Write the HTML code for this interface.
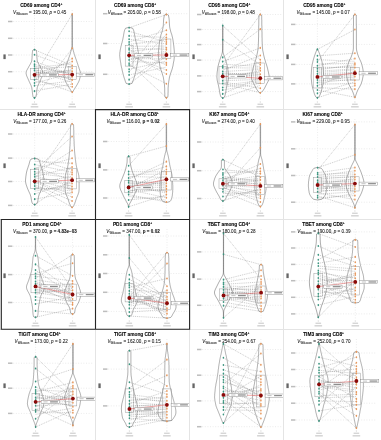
<!DOCTYPE html><html><head><meta charset="utf-8"><style>
body{margin:0;background:#fff;overflow:hidden;}
svg{display:block;will-change:transform;font-family:"Liberation Sans",sans-serif;}
.grid{stroke:#d2d2d2;stroke-width:0.45;stroke-dasharray:1 1.6;}
.vgrid{stroke:#cfcfcf;stroke-width:0.4;stroke-dasharray:1 1.6;}
.tickl{fill:#bdbdbd;}
.title{font-size:4.8px;font-weight:bold;fill:#000;stroke:#000;stroke-width:0.07;text-anchor:middle;}
.sup{font-size:3.2px;}
.sub{font-size:4.6px;fill:#111;stroke:#111;stroke-width:0.05;text-anchor:start;}
.subsc{font-size:2.85px;}
.ylab{fill:#666;}
.pair{stroke:#7e7e7e;stroke-width:0.4;stroke-dasharray:1 0.9;}
.vio{fill:#fff;stroke:#5a5a5a;stroke-width:0.5;}
.box{fill:none;stroke:#929292;stroke-width:0.45;}
.mline{stroke:#e45050;stroke-width:0.5;}
.lbox{fill:#fff;stroke:#808080;stroke-width:0.42;}
.lt1{fill:#c4c4c4;}
.lt2{fill:#8e8e8e;}
.xt{stroke:#aaa;stroke-width:0.4;}
.xl{fill:#d2d2d2;}
.sep{stroke:#e4e4e4;stroke-width:1;}
.frame{stroke:#262626;stroke-width:1.12;fill:none;}
</style></head><body>
<svg width="381" height="440" viewBox="0 0 381 440">
<rect width="381" height="440" fill="#fff"/>
<g transform="translate(0,0)">
<line x1="13.2" y1="21.50" x2="93.5" y2="21.50" class="grid"/>
<rect x="8" y="20.75" width="4.4" height="1.5" class="tickl"/>
<line x1="13.2" y1="38.30" x2="93.5" y2="38.30" class="grid"/>
<rect x="8" y="37.55" width="4.4" height="1.5" class="tickl"/>
<line x1="13.2" y1="55.00" x2="93.5" y2="55.00" class="grid"/>
<rect x="8" y="54.25" width="4.4" height="1.5" class="tickl"/>
<line x1="13.2" y1="71.70" x2="93.5" y2="71.70" class="grid"/>
<rect x="8" y="70.95" width="4.4" height="1.5" class="tickl"/>
<line x1="13.2" y1="88.30" x2="93.5" y2="88.30" class="grid"/>
<rect x="8" y="87.55" width="4.4" height="1.5" class="tickl"/>
<line x1="34.50" y1="10" x2="34.50" y2="102.5" class="vgrid"/>
<line x1="72.20" y1="10" x2="72.20" y2="102.5" class="vgrid"/>
<text x="41.20" y="7.3" class="title">CD69 among CD4<tspan class="sup" dy="-1.9">+</tspan></text>
<text x="13.10" y="14.3" class="sub"><tspan font-style="italic">V</tspan><tspan class="subsc" dy="0.9">Wilcoxon</tspan><tspan dy="-0.9"> = 195.00, </tspan><tspan font-style="italic">p</tspan> = 0.45</text>
<rect x="3.4" y="54.4" width="2.3" height="4.7" class="ylab"/>
<path d="M34.4,49.3 L32.7,50.3 L32.5,51.3 L32.4,52.3 L32.3,53.3 L32.2,54.3 L32.2,55.3 L32.1,56.3 L32.1,57.3 L32.0,58.3 L31.9,59.3 L31.8,60.3 L31.6,61.3 L31.2,62.3 L30.7,63.3 L30.2,64.3 L29.6,65.3 L29.0,66.3 L28.5,67.3 L27.9,68.3 L27.4,69.3 L26.8,70.3 L26.4,71.3 L26.2,72.3 L26.1,73.3 L26.3,74.3 L26.5,75.3 L26.9,76.3 L27.3,77.3 L27.8,78.3 L28.2,79.3 L28.7,80.3 L29.1,81.3 L29.6,82.3 L30.0,83.3 L30.5,84.3 L31.0,85.3 L31.3,86.3 L31.7,87.3 L31.9,88.3 L32.0,89.3 L32.2,90.3 L32.3,91.3 L32.4,92.3 L32.5,93.3 L32.6,94.3 L32.8,95.3 L32.9,96.3 L33.4,97.3 L34.4,98.3 L34.4,98.4 L34.6,98.4 L34.6,98.3 L35.6,97.3 L36.1,96.3 L36.2,95.3 L36.4,94.3 L36.5,93.3 L36.6,92.3 L36.7,91.3 L36.8,90.3 L37.0,89.3 L37.1,88.3 L37.3,87.3 L37.7,86.3 L38.0,85.3 L38.5,84.3 L39.0,83.3 L39.4,82.3 L39.9,81.3 L40.3,80.3 L40.8,79.3 L41.2,78.3 L41.7,77.3 L42.1,76.3 L42.5,75.3 L42.7,74.3 L42.9,73.3 L42.8,72.3 L42.6,71.3 L42.2,70.3 L41.6,69.3 L41.1,68.3 L40.5,67.3 L40.0,66.3 L39.4,65.3 L38.8,64.3 L38.3,63.3 L37.8,62.3 L37.4,61.3 L37.2,60.3 L37.1,59.3 L37.0,58.3 L36.9,57.3 L36.9,56.3 L36.8,55.3 L36.8,54.3 L36.7,53.3 L36.6,52.3 L36.5,51.3 L36.3,50.3 L34.6,49.3Z" class="vio"/>
<path d="M72.0,13.7 L72.0,14.7 L72.0,15.7 L72.0,16.7 L72.0,17.7 L72.0,18.7 L72.0,19.7 L72.0,20.7 L72.0,21.7 L72.0,22.7 L72.0,23.7 L72.0,24.7 L72.0,25.7 L72.0,26.7 L72.0,27.7 L72.0,28.7 L72.0,29.7 L72.0,30.7 L72.0,31.7 L72.0,32.7 L72.0,33.7 L72.0,34.7 L72.0,35.7 L72.0,36.7 L72.0,37.7 L72.0,38.7 L72.0,39.7 L72.0,40.7 L72.0,41.7 L72.0,42.7 L72.0,43.7 L72.0,44.7 L72.0,45.7 L71.9,46.7 L71.7,47.7 L71.5,48.7 L71.3,49.7 L71.1,50.7 L70.8,51.7 L70.5,52.7 L70.3,53.7 L70.0,54.7 L69.6,55.7 L69.3,56.7 L68.9,57.7 L68.6,58.7 L68.2,59.7 L67.9,60.7 L67.5,61.7 L67.2,62.7 L66.8,63.7 L66.5,64.7 L66.2,65.7 L65.8,66.7 L65.5,67.7 L65.2,68.7 L64.8,69.7 L64.5,70.7 L64.2,71.7 L64.0,72.7 L64.0,73.7 L64.0,74.7 L64.1,75.7 L64.2,76.7 L64.4,77.7 L64.7,78.7 L64.9,79.7 L65.3,80.7 L65.7,81.7 L66.2,82.7 L66.8,83.7 L67.3,84.7 L67.9,85.7 L68.5,86.7 L69.2,87.7 L69.8,88.7 L70.4,89.7 L71.0,90.7 L71.5,91.7 L72.0,92.5 L72.4,92.5 L72.9,91.7 L73.4,90.7 L74.0,89.7 L74.6,88.7 L75.2,87.7 L75.9,86.7 L76.5,85.7 L77.1,84.7 L77.6,83.7 L78.2,82.7 L78.7,81.7 L79.1,80.7 L79.5,79.7 L79.7,78.7 L80.0,77.7 L80.2,76.7 L80.3,75.7 L80.4,74.7 L80.4,73.7 L80.4,72.7 L80.2,71.7 L79.9,70.7 L79.6,69.7 L79.2,68.7 L78.9,67.7 L78.6,66.7 L78.2,65.7 L77.9,64.7 L77.6,63.7 L77.2,62.7 L76.9,61.7 L76.5,60.7 L76.2,59.7 L75.8,58.7 L75.5,57.7 L75.1,56.7 L74.8,55.7 L74.4,54.7 L74.1,53.7 L73.9,52.7 L73.6,51.7 L73.3,50.7 L73.1,49.7 L72.9,48.7 L72.7,47.7 L72.5,46.7 L72.4,45.7 L72.4,44.7 L72.4,43.7 L72.4,42.7 L72.4,41.7 L72.4,40.7 L72.4,39.7 L72.4,38.7 L72.4,37.7 L72.4,36.7 L72.4,35.7 L72.4,34.7 L72.4,33.7 L72.4,32.7 L72.4,31.7 L72.4,30.7 L72.4,29.7 L72.4,28.7 L72.4,27.7 L72.4,26.7 L72.4,25.7 L72.4,24.7 L72.4,23.7 L72.4,22.7 L72.4,21.7 L72.4,20.7 L72.4,19.7 L72.4,18.7 L72.4,17.7 L72.4,16.7 L72.4,15.7 L72.4,14.7 L72.4,13.7Z" class="vio"/>
<line x1="34.50" y1="49.80" x2="72.20" y2="65.51" class="pair"/>
<line x1="34.50" y1="54.82" x2="72.20" y2="68.27" class="pair"/>
<line x1="34.50" y1="61.33" x2="72.20" y2="74.97" class="pair"/>
<line x1="34.50" y1="64.28" x2="72.20" y2="75.95" class="pair"/>
<line x1="34.50" y1="66.12" x2="72.20" y2="74.18" class="pair"/>
<line x1="34.50" y1="67.47" x2="72.20" y2="63.74" class="pair"/>
<line x1="34.50" y1="68.57" x2="72.20" y2="66.89" class="pair"/>
<line x1="34.50" y1="69.55" x2="72.20" y2="79.89" class="pair"/>
<line x1="34.50" y1="70.54" x2="72.20" y2="71.42" class="pair"/>
<line x1="34.50" y1="71.27" x2="72.20" y2="82.26" class="pair"/>
<line x1="34.50" y1="72.01" x2="72.20" y2="78.71" class="pair"/>
<line x1="34.50" y1="72.75" x2="72.20" y2="72.41" class="pair"/>
<line x1="34.50" y1="73.36" x2="72.20" y2="70.44" class="pair"/>
<line x1="34.50" y1="74.10" x2="72.20" y2="61.57" class="pair"/>
<line x1="34.50" y1="74.83" x2="72.20" y2="77.73" class="pair"/>
<line x1="34.50" y1="75.69" x2="72.20" y2="14.20" class="pair"/>
<line x1="34.50" y1="76.55" x2="72.20" y2="76.74" class="pair"/>
<line x1="34.50" y1="77.53" x2="72.20" y2="69.45" class="pair"/>
<line x1="34.50" y1="78.64" x2="72.20" y2="92.00" class="pair"/>
<line x1="34.50" y1="79.86" x2="72.20" y2="58.62" class="pair"/>
<line x1="34.50" y1="81.22" x2="72.20" y2="86.79" class="pair"/>
<line x1="34.50" y1="83.06" x2="72.20" y2="73.19" class="pair"/>
<line x1="34.50" y1="85.63" x2="72.20" y2="80.88" class="pair"/>
<line x1="34.50" y1="91.16" x2="72.20" y2="84.03" class="pair"/>
<line x1="34.50" y1="97.90" x2="72.20" y2="48.37" class="pair"/>
<rect x="30.70" y="68.40" width="7.60" height="11.20" class="box"/>
<ellipse cx="34.50" cy="49.80" rx="0.8" ry="1.05" fill="#3a957f"/>
<ellipse cx="34.50" cy="54.82" rx="0.8" ry="1.05" fill="#3a957f"/>
<ellipse cx="34.50" cy="61.33" rx="0.8" ry="1.05" fill="#3a957f"/>
<ellipse cx="34.50" cy="64.28" rx="0.8" ry="1.05" fill="#3a957f"/>
<ellipse cx="34.50" cy="66.12" rx="0.8" ry="1.05" fill="#3a957f"/>
<ellipse cx="34.50" cy="68.57" rx="0.8" ry="1.05" fill="#3a957f"/>
<ellipse cx="34.50" cy="70.54" rx="0.8" ry="1.05" fill="#3a957f"/>
<ellipse cx="34.50" cy="74.10" rx="0.8" ry="1.05" fill="#3a957f"/>
<ellipse cx="34.50" cy="76.55" rx="0.8" ry="1.05" fill="#3a957f"/>
<ellipse cx="34.50" cy="79.86" rx="0.8" ry="1.05" fill="#3a957f"/>
<ellipse cx="34.50" cy="83.06" rx="0.8" ry="1.05" fill="#3a957f"/>
<ellipse cx="34.50" cy="85.63" rx="0.8" ry="1.05" fill="#3a957f"/>
<ellipse cx="34.50" cy="91.16" rx="0.8" ry="1.05" fill="#3a957f"/>
<ellipse cx="34.50" cy="97.90" rx="0.8" ry="1.05" fill="#3a957f"/>
<rect x="68.20" y="66.30" width="8.00" height="13.10" class="box"/>
<ellipse cx="72.20" cy="14.20" rx="0.8" ry="1.05" fill="#e8975a"/>
<ellipse cx="72.20" cy="48.37" rx="0.8" ry="1.05" fill="#e8975a"/>
<ellipse cx="72.20" cy="58.62" rx="0.8" ry="1.05" fill="#e8975a"/>
<ellipse cx="72.20" cy="61.57" rx="0.8" ry="1.05" fill="#e8975a"/>
<ellipse cx="72.20" cy="65.51" rx="0.8" ry="1.05" fill="#e8975a"/>
<ellipse cx="72.20" cy="68.27" rx="0.8" ry="1.05" fill="#e8975a"/>
<ellipse cx="72.20" cy="71.42" rx="0.8" ry="1.05" fill="#e8975a"/>
<ellipse cx="72.20" cy="74.18" rx="0.8" ry="1.05" fill="#e8975a"/>
<ellipse cx="72.20" cy="76.74" rx="0.8" ry="1.05" fill="#e8975a"/>
<ellipse cx="72.20" cy="79.89" rx="0.8" ry="1.05" fill="#e8975a"/>
<ellipse cx="72.20" cy="84.03" rx="0.8" ry="1.05" fill="#e8975a"/>
<ellipse cx="72.20" cy="86.79" rx="0.8" ry="1.05" fill="#e8975a"/>
<ellipse cx="72.20" cy="92.00" rx="0.8" ry="1.05" fill="#e8975a"/>
<line x1="34.50" y1="74.80" x2="72.20" y2="74.60" class="mline"/>
<circle cx="34.50" cy="74.80" r="1.9" fill="#8a0a0a"/>
<circle cx="72.20" cy="74.60" r="1.9" fill="#8a0a0a"/>
<rect x="40.00" y="73.30" width="18.2" height="3.2" class="lbox"/>
<rect x="42.30" y="74.40" width="4.2" height="1.0" class="lt1"/>
<rect x="49.00" y="74.25" width="7.8" height="1.25" class="lt2"/>
<rect x="76.40" y="73.10" width="18.2" height="3.2" class="lbox"/>
<rect x="78.70" y="74.20" width="4.2" height="1.0" class="lt1"/>
<rect x="85.40" y="74.05" width="7.8" height="1.25" class="lt2"/>
<line x1="34.50" y1="101.8" x2="34.50" y2="102.8" class="xt"/>
<rect x="31.70" y="103.6" width="5.6" height="1.3" class="xl"/>
<rect x="30.70" y="106.1" width="7.6" height="1.4" class="xl"/>
<line x1="72.20" y1="101.8" x2="72.20" y2="102.8" class="xt"/>
<rect x="69.40" y="103.6" width="5.6" height="1.3" class="xl"/>
<rect x="68.40" y="106.1" width="7.6" height="1.4" class="xl"/>
</g>
<g transform="translate(95,0)">
<line x1="13.2" y1="13.70" x2="93.5" y2="13.70" class="grid"/>
<rect x="8" y="12.95" width="4.4" height="1.5" class="tickl"/>
<line x1="13.2" y1="43.50" x2="93.5" y2="43.50" class="grid"/>
<rect x="8" y="42.75" width="4.4" height="1.5" class="tickl"/>
<line x1="13.2" y1="74.30" x2="93.5" y2="74.30" class="grid"/>
<rect x="8" y="73.55" width="4.4" height="1.5" class="tickl"/>
<line x1="34.10" y1="10" x2="34.10" y2="102.5" class="vgrid"/>
<line x1="71.40" y1="10" x2="71.40" y2="102.5" class="vgrid"/>
<text x="40.00" y="7.3" class="title">CD69 among CD8<tspan class="sup" dy="-1.9">+</tspan></text>
<text x="12.70" y="14.3" class="sub"><tspan font-style="italic">V</tspan><tspan class="subsc" dy="0.9">Wilcoxon</tspan><tspan dy="-0.9"> = 205.00, </tspan><tspan font-style="italic">p</tspan> = 0.58</text>
<rect x="3.4" y="54.4" width="2.3" height="4.7" class="ylab"/>
<path d="M34.0,27.3 L30.5,28.3 L30.0,29.3 L29.6,30.3 L29.3,31.3 L29.1,32.3 L28.9,33.3 L28.7,34.3 L28.6,35.3 L28.4,36.3 L28.2,37.3 L28.0,38.3 L27.8,39.3 L27.6,40.3 L27.3,41.3 L27.1,42.3 L26.8,43.3 L26.5,44.3 L26.3,45.3 L26.0,46.3 L25.8,47.3 L25.6,48.3 L25.4,49.3 L25.2,50.3 L25.1,51.3 L24.9,52.3 L24.8,53.3 L24.8,54.3 L24.7,55.3 L24.8,56.3 L24.9,57.3 L25.0,58.3 L25.1,59.3 L25.3,60.3 L25.4,61.3 L25.6,62.3 L25.8,63.3 L25.9,64.3 L26.1,65.3 L26.3,66.3 L26.5,67.3 L26.8,68.3 L27.0,69.3 L27.2,70.3 L27.4,71.3 L27.7,72.3 L27.9,73.3 L28.2,74.3 L28.4,75.3 L28.7,76.3 L29.0,77.3 L29.3,78.3 L29.7,79.3 L30.0,80.3 L30.3,81.3 L30.7,82.3 L31.1,83.3 L34.0,84.3 L34.0,84.5 L34.2,84.5 L34.2,84.3 L37.1,83.3 L37.5,82.3 L37.9,81.3 L38.2,80.3 L38.5,79.3 L38.9,78.3 L39.2,77.3 L39.5,76.3 L39.8,75.3 L40.0,74.3 L40.3,73.3 L40.5,72.3 L40.8,71.3 L41.0,70.3 L41.2,69.3 L41.4,68.3 L41.7,67.3 L41.9,66.3 L42.1,65.3 L42.3,64.3 L42.4,63.3 L42.6,62.3 L42.8,61.3 L42.9,60.3 L43.1,59.3 L43.2,58.3 L43.3,57.3 L43.4,56.3 L43.5,55.3 L43.4,54.3 L43.4,53.3 L43.3,52.3 L43.1,51.3 L43.0,50.3 L42.8,49.3 L42.6,48.3 L42.4,47.3 L42.2,46.3 L41.9,45.3 L41.7,44.3 L41.4,43.3 L41.1,42.3 L40.9,41.3 L40.6,40.3 L40.4,39.3 L40.2,38.3 L40.0,37.3 L39.8,36.3 L39.6,35.3 L39.5,34.3 L39.3,33.3 L39.1,32.3 L38.9,31.3 L38.6,30.3 L38.2,29.3 L37.7,28.3 L34.2,27.3Z" class="vio"/>
<path d="M71.2,14.1 L69.4,15.1 L69.2,16.1 L69.0,17.1 L68.8,18.1 L68.7,19.1 L68.6,20.1 L68.5,21.1 L68.5,22.1 L68.4,23.1 L68.4,24.1 L68.3,25.1 L68.2,26.1 L68.1,27.1 L67.9,28.1 L67.7,29.1 L67.4,30.1 L67.2,31.1 L66.9,32.1 L66.6,33.1 L66.2,34.1 L65.9,35.1 L65.7,36.1 L65.4,37.1 L65.2,38.1 L65.0,39.1 L64.8,40.1 L64.7,41.1 L64.5,42.1 L64.4,43.1 L64.3,44.1 L64.1,45.1 L64.0,46.1 L63.9,47.1 L63.8,48.1 L63.7,49.1 L63.6,50.1 L63.5,51.1 L63.5,52.1 L63.4,53.1 L63.4,54.1 L63.4,55.1 L63.4,56.1 L63.5,57.1 L63.6,58.1 L63.7,59.1 L63.8,60.1 L64.0,61.1 L64.2,62.1 L64.4,63.1 L64.6,64.1 L64.7,65.1 L64.9,66.1 L65.2,67.1 L65.4,68.1 L65.7,69.1 L66.0,70.1 L66.4,71.1 L66.7,72.1 L67.1,73.1 L67.4,74.1 L67.7,75.1 L68.0,76.1 L68.3,77.1 L68.5,78.1 L68.6,79.1 L68.8,80.1 L69.0,81.1 L69.1,82.1 L69.2,83.1 L69.4,84.1 L69.5,85.1 L69.5,86.1 L69.6,87.1 L69.7,88.1 L69.7,89.1 L69.7,90.1 L69.7,91.1 L69.7,92.1 L69.8,93.1 L69.8,94.1 L69.8,95.1 L69.9,96.1 L70.0,97.1 L71.2,98.1 L71.2,98.2 L71.6,98.2 L71.6,98.1 L72.8,97.1 L72.9,96.1 L73.0,95.1 L73.0,94.1 L73.0,93.1 L73.1,92.1 L73.1,91.1 L73.1,90.1 L73.1,89.1 L73.1,88.1 L73.2,87.1 L73.3,86.1 L73.3,85.1 L73.4,84.1 L73.6,83.1 L73.7,82.1 L73.8,81.1 L74.0,80.1 L74.2,79.1 L74.3,78.1 L74.5,77.1 L74.8,76.1 L75.1,75.1 L75.4,74.1 L75.7,73.1 L76.1,72.1 L76.4,71.1 L76.8,70.1 L77.1,69.1 L77.4,68.1 L77.6,67.1 L77.9,66.1 L78.1,65.1 L78.2,64.1 L78.4,63.1 L78.6,62.1 L78.8,61.1 L79.0,60.1 L79.1,59.1 L79.2,58.1 L79.3,57.1 L79.4,56.1 L79.4,55.1 L79.4,54.1 L79.4,53.1 L79.3,52.1 L79.3,51.1 L79.2,50.1 L79.1,49.1 L79.0,48.1 L78.9,47.1 L78.8,46.1 L78.7,45.1 L78.5,44.1 L78.4,43.1 L78.3,42.1 L78.1,41.1 L78.0,40.1 L77.8,39.1 L77.6,38.1 L77.4,37.1 L77.1,36.1 L76.9,35.1 L76.6,34.1 L76.2,33.1 L75.9,32.1 L75.6,31.1 L75.4,30.1 L75.1,29.1 L74.9,28.1 L74.7,27.1 L74.6,26.1 L74.5,25.1 L74.4,24.1 L74.4,23.1 L74.3,22.1 L74.3,21.1 L74.2,20.1 L74.1,19.1 L74.0,18.1 L73.8,17.1 L73.6,16.1 L73.4,15.1 L71.6,14.1Z" class="vio"/>
<line x1="34.10" y1="27.80" x2="71.40" y2="14.60" class="pair"/>
<line x1="34.10" y1="31.30" x2="71.40" y2="42.06" class="pair"/>
<line x1="34.10" y1="35.88" x2="71.40" y2="37.44" class="pair"/>
<line x1="34.10" y1="39.31" x2="71.40" y2="43.96" class="pair"/>
<line x1="34.10" y1="42.03" x2="71.40" y2="30.29" class="pair"/>
<line x1="34.10" y1="44.32" x2="71.40" y2="39.75" class="pair"/>
<line x1="34.10" y1="46.32" x2="71.40" y2="46.06" class="pair"/>
<line x1="34.10" y1="48.18" x2="71.40" y2="49.63" class="pair"/>
<line x1="34.10" y1="49.75" x2="71.40" y2="64.98" class="pair"/>
<line x1="34.10" y1="51.32" x2="71.40" y2="47.74" class="pair"/>
<line x1="34.10" y1="52.75" x2="71.40" y2="57.41" class="pair"/>
<line x1="34.10" y1="54.18" x2="71.40" y2="74.02" class="pair"/>
<line x1="34.10" y1="55.47" x2="71.40" y2="70.03" class="pair"/>
<line x1="34.10" y1="56.90" x2="71.40" y2="51.31" class="pair"/>
<line x1="34.10" y1="58.33" x2="71.40" y2="59.09" class="pair"/>
<line x1="34.10" y1="59.90" x2="71.40" y2="52.79" class="pair"/>
<line x1="34.10" y1="61.48" x2="71.40" y2="62.88" class="pair"/>
<line x1="34.10" y1="63.19" x2="71.40" y2="97.70" class="pair"/>
<line x1="34.10" y1="65.05" x2="71.40" y2="83.69" class="pair"/>
<line x1="34.10" y1="67.05" x2="71.40" y2="22.51" class="pair"/>
<line x1="34.10" y1="69.34" x2="71.40" y2="60.99" class="pair"/>
<line x1="34.10" y1="71.77" x2="71.40" y2="34.49" class="pair"/>
<line x1="34.10" y1="74.92" x2="71.40" y2="67.08" class="pair"/>
<line x1="34.10" y1="79.64" x2="71.40" y2="54.47" class="pair"/>
<line x1="34.10" y1="84.00" x2="71.40" y2="55.94" class="pair"/>
<rect x="30.20" y="45.70" width="7.80" height="20.40" class="box"/>
<ellipse cx="34.10" cy="27.80" rx="0.8" ry="1.05" fill="#3a957f"/>
<ellipse cx="34.10" cy="31.30" rx="0.8" ry="1.05" fill="#3a957f"/>
<ellipse cx="34.10" cy="35.88" rx="0.8" ry="1.05" fill="#3a957f"/>
<ellipse cx="34.10" cy="39.31" rx="0.8" ry="1.05" fill="#3a957f"/>
<ellipse cx="34.10" cy="42.03" rx="0.8" ry="1.05" fill="#3a957f"/>
<ellipse cx="34.10" cy="44.32" rx="0.8" ry="1.05" fill="#3a957f"/>
<ellipse cx="34.10" cy="48.18" rx="0.8" ry="1.05" fill="#3a957f"/>
<ellipse cx="34.10" cy="49.75" rx="0.8" ry="1.05" fill="#3a957f"/>
<ellipse cx="34.10" cy="52.75" rx="0.8" ry="1.05" fill="#3a957f"/>
<ellipse cx="34.10" cy="56.90" rx="0.8" ry="1.05" fill="#3a957f"/>
<ellipse cx="34.10" cy="59.90" rx="0.8" ry="1.05" fill="#3a957f"/>
<ellipse cx="34.10" cy="63.19" rx="0.8" ry="1.05" fill="#3a957f"/>
<ellipse cx="34.10" cy="65.05" rx="0.8" ry="1.05" fill="#3a957f"/>
<ellipse cx="34.10" cy="69.34" rx="0.8" ry="1.05" fill="#3a957f"/>
<ellipse cx="34.10" cy="71.77" rx="0.8" ry="1.05" fill="#3a957f"/>
<ellipse cx="34.10" cy="74.92" rx="0.8" ry="1.05" fill="#3a957f"/>
<ellipse cx="34.10" cy="79.64" rx="0.8" ry="1.05" fill="#3a957f"/>
<ellipse cx="34.10" cy="84.00" rx="0.8" ry="1.05" fill="#3a957f"/>
<rect x="66.90" y="39.00" width="9.00" height="19.40" class="box"/>
<ellipse cx="71.40" cy="14.60" rx="0.8" ry="1.05" fill="#e8975a"/>
<ellipse cx="71.40" cy="22.51" rx="0.8" ry="1.05" fill="#e8975a"/>
<ellipse cx="71.40" cy="30.29" rx="0.8" ry="1.05" fill="#e8975a"/>
<ellipse cx="71.40" cy="34.49" rx="0.8" ry="1.05" fill="#e8975a"/>
<ellipse cx="71.40" cy="37.44" rx="0.8" ry="1.05" fill="#e8975a"/>
<ellipse cx="71.40" cy="39.75" rx="0.8" ry="1.05" fill="#e8975a"/>
<ellipse cx="71.40" cy="42.06" rx="0.8" ry="1.05" fill="#e8975a"/>
<ellipse cx="71.40" cy="43.96" rx="0.8" ry="1.05" fill="#e8975a"/>
<ellipse cx="71.40" cy="47.74" rx="0.8" ry="1.05" fill="#e8975a"/>
<ellipse cx="71.40" cy="49.63" rx="0.8" ry="1.05" fill="#e8975a"/>
<ellipse cx="71.40" cy="52.79" rx="0.8" ry="1.05" fill="#e8975a"/>
<ellipse cx="71.40" cy="55.94" rx="0.8" ry="1.05" fill="#e8975a"/>
<ellipse cx="71.40" cy="59.09" rx="0.8" ry="1.05" fill="#e8975a"/>
<ellipse cx="71.40" cy="62.88" rx="0.8" ry="1.05" fill="#e8975a"/>
<ellipse cx="71.40" cy="64.98" rx="0.8" ry="1.05" fill="#e8975a"/>
<ellipse cx="71.40" cy="70.03" rx="0.8" ry="1.05" fill="#e8975a"/>
<ellipse cx="71.40" cy="74.02" rx="0.8" ry="1.05" fill="#e8975a"/>
<ellipse cx="71.40" cy="83.69" rx="0.8" ry="1.05" fill="#e8975a"/>
<ellipse cx="71.40" cy="97.70" rx="0.8" ry="1.05" fill="#e8975a"/>
<line x1="34.10" y1="55.30" x2="71.40" y2="55.00" class="mline"/>
<circle cx="34.10" cy="55.30" r="1.9" fill="#8a0a0a"/>
<circle cx="71.40" cy="55.00" r="1.9" fill="#8a0a0a"/>
<rect x="39.60" y="53.80" width="18.2" height="3.2" class="lbox"/>
<rect x="41.90" y="54.90" width="4.2" height="1.0" class="lt1"/>
<rect x="48.60" y="54.75" width="7.8" height="1.25" class="lt2"/>
<rect x="75.60" y="53.50" width="18.2" height="3.2" class="lbox"/>
<rect x="77.90" y="54.60" width="4.2" height="1.0" class="lt1"/>
<rect x="84.60" y="54.45" width="7.8" height="1.25" class="lt2"/>
<line x1="34.10" y1="101.8" x2="34.10" y2="102.8" class="xt"/>
<rect x="31.30" y="103.6" width="5.6" height="1.3" class="xl"/>
<rect x="30.30" y="106.1" width="7.6" height="1.4" class="xl"/>
<line x1="71.40" y1="101.8" x2="71.40" y2="102.8" class="xt"/>
<rect x="68.60" y="103.6" width="5.6" height="1.3" class="xl"/>
<rect x="67.60" y="106.1" width="7.6" height="1.4" class="xl"/>
</g>
<g transform="translate(189,0)">
<line x1="13.2" y1="14.50" x2="93.5" y2="14.50" class="grid"/>
<rect x="8" y="13.75" width="4.4" height="1.5" class="tickl"/>
<line x1="13.2" y1="29.50" x2="93.5" y2="29.50" class="grid"/>
<rect x="8" y="28.75" width="4.4" height="1.5" class="tickl"/>
<line x1="13.2" y1="44.60" x2="93.5" y2="44.60" class="grid"/>
<rect x="8" y="43.85" width="4.4" height="1.5" class="tickl"/>
<line x1="13.2" y1="60.10" x2="93.5" y2="60.10" class="grid"/>
<rect x="8" y="59.35" width="4.4" height="1.5" class="tickl"/>
<line x1="13.2" y1="75.90" x2="93.5" y2="75.90" class="grid"/>
<rect x="8" y="75.15" width="4.4" height="1.5" class="tickl"/>
<line x1="13.2" y1="91.60" x2="93.5" y2="91.60" class="grid"/>
<rect x="8" y="90.85" width="4.4" height="1.5" class="tickl"/>
<line x1="33.70" y1="10" x2="33.70" y2="102.5" class="vgrid"/>
<line x1="71.30" y1="10" x2="71.30" y2="102.5" class="vgrid"/>
<text x="40.20" y="7.3" class="title">CD95 among CD4<tspan class="sup" dy="-1.9">+</tspan></text>
<text x="12.70" y="14.3" class="sub"><tspan font-style="italic">V</tspan><tspan class="subsc" dy="0.9">Wilcoxon</tspan><tspan dy="-0.9"> = 198.00, </tspan><tspan font-style="italic">p</tspan> = 0.48</text>
<rect x="3.4" y="54.4" width="2.3" height="4.7" class="ylab"/>
<path d="M33.6,25.1 L33.6,26.1 L33.6,27.1 L33.6,28.1 L33.6,29.1 L33.6,30.1 L33.6,31.1 L33.6,32.1 L33.6,33.1 L33.6,34.1 L33.6,35.1 L33.6,36.1 L33.6,37.1 L33.6,38.1 L33.6,39.1 L33.6,40.1 L33.6,41.1 L33.6,42.1 L33.6,43.1 L33.6,44.1 L33.6,45.1 L33.6,46.1 L33.6,47.1 L33.6,48.1 L33.6,49.1 L33.5,50.1 L33.5,51.1 L33.4,52.1 L33.2,53.1 L32.9,54.1 L32.6,55.1 L32.2,56.1 L31.8,57.1 L31.5,58.1 L31.1,59.1 L30.8,60.1 L30.5,61.1 L30.2,62.1 L29.9,63.1 L29.6,64.1 L29.4,65.1 L29.1,66.1 L28.9,67.1 L28.7,68.1 L28.6,69.1 L28.5,70.1 L28.3,71.1 L28.2,72.1 L28.1,73.1 L28.0,74.1 L28.0,75.1 L27.9,76.1 L27.9,77.1 L28.0,78.1 L28.1,79.1 L28.2,80.1 L28.4,81.1 L28.6,82.1 L28.9,83.1 L29.1,84.1 L29.4,85.1 L29.6,86.1 L29.8,87.1 L30.0,88.1 L30.2,89.1 L30.4,90.1 L30.5,91.1 L30.7,92.1 L30.8,93.1 L31.1,94.1 L31.3,95.1 L31.6,96.1 L32.1,97.1 L33.6,98.1 L33.6,98.5 L33.9,98.5 L33.9,98.1 L35.3,97.1 L35.8,96.1 L36.1,95.1 L36.3,94.1 L36.6,93.1 L36.7,92.1 L36.9,91.1 L37.0,90.1 L37.2,89.1 L37.4,88.1 L37.6,87.1 L37.8,86.1 L38.0,85.1 L38.3,84.1 L38.5,83.1 L38.8,82.1 L39.0,81.1 L39.2,80.1 L39.3,79.1 L39.4,78.1 L39.5,77.1 L39.5,76.1 L39.4,75.1 L39.4,74.1 L39.3,73.1 L39.2,72.1 L39.1,71.1 L38.9,70.1 L38.8,69.1 L38.7,68.1 L38.5,67.1 L38.3,66.1 L38.0,65.1 L37.8,64.1 L37.5,63.1 L37.2,62.1 L36.9,61.1 L36.6,60.1 L36.3,59.1 L35.9,58.1 L35.6,57.1 L35.2,56.1 L34.8,55.1 L34.5,54.1 L34.2,53.1 L34.0,52.1 L33.9,51.1 L33.9,50.1 L33.9,49.1 L33.9,48.1 L33.9,47.1 L33.9,46.1 L33.9,45.1 L33.9,44.1 L33.9,43.1 L33.9,42.1 L33.9,41.1 L33.9,40.1 L33.9,39.1 L33.9,38.1 L33.9,37.1 L33.9,36.1 L33.9,35.1 L33.9,34.1 L33.9,33.1 L33.9,32.1 L33.9,31.1 L33.9,30.1 L33.9,29.1 L33.9,28.1 L33.9,27.1 L33.9,26.1 L33.9,25.1Z" class="vio"/>
<path d="M71.1,14.1 L70.0,15.1 L69.9,16.1 L69.9,17.1 L69.9,18.1 L69.9,19.1 L69.8,20.1 L69.8,21.1 L69.8,22.1 L69.8,23.1 L69.8,24.1 L69.8,25.1 L69.7,26.1 L69.7,27.1 L69.7,28.1 L69.7,29.1 L69.7,30.1 L69.7,31.1 L69.6,32.1 L69.6,33.1 L69.6,34.1 L69.6,35.1 L69.6,36.1 L69.6,37.1 L69.5,38.1 L69.5,39.1 L69.5,40.1 L69.5,41.1 L69.4,42.1 L69.4,43.1 L69.4,44.1 L69.3,45.1 L69.3,46.1 L69.2,47.1 L69.1,48.1 L69.0,49.1 L68.9,50.1 L68.7,51.1 L68.5,52.1 L68.3,53.1 L68.1,54.1 L67.9,55.1 L67.7,56.1 L67.4,57.1 L67.2,58.1 L66.9,59.1 L66.6,60.1 L66.3,61.1 L66.0,62.1 L65.7,63.1 L65.3,64.1 L65.0,65.1 L64.7,66.1 L64.4,67.1 L64.1,68.1 L63.9,69.1 L63.7,70.1 L63.4,71.1 L63.2,72.1 L63.0,73.1 L62.8,74.1 L62.6,75.1 L62.5,76.1 L62.5,77.1 L62.5,78.1 L62.7,79.1 L63.0,80.1 L63.4,81.1 L63.9,82.1 L64.5,83.1 L65.0,84.1 L65.5,85.1 L66.0,86.1 L66.5,87.1 L67.0,88.1 L67.6,89.1 L68.3,90.1 L69.0,91.1 L70.0,92.1 L71.1,93.1 L71.1,93.2 L71.5,93.2 L71.5,93.1 L72.6,92.1 L73.6,91.1 L74.3,90.1 L75.0,89.1 L75.6,88.1 L76.1,87.1 L76.6,86.1 L77.1,85.1 L77.6,84.1 L78.1,83.1 L78.7,82.1 L79.2,81.1 L79.6,80.1 L79.9,79.1 L80.1,78.1 L80.1,77.1 L80.1,76.1 L80.0,75.1 L79.8,74.1 L79.6,73.1 L79.4,72.1 L79.2,71.1 L78.9,70.1 L78.7,69.1 L78.5,68.1 L78.2,67.1 L77.9,66.1 L77.6,65.1 L77.3,64.1 L76.9,63.1 L76.6,62.1 L76.3,61.1 L76.0,60.1 L75.7,59.1 L75.4,58.1 L75.2,57.1 L74.9,56.1 L74.7,55.1 L74.5,54.1 L74.3,53.1 L74.1,52.1 L73.9,51.1 L73.7,50.1 L73.6,49.1 L73.5,48.1 L73.4,47.1 L73.3,46.1 L73.3,45.1 L73.2,44.1 L73.2,43.1 L73.2,42.1 L73.1,41.1 L73.1,40.1 L73.1,39.1 L73.1,38.1 L73.0,37.1 L73.0,36.1 L73.0,35.1 L73.0,34.1 L73.0,33.1 L73.0,32.1 L72.9,31.1 L72.9,30.1 L72.9,29.1 L72.9,28.1 L72.9,27.1 L72.9,26.1 L72.8,25.1 L72.8,24.1 L72.8,23.1 L72.8,22.1 L72.8,21.1 L72.8,20.1 L72.7,19.1 L72.7,18.1 L72.7,17.1 L72.7,16.1 L72.6,15.1 L71.5,14.1Z" class="vio"/>
<line x1="33.70" y1="25.60" x2="71.30" y2="59.78" class="pair"/>
<line x1="33.70" y1="39.78" x2="71.30" y2="64.72" class="pair"/>
<line x1="33.70" y1="57.40" x2="71.30" y2="29.13" class="pair"/>
<line x1="33.70" y1="61.62" x2="71.30" y2="47.92" class="pair"/>
<line x1="33.70" y1="64.19" x2="71.30" y2="66.50" class="pair"/>
<line x1="33.70" y1="66.02" x2="71.30" y2="14.60" class="pair"/>
<line x1="33.70" y1="67.67" x2="71.30" y2="68.09" class="pair"/>
<line x1="33.70" y1="68.96" x2="71.30" y2="62.55" class="pair"/>
<line x1="33.70" y1="70.24" x2="71.30" y2="55.43" class="pair"/>
<line x1="33.70" y1="71.53" x2="71.30" y2="69.47" class="pair"/>
<line x1="33.70" y1="72.81" x2="71.30" y2="75.20" class="pair"/>
<line x1="33.70" y1="73.91" x2="71.30" y2="73.03" class="pair"/>
<line x1="33.70" y1="75.01" x2="71.30" y2="76.39" class="pair"/>
<line x1="33.70" y1="76.11" x2="71.30" y2="78.37" class="pair"/>
<line x1="33.70" y1="77.21" x2="71.30" y2="72.04" class="pair"/>
<line x1="33.70" y1="78.13" x2="71.30" y2="70.66" class="pair"/>
<line x1="33.70" y1="79.42" x2="71.30" y2="74.22" class="pair"/>
<line x1="33.70" y1="80.70" x2="71.30" y2="79.36" class="pair"/>
<line x1="33.70" y1="81.98" x2="71.30" y2="88.26" class="pair"/>
<line x1="33.70" y1="83.45" x2="71.30" y2="92.70" class="pair"/>
<line x1="33.70" y1="85.29" x2="71.30" y2="80.54" class="pair"/>
<line x1="33.70" y1="87.49" x2="71.30" y2="81.93" class="pair"/>
<line x1="33.70" y1="90.06" x2="71.30" y2="83.31" class="pair"/>
<line x1="33.70" y1="93.91" x2="71.30" y2="77.38" class="pair"/>
<line x1="33.70" y1="98.00" x2="71.30" y2="85.29" class="pair"/>
<rect x="30.00" y="66.60" width="7.40" height="17.30" class="box"/>
<ellipse cx="33.70" cy="25.60" rx="0.8" ry="1.05" fill="#3a957f"/>
<ellipse cx="33.70" cy="39.78" rx="0.8" ry="1.05" fill="#3a957f"/>
<ellipse cx="33.70" cy="57.40" rx="0.8" ry="1.05" fill="#3a957f"/>
<ellipse cx="33.70" cy="61.62" rx="0.8" ry="1.05" fill="#3a957f"/>
<ellipse cx="33.70" cy="66.02" rx="0.8" ry="1.05" fill="#3a957f"/>
<ellipse cx="33.70" cy="67.67" rx="0.8" ry="1.05" fill="#3a957f"/>
<ellipse cx="33.70" cy="71.53" rx="0.8" ry="1.05" fill="#3a957f"/>
<ellipse cx="33.70" cy="73.91" rx="0.8" ry="1.05" fill="#3a957f"/>
<ellipse cx="33.70" cy="77.21" rx="0.8" ry="1.05" fill="#3a957f"/>
<ellipse cx="33.70" cy="80.70" rx="0.8" ry="1.05" fill="#3a957f"/>
<ellipse cx="33.70" cy="83.45" rx="0.8" ry="1.05" fill="#3a957f"/>
<ellipse cx="33.70" cy="87.49" rx="0.8" ry="1.05" fill="#3a957f"/>
<ellipse cx="33.70" cy="90.06" rx="0.8" ry="1.05" fill="#3a957f"/>
<ellipse cx="33.70" cy="93.91" rx="0.8" ry="1.05" fill="#3a957f"/>
<ellipse cx="33.70" cy="98.00" rx="0.8" ry="1.05" fill="#3a957f"/>
<rect x="66.90" y="63.00" width="8.80" height="20.40" class="box"/>
<ellipse cx="71.30" cy="14.60" rx="0.8" ry="1.05" fill="#e8975a"/>
<ellipse cx="71.30" cy="29.13" rx="0.8" ry="1.05" fill="#e8975a"/>
<ellipse cx="71.30" cy="47.92" rx="0.8" ry="1.05" fill="#e8975a"/>
<ellipse cx="71.30" cy="55.43" rx="0.8" ry="1.05" fill="#e8975a"/>
<ellipse cx="71.30" cy="59.78" rx="0.8" ry="1.05" fill="#e8975a"/>
<ellipse cx="71.30" cy="62.55" rx="0.8" ry="1.05" fill="#e8975a"/>
<ellipse cx="71.30" cy="64.72" rx="0.8" ry="1.05" fill="#e8975a"/>
<ellipse cx="71.30" cy="68.09" rx="0.8" ry="1.05" fill="#e8975a"/>
<ellipse cx="71.30" cy="70.66" rx="0.8" ry="1.05" fill="#e8975a"/>
<ellipse cx="71.30" cy="74.22" rx="0.8" ry="1.05" fill="#e8975a"/>
<ellipse cx="71.30" cy="77.38" rx="0.8" ry="1.05" fill="#e8975a"/>
<ellipse cx="71.30" cy="80.54" rx="0.8" ry="1.05" fill="#e8975a"/>
<ellipse cx="71.30" cy="83.31" rx="0.8" ry="1.05" fill="#e8975a"/>
<ellipse cx="71.30" cy="88.26" rx="0.8" ry="1.05" fill="#e8975a"/>
<ellipse cx="71.30" cy="92.70" rx="0.8" ry="1.05" fill="#e8975a"/>
<line x1="33.70" y1="76.30" x2="71.30" y2="78.20" class="mline"/>
<circle cx="33.70" cy="76.30" r="1.9" fill="#8a0a0a"/>
<circle cx="71.30" cy="78.20" r="1.9" fill="#8a0a0a"/>
<rect x="39.20" y="74.80" width="18.2" height="3.2" class="lbox"/>
<rect x="41.50" y="75.90" width="4.2" height="1.0" class="lt1"/>
<rect x="48.20" y="75.75" width="7.8" height="1.25" class="lt2"/>
<rect x="75.50" y="76.70" width="18.2" height="3.2" class="lbox"/>
<rect x="77.80" y="77.80" width="4.2" height="1.0" class="lt1"/>
<rect x="84.50" y="77.65" width="7.8" height="1.25" class="lt2"/>
<line x1="33.70" y1="101.8" x2="33.70" y2="102.8" class="xt"/>
<rect x="30.90" y="103.6" width="5.6" height="1.3" class="xl"/>
<rect x="29.90" y="106.1" width="7.6" height="1.4" class="xl"/>
<line x1="71.30" y1="101.8" x2="71.30" y2="102.8" class="xt"/>
<rect x="68.50" y="103.6" width="5.6" height="1.3" class="xl"/>
<rect x="67.50" y="106.1" width="7.6" height="1.4" class="xl"/>
</g>
<g transform="translate(283,0)">
<line x1="13.2" y1="24.40" x2="93.5" y2="24.40" class="grid"/>
<rect x="8" y="23.65" width="4.4" height="1.5" class="tickl"/>
<line x1="13.2" y1="44.40" x2="93.5" y2="44.40" class="grid"/>
<rect x="8" y="43.65" width="4.4" height="1.5" class="tickl"/>
<line x1="13.2" y1="64.40" x2="93.5" y2="64.40" class="grid"/>
<rect x="8" y="63.65" width="4.4" height="1.5" class="tickl"/>
<line x1="13.2" y1="83.90" x2="93.5" y2="83.90" class="grid"/>
<rect x="8" y="83.15" width="4.4" height="1.5" class="tickl"/>
<line x1="34.40" y1="10" x2="34.40" y2="102.5" class="vgrid"/>
<line x1="71.90" y1="10" x2="71.90" y2="102.5" class="vgrid"/>
<text x="41.20" y="7.3" class="title">CD95 among CD8<tspan class="sup" dy="-1.9">+</tspan></text>
<text x="13.50" y="14.3" class="sub"><tspan font-style="italic">V</tspan><tspan class="subsc" dy="0.9">Wilcoxon</tspan><tspan dy="-0.9"> = 145.00, </tspan><tspan font-style="italic">p</tspan> = 0.07</text>
<rect x="3.4" y="54.4" width="2.3" height="4.7" class="ylab"/>
<path d="M34.2,48.9 L33.8,49.9 L33.4,50.9 L33.0,51.9 L32.6,52.9 L32.2,53.9 L31.9,54.9 L31.5,55.9 L31.2,56.9 L30.9,57.9 L30.6,58.9 L30.3,59.9 L30.0,60.9 L29.8,61.9 L29.6,62.9 L29.3,63.9 L29.1,64.9 L29.0,65.9 L28.8,66.9 L28.7,67.9 L28.6,68.9 L28.5,69.9 L28.4,70.9 L28.4,71.9 L28.3,72.9 L28.3,73.9 L28.2,74.9 L28.2,75.9 L28.2,76.9 L28.2,77.9 L28.3,78.9 L28.4,79.9 L28.5,80.9 L28.6,81.9 L28.7,82.9 L28.8,83.9 L29.0,84.9 L29.2,85.9 L29.4,86.9 L29.6,87.9 L29.9,88.9 L30.2,89.9 L30.5,90.9 L30.8,91.9 L31.1,92.9 L31.4,93.9 L31.8,94.9 L32.3,95.9 L32.8,96.9 L34.2,97.9 L34.2,98.3 L34.5,98.3 L34.5,97.9 L36.0,96.9 L36.5,95.9 L37.0,94.9 L37.4,93.9 L37.7,92.9 L38.0,91.9 L38.3,90.9 L38.6,89.9 L38.9,88.9 L39.2,87.9 L39.4,86.9 L39.6,85.9 L39.8,84.9 L40.0,83.9 L40.1,82.9 L40.2,81.9 L40.3,80.9 L40.4,79.9 L40.5,78.9 L40.6,77.9 L40.6,76.9 L40.6,75.9 L40.6,74.9 L40.5,73.9 L40.5,72.9 L40.4,71.9 L40.4,70.9 L40.3,69.9 L40.2,68.9 L40.1,67.9 L40.0,66.9 L39.8,65.9 L39.7,64.9 L39.5,63.9 L39.2,62.9 L39.0,61.9 L38.8,60.9 L38.5,59.9 L38.2,58.9 L37.9,57.9 L37.6,56.9 L37.3,55.9 L36.9,54.9 L36.6,53.9 L36.2,52.9 L35.8,51.9 L35.4,50.9 L35.0,49.9 L34.5,48.9Z" class="vio"/>
<path d="M71.8,14.1 L70.5,15.1 L70.5,16.1 L70.5,17.1 L70.5,18.1 L70.5,19.1 L70.5,20.1 L70.5,21.1 L70.5,22.1 L70.5,23.1 L70.5,24.1 L70.5,25.1 L70.4,26.1 L70.4,27.1 L70.4,28.1 L70.4,29.1 L70.4,30.1 L70.4,31.1 L70.4,32.1 L70.4,33.1 L70.4,34.1 L70.4,35.1 L70.4,36.1 L70.4,37.1 L70.4,38.1 L70.4,39.1 L70.4,40.1 L70.4,41.1 L70.4,42.1 L70.4,43.1 L70.4,44.1 L70.4,45.1 L70.4,46.1 L70.4,47.1 L70.4,48.1 L70.3,49.1 L70.2,50.1 L70.0,51.1 L69.7,52.1 L69.5,53.1 L69.2,54.1 L68.8,55.1 L68.5,56.1 L68.1,57.1 L67.6,58.1 L67.2,59.1 L66.7,60.1 L66.2,61.1 L65.8,62.1 L65.4,63.1 L65.1,64.1 L64.8,65.1 L64.6,66.1 L64.3,67.1 L64.1,68.1 L63.9,69.1 L63.8,70.1 L63.6,71.1 L63.6,72.1 L63.5,73.1 L63.5,74.1 L63.6,75.1 L63.7,76.1 L63.9,77.1 L64.1,78.1 L64.3,79.1 L64.5,80.1 L64.8,81.1 L65.1,82.1 L65.4,83.1 L65.8,84.1 L66.3,85.1 L66.8,86.1 L67.3,87.1 L67.9,88.1 L68.5,89.1 L69.0,90.1 L69.4,91.1 L69.9,92.1 L70.2,93.1 L70.6,94.1 L70.9,95.1 L71.3,96.1 L71.5,97.1 L71.8,97.7 L72.1,97.7 L72.3,97.1 L72.5,96.1 L72.9,95.1 L73.2,94.1 L73.6,93.1 L73.9,92.1 L74.4,91.1 L74.8,90.1 L75.3,89.1 L75.9,88.1 L76.5,87.1 L77.0,86.1 L77.5,85.1 L78.0,84.1 L78.4,83.1 L78.7,82.1 L79.0,81.1 L79.3,80.1 L79.5,79.1 L79.7,78.1 L79.9,77.1 L80.1,76.1 L80.2,75.1 L80.3,74.1 L80.3,73.1 L80.2,72.1 L80.2,71.1 L80.0,70.1 L79.9,69.1 L79.7,68.1 L79.5,67.1 L79.2,66.1 L79.0,65.1 L78.7,64.1 L78.4,63.1 L78.0,62.1 L77.6,61.1 L77.1,60.1 L76.6,59.1 L76.2,58.1 L75.7,57.1 L75.3,56.1 L75.0,55.1 L74.6,54.1 L74.3,53.1 L74.1,52.1 L73.8,51.1 L73.6,50.1 L73.5,49.1 L73.4,48.1 L73.4,47.1 L73.4,46.1 L73.4,45.1 L73.4,44.1 L73.4,43.1 L73.4,42.1 L73.4,41.1 L73.4,40.1 L73.4,39.1 L73.4,38.1 L73.4,37.1 L73.4,36.1 L73.4,35.1 L73.4,34.1 L73.4,33.1 L73.4,32.1 L73.4,31.1 L73.4,30.1 L73.4,29.1 L73.4,28.1 L73.4,27.1 L73.4,26.1 L73.3,25.1 L73.3,24.1 L73.3,23.1 L73.3,22.1 L73.3,21.1 L73.3,20.1 L73.3,19.1 L73.3,18.1 L73.3,17.1 L73.3,16.1 L73.3,15.1 L72.1,14.1Z" class="vio"/>
<line x1="34.40" y1="49.40" x2="71.90" y2="29.57" class="pair"/>
<line x1="34.40" y1="55.82" x2="71.90" y2="53.18" class="pair"/>
<line x1="34.40" y1="59.64" x2="71.90" y2="61.33" class="pair"/>
<line x1="34.40" y1="61.99" x2="71.90" y2="14.60" class="pair"/>
<line x1="34.40" y1="63.97" x2="71.90" y2="63.22" class="pair"/>
<line x1="34.40" y1="65.70" x2="71.90" y2="58.62" class="pair"/>
<line x1="34.40" y1="67.18" x2="71.90" y2="67.60" class="pair"/>
<line x1="34.40" y1="68.66" x2="71.90" y2="66.14" class="pair"/>
<line x1="34.40" y1="70.02" x2="71.90" y2="64.68" class="pair"/>
<line x1="34.40" y1="71.25" x2="71.90" y2="68.86" class="pair"/>
<line x1="34.40" y1="72.61" x2="71.90" y2="69.90" class="pair"/>
<line x1="34.40" y1="73.85" x2="71.90" y2="72.20" class="pair"/>
<line x1="34.40" y1="75.08" x2="71.90" y2="73.25" class="pair"/>
<line x1="34.40" y1="76.32" x2="71.90" y2="74.29" class="pair"/>
<line x1="34.40" y1="77.55" x2="71.90" y2="77.85" class="pair"/>
<line x1="34.40" y1="78.79" x2="71.90" y2="75.34" class="pair"/>
<line x1="34.40" y1="80.02" x2="71.90" y2="80.35" class="pair"/>
<line x1="34.40" y1="81.38" x2="71.90" y2="76.59" class="pair"/>
<line x1="34.40" y1="82.74" x2="71.90" y2="79.10" class="pair"/>
<line x1="34.40" y1="84.22" x2="71.90" y2="83.49" class="pair"/>
<line x1="34.40" y1="85.83" x2="71.90" y2="71.16" class="pair"/>
<line x1="34.40" y1="87.68" x2="71.90" y2="89.13" class="pair"/>
<line x1="34.40" y1="90.03" x2="71.90" y2="97.20" class="pair"/>
<line x1="34.40" y1="93.36" x2="71.90" y2="81.82" class="pair"/>
<line x1="34.40" y1="97.80" x2="71.90" y2="85.58" class="pair"/>
<rect x="30.20" y="67.30" width="8.40" height="20.70" class="box"/>
<ellipse cx="34.40" cy="49.40" rx="0.8" ry="1.05" fill="#3a957f"/>
<ellipse cx="34.40" cy="55.82" rx="0.8" ry="1.05" fill="#3a957f"/>
<ellipse cx="34.40" cy="59.64" rx="0.8" ry="1.05" fill="#3a957f"/>
<ellipse cx="34.40" cy="61.99" rx="0.8" ry="1.05" fill="#3a957f"/>
<ellipse cx="34.40" cy="65.70" rx="0.8" ry="1.05" fill="#3a957f"/>
<ellipse cx="34.40" cy="68.66" rx="0.8" ry="1.05" fill="#3a957f"/>
<ellipse cx="34.40" cy="71.25" rx="0.8" ry="1.05" fill="#3a957f"/>
<ellipse cx="34.40" cy="73.85" rx="0.8" ry="1.05" fill="#3a957f"/>
<ellipse cx="34.40" cy="77.55" rx="0.8" ry="1.05" fill="#3a957f"/>
<ellipse cx="34.40" cy="80.02" rx="0.8" ry="1.05" fill="#3a957f"/>
<ellipse cx="34.40" cy="82.74" rx="0.8" ry="1.05" fill="#3a957f"/>
<ellipse cx="34.40" cy="85.83" rx="0.8" ry="1.05" fill="#3a957f"/>
<ellipse cx="34.40" cy="90.03" rx="0.8" ry="1.05" fill="#3a957f"/>
<ellipse cx="34.40" cy="93.36" rx="0.8" ry="1.05" fill="#3a957f"/>
<ellipse cx="34.40" cy="97.80" rx="0.8" ry="1.05" fill="#3a957f"/>
<rect x="67.60" y="67.50" width="8.60" height="12.50" class="box"/>
<ellipse cx="71.90" cy="14.60" rx="0.8" ry="1.05" fill="#e8975a"/>
<ellipse cx="71.90" cy="29.57" rx="0.8" ry="1.05" fill="#e8975a"/>
<ellipse cx="71.90" cy="53.18" rx="0.8" ry="1.05" fill="#e8975a"/>
<ellipse cx="71.90" cy="58.62" rx="0.8" ry="1.05" fill="#e8975a"/>
<ellipse cx="71.90" cy="63.22" rx="0.8" ry="1.05" fill="#e8975a"/>
<ellipse cx="71.90" cy="64.68" rx="0.8" ry="1.05" fill="#e8975a"/>
<ellipse cx="71.90" cy="67.60" rx="0.8" ry="1.05" fill="#e8975a"/>
<ellipse cx="71.90" cy="71.16" rx="0.8" ry="1.05" fill="#e8975a"/>
<ellipse cx="71.90" cy="74.29" rx="0.8" ry="1.05" fill="#e8975a"/>
<ellipse cx="71.90" cy="76.59" rx="0.8" ry="1.05" fill="#e8975a"/>
<ellipse cx="71.90" cy="80.35" rx="0.8" ry="1.05" fill="#e8975a"/>
<ellipse cx="71.90" cy="83.49" rx="0.8" ry="1.05" fill="#e8975a"/>
<ellipse cx="71.90" cy="85.58" rx="0.8" ry="1.05" fill="#e8975a"/>
<ellipse cx="71.90" cy="89.13" rx="0.8" ry="1.05" fill="#e8975a"/>
<ellipse cx="71.90" cy="97.20" rx="0.8" ry="1.05" fill="#e8975a"/>
<line x1="34.40" y1="76.90" x2="71.90" y2="73.20" class="mline"/>
<circle cx="34.40" cy="76.90" r="1.9" fill="#8a0a0a"/>
<circle cx="71.90" cy="73.20" r="1.9" fill="#8a0a0a"/>
<rect x="39.90" y="75.40" width="18.2" height="3.2" class="lbox"/>
<rect x="42.20" y="76.50" width="4.2" height="1.0" class="lt1"/>
<rect x="48.90" y="76.35" width="7.8" height="1.25" class="lt2"/>
<rect x="76.10" y="71.70" width="18.2" height="3.2" class="lbox"/>
<rect x="78.40" y="72.80" width="4.2" height="1.0" class="lt1"/>
<rect x="85.10" y="72.65" width="7.8" height="1.25" class="lt2"/>
<line x1="34.40" y1="101.8" x2="34.40" y2="102.8" class="xt"/>
<rect x="31.60" y="103.6" width="5.6" height="1.3" class="xl"/>
<rect x="30.60" y="106.1" width="7.6" height="1.4" class="xl"/>
<line x1="71.90" y1="101.8" x2="71.90" y2="102.8" class="xt"/>
<rect x="69.10" y="103.6" width="5.6" height="1.3" class="xl"/>
<rect x="68.10" y="106.1" width="7.6" height="1.4" class="xl"/>
</g>
<g transform="translate(0,109)">
<line x1="13.2" y1="25.00" x2="93.5" y2="25.00" class="grid"/>
<rect x="8" y="24.25" width="4.4" height="1.5" class="tickl"/>
<line x1="13.2" y1="49.10" x2="93.5" y2="49.10" class="grid"/>
<rect x="8" y="48.35" width="4.4" height="1.5" class="tickl"/>
<line x1="13.2" y1="72.50" x2="93.5" y2="72.50" class="grid"/>
<rect x="8" y="71.75" width="4.4" height="1.5" class="tickl"/>
<line x1="13.2" y1="96.40" x2="93.5" y2="96.40" class="grid"/>
<rect x="8" y="95.65" width="4.4" height="1.5" class="tickl"/>
<line x1="34.70" y1="10" x2="34.70" y2="102.5" class="vgrid"/>
<line x1="72.10" y1="10" x2="72.10" y2="102.5" class="vgrid"/>
<text x="41.50" y="7.3" class="title">HLA-DR among CD4<tspan class="sup" dy="-1.9">+</tspan></text>
<text x="13.20" y="14.3" class="sub"><tspan font-style="italic">V</tspan><tspan class="subsc" dy="0.9">Wilcoxon</tspan><tspan dy="-0.9"> = 177.00, </tspan><tspan font-style="italic">p</tspan> = 0.26</text>
<rect x="3.4" y="54.4" width="2.3" height="4.7" class="ylab"/>
<path d="M34.6,49.1 L31.0,50.1 L30.3,51.1 L29.9,52.1 L29.6,53.1 L29.3,54.1 L29.1,55.1 L28.8,56.1 L28.4,57.1 L28.1,58.1 L27.8,59.1 L27.4,60.1 L27.1,61.1 L26.8,62.1 L26.6,63.1 L26.4,64.1 L26.2,65.1 L26.1,66.1 L25.9,67.1 L25.8,68.1 L25.7,69.1 L25.6,70.1 L25.5,71.1 L25.5,72.1 L25.6,73.1 L25.8,74.1 L26.0,75.1 L26.3,76.1 L26.7,77.1 L27.0,78.1 L27.4,79.1 L27.8,80.1 L28.2,81.1 L28.7,82.1 L29.1,83.1 L29.6,84.1 L30.1,85.1 L30.4,86.1 L30.7,87.1 L31.0,88.1 L31.1,89.1 L31.3,90.1 L31.4,91.1 L31.6,92.1 L31.9,93.1 L32.2,94.1 L33.1,95.1 L34.6,96.0 L34.9,96.0 L36.3,95.1 L37.2,94.1 L37.5,93.1 L37.8,92.1 L38.0,91.1 L38.1,90.1 L38.3,89.1 L38.4,88.1 L38.7,87.1 L39.0,86.1 L39.3,85.1 L39.8,84.1 L40.3,83.1 L40.7,82.1 L41.2,81.1 L41.6,80.1 L42.0,79.1 L42.4,78.1 L42.7,77.1 L43.1,76.1 L43.4,75.1 L43.6,74.1 L43.8,73.1 L43.9,72.1 L43.9,71.1 L43.8,70.1 L43.7,69.1 L43.6,68.1 L43.5,67.1 L43.3,66.1 L43.2,65.1 L43.0,64.1 L42.8,63.1 L42.6,62.1 L42.3,61.1 L42.0,60.1 L41.6,59.1 L41.3,58.1 L41.0,57.1 L40.6,56.1 L40.3,55.1 L40.1,54.1 L39.8,53.1 L39.5,52.1 L39.1,51.1 L38.4,50.1 L34.9,49.1Z" class="vio"/>
<path d="M71.9,14.6 L70.7,15.6 L70.6,16.6 L70.6,17.6 L70.5,18.6 L70.5,19.6 L70.5,20.6 L70.4,21.6 L70.4,22.6 L70.4,23.6 L70.4,24.6 L70.4,25.6 L70.4,26.6 L70.3,27.6 L70.3,28.6 L70.3,29.6 L70.2,30.6 L70.2,31.6 L70.1,32.6 L70.1,33.6 L70.1,34.6 L70.0,35.6 L70.0,36.6 L69.9,37.6 L69.8,38.6 L69.8,39.6 L69.7,40.6 L69.7,41.6 L69.6,42.6 L69.5,43.6 L69.4,44.6 L69.3,45.6 L69.2,46.6 L69.1,47.6 L69.0,48.6 L68.9,49.6 L68.8,50.6 L68.6,51.6 L68.5,52.6 L68.4,53.6 L68.2,54.6 L68.1,55.6 L67.9,56.6 L67.7,57.6 L67.5,58.6 L67.2,59.6 L66.9,60.6 L66.6,61.6 L66.4,62.6 L66.1,63.6 L65.8,64.6 L65.6,65.6 L65.4,66.6 L65.3,67.6 L65.2,68.6 L65.1,69.6 L65.1,70.6 L65.1,71.6 L65.1,72.6 L65.1,73.6 L65.1,74.6 L65.1,75.6 L65.1,76.6 L65.1,77.6 L65.1,78.6 L65.1,79.6 L65.1,80.6 L65.2,81.6 L65.3,82.6 L65.5,83.6 L65.9,84.6 L66.2,85.6 L66.6,86.6 L67.0,87.6 L67.5,88.6 L67.8,89.6 L68.2,90.6 L68.5,91.6 L68.8,92.6 L69.2,93.6 L69.5,94.6 L70.0,95.6 L70.4,96.6 L71.0,97.6 L71.9,98.6 L71.9,98.7 L72.2,98.7 L72.2,98.6 L73.2,97.6 L73.8,96.6 L74.2,95.6 L74.7,94.6 L75.0,93.6 L75.4,92.6 L75.7,91.6 L76.0,90.6 L76.4,89.6 L76.7,88.6 L77.2,87.6 L77.6,86.6 L78.0,85.6 L78.3,84.6 L78.7,83.6 L78.9,82.6 L79.0,81.6 L79.1,80.6 L79.1,79.6 L79.1,78.6 L79.1,77.6 L79.1,76.6 L79.1,75.6 L79.1,74.6 L79.1,73.6 L79.1,72.6 L79.1,71.6 L79.1,70.6 L79.1,69.6 L79.0,68.6 L78.9,67.6 L78.8,66.6 L78.6,65.6 L78.4,64.6 L78.1,63.6 L77.8,62.6 L77.6,61.6 L77.3,60.6 L77.0,59.6 L76.7,58.6 L76.5,57.6 L76.3,56.6 L76.1,55.6 L76.0,54.6 L75.8,53.6 L75.7,52.6 L75.6,51.6 L75.4,50.6 L75.3,49.6 L75.2,48.6 L75.1,47.6 L75.0,46.6 L74.9,45.6 L74.8,44.6 L74.7,43.6 L74.6,42.6 L74.5,41.6 L74.5,40.6 L74.4,39.6 L74.4,38.6 L74.3,37.6 L74.2,36.6 L74.2,35.6 L74.1,34.6 L74.1,33.6 L74.1,32.6 L74.0,31.6 L74.0,30.6 L73.9,29.6 L73.9,28.6 L73.9,27.6 L73.8,26.6 L73.8,25.6 L73.8,24.6 L73.8,23.6 L73.8,22.6 L73.8,21.6 L73.7,20.6 L73.7,19.6 L73.7,18.6 L73.6,17.6 L73.6,16.6 L73.5,15.6 L72.2,14.6Z" class="vio"/>
<line x1="34.70" y1="49.60" x2="72.10" y2="61.07" class="pair"/>
<line x1="34.70" y1="52.27" x2="72.10" y2="54.34" class="pair"/>
<line x1="34.70" y1="55.55" x2="72.10" y2="63.38" class="pair"/>
<line x1="34.70" y1="57.89" x2="72.10" y2="71.58" class="pair"/>
<line x1="34.70" y1="59.77" x2="72.10" y2="49.29" class="pair"/>
<line x1="34.70" y1="61.41" x2="72.10" y2="27.43" class="pair"/>
<line x1="34.70" y1="62.82" x2="72.10" y2="65.48" class="pair"/>
<line x1="34.70" y1="64.23" x2="72.10" y2="68.84" class="pair"/>
<line x1="34.70" y1="65.40" x2="72.10" y2="41.51" class="pair"/>
<line x1="34.70" y1="66.69" x2="72.10" y2="77.46" class="pair"/>
<line x1="34.70" y1="67.74" x2="72.10" y2="58.12" class="pair"/>
<line x1="34.70" y1="68.92" x2="72.10" y2="74.52" class="pair"/>
<line x1="34.70" y1="69.97" x2="72.10" y2="15.10" class="pair"/>
<line x1="34.70" y1="71.14" x2="72.10" y2="80.41" class="pair"/>
<line x1="34.70" y1="72.20" x2="72.10" y2="85.45" class="pair"/>
<line x1="34.70" y1="73.25" x2="72.10" y2="87.98" class="pair"/>
<line x1="34.70" y1="74.43" x2="72.10" y2="67.16" class="pair"/>
<line x1="34.70" y1="75.60" x2="72.10" y2="91.97" class="pair"/>
<line x1="34.70" y1="77.01" x2="72.10" y2="98.20" class="pair"/>
<line x1="34.70" y1="78.41" x2="72.10" y2="81.88" class="pair"/>
<line x1="34.70" y1="80.05" x2="72.10" y2="78.94" class="pair"/>
<line x1="34.70" y1="82.16" x2="72.10" y2="75.99" class="pair"/>
<line x1="34.70" y1="84.98" x2="72.10" y2="73.05" class="pair"/>
<line x1="34.70" y1="90.14" x2="72.10" y2="83.35" class="pair"/>
<line x1="34.70" y1="95.50" x2="72.10" y2="70.32" class="pair"/>
<rect x="30.60" y="60.20" width="8.20" height="19.20" class="box"/>
<ellipse cx="34.70" cy="49.60" rx="0.8" ry="1.05" fill="#3a957f"/>
<ellipse cx="34.70" cy="55.55" rx="0.8" ry="1.05" fill="#3a957f"/>
<ellipse cx="34.70" cy="59.77" rx="0.8" ry="1.05" fill="#3a957f"/>
<ellipse cx="34.70" cy="62.82" rx="0.8" ry="1.05" fill="#3a957f"/>
<ellipse cx="34.70" cy="65.40" rx="0.8" ry="1.05" fill="#3a957f"/>
<ellipse cx="34.70" cy="67.74" rx="0.8" ry="1.05" fill="#3a957f"/>
<ellipse cx="34.70" cy="71.14" rx="0.8" ry="1.05" fill="#3a957f"/>
<ellipse cx="34.70" cy="74.43" rx="0.8" ry="1.05" fill="#3a957f"/>
<ellipse cx="34.70" cy="77.01" rx="0.8" ry="1.05" fill="#3a957f"/>
<ellipse cx="34.70" cy="80.05" rx="0.8" ry="1.05" fill="#3a957f"/>
<ellipse cx="34.70" cy="84.98" rx="0.8" ry="1.05" fill="#3a957f"/>
<ellipse cx="34.70" cy="90.14" rx="0.8" ry="1.05" fill="#3a957f"/>
<ellipse cx="34.70" cy="95.50" rx="0.8" ry="1.05" fill="#3a957f"/>
<rect x="67.90" y="59.40" width="8.40" height="20.50" class="box"/>
<ellipse cx="72.10" cy="15.10" rx="0.8" ry="1.05" fill="#e8975a"/>
<ellipse cx="72.10" cy="27.43" rx="0.8" ry="1.05" fill="#e8975a"/>
<ellipse cx="72.10" cy="41.51" rx="0.8" ry="1.05" fill="#e8975a"/>
<ellipse cx="72.10" cy="49.29" rx="0.8" ry="1.05" fill="#e8975a"/>
<ellipse cx="72.10" cy="54.34" rx="0.8" ry="1.05" fill="#e8975a"/>
<ellipse cx="72.10" cy="58.12" rx="0.8" ry="1.05" fill="#e8975a"/>
<ellipse cx="72.10" cy="61.07" rx="0.8" ry="1.05" fill="#e8975a"/>
<ellipse cx="72.10" cy="63.38" rx="0.8" ry="1.05" fill="#e8975a"/>
<ellipse cx="72.10" cy="65.48" rx="0.8" ry="1.05" fill="#e8975a"/>
<ellipse cx="72.10" cy="68.84" rx="0.8" ry="1.05" fill="#e8975a"/>
<ellipse cx="72.10" cy="71.58" rx="0.8" ry="1.05" fill="#e8975a"/>
<ellipse cx="72.10" cy="74.52" rx="0.8" ry="1.05" fill="#e8975a"/>
<ellipse cx="72.10" cy="77.46" rx="0.8" ry="1.05" fill="#e8975a"/>
<ellipse cx="72.10" cy="80.41" rx="0.8" ry="1.05" fill="#e8975a"/>
<ellipse cx="72.10" cy="83.35" rx="0.8" ry="1.05" fill="#e8975a"/>
<ellipse cx="72.10" cy="87.98" rx="0.8" ry="1.05" fill="#e8975a"/>
<ellipse cx="72.10" cy="91.97" rx="0.8" ry="1.05" fill="#e8975a"/>
<ellipse cx="72.10" cy="98.20" rx="0.8" ry="1.05" fill="#e8975a"/>
<line x1="34.70" y1="72.30" x2="72.10" y2="71.20" class="mline"/>
<circle cx="34.70" cy="72.30" r="1.9" fill="#8a0a0a"/>
<circle cx="72.10" cy="71.20" r="1.9" fill="#8a0a0a"/>
<rect x="40.20" y="70.80" width="18.2" height="3.2" class="lbox"/>
<rect x="42.50" y="71.90" width="4.2" height="1.0" class="lt1"/>
<rect x="49.20" y="71.75" width="7.8" height="1.25" class="lt2"/>
<rect x="76.30" y="69.70" width="18.2" height="3.2" class="lbox"/>
<rect x="78.60" y="70.80" width="4.2" height="1.0" class="lt1"/>
<rect x="85.30" y="70.65" width="7.8" height="1.25" class="lt2"/>
<line x1="34.70" y1="101.8" x2="34.70" y2="102.8" class="xt"/>
<rect x="31.90" y="103.6" width="5.6" height="1.3" class="xl"/>
<rect x="30.90" y="106.1" width="7.6" height="1.4" class="xl"/>
<line x1="72.10" y1="101.8" x2="72.10" y2="102.8" class="xt"/>
<rect x="69.30" y="103.6" width="5.6" height="1.3" class="xl"/>
<rect x="68.30" y="106.1" width="7.6" height="1.4" class="xl"/>
</g>
<g transform="translate(95,109)">
<line x1="13.2" y1="32.50" x2="93.5" y2="32.50" class="grid"/>
<rect x="8" y="31.75" width="4.4" height="1.5" class="tickl"/>
<line x1="13.2" y1="60.90" x2="93.5" y2="60.90" class="grid"/>
<rect x="8" y="60.15" width="4.4" height="1.5" class="tickl"/>
<line x1="13.2" y1="89.00" x2="93.5" y2="89.00" class="grid"/>
<rect x="8" y="88.25" width="4.4" height="1.5" class="tickl"/>
<line x1="33.60" y1="10" x2="33.60" y2="102.5" class="vgrid"/>
<line x1="71.40" y1="10" x2="71.40" y2="102.5" class="vgrid"/>
<text x="39.60" y="7.3" class="title">HLA-DR among CD8<tspan class="sup" dy="-1.9">+</tspan></text>
<text x="11.40" y="14.3" class="sub"><tspan font-style="italic">V</tspan><tspan class="subsc" dy="0.9">Wilcoxon</tspan><tspan dy="-0.9"> = 116.00, </tspan><tspan font-weight="bold">p = 0.02</tspan></text>
<rect x="3.4" y="54.4" width="2.3" height="4.7" class="ylab"/>
<path d="M33.5,46.9 L32.3,47.9 L32.2,48.9 L32.2,49.9 L32.2,50.9 L32.1,51.9 L32.1,52.9 L32.0,53.9 L31.8,54.9 L31.6,55.9 L31.4,56.9 L31.2,57.9 L30.9,58.9 L30.7,59.9 L30.4,60.9 L30.1,61.9 L29.7,62.9 L29.4,63.9 L29.0,64.9 L28.6,65.9 L28.2,66.9 L27.8,67.9 L27.4,68.9 L27.0,69.9 L26.6,70.9 L26.2,71.9 L25.8,72.9 L25.4,73.9 L25.1,74.9 L24.9,75.9 L24.8,76.9 L24.8,77.9 L25.0,78.9 L25.3,79.9 L25.6,80.9 L26.1,81.9 L26.6,82.9 L27.0,83.9 L27.5,84.9 L28.0,85.9 L28.4,86.9 L28.9,87.9 L29.4,88.9 L30.0,89.9 L30.5,90.9 L31.0,91.9 L31.5,92.9 L32.1,93.9 L32.7,94.9 L33.1,95.9 L33.3,96.9 L33.5,97.9 L33.5,98.3 L33.8,98.3 L33.8,97.9 L33.9,96.9 L34.1,95.9 L34.5,94.9 L35.1,93.9 L35.7,92.9 L36.2,91.9 L36.7,90.9 L37.2,89.9 L37.8,88.9 L38.3,87.9 L38.8,86.9 L39.2,85.9 L39.7,84.9 L40.2,83.9 L40.6,82.9 L41.1,81.9 L41.6,80.9 L41.9,79.9 L42.2,78.9 L42.4,77.9 L42.4,76.9 L42.3,75.9 L42.1,74.9 L41.8,73.9 L41.4,72.9 L41.0,71.9 L40.6,70.9 L40.2,69.9 L39.8,68.9 L39.4,67.9 L39.0,66.9 L38.6,65.9 L38.2,64.9 L37.8,63.9 L37.5,62.9 L37.1,61.9 L36.8,60.9 L36.5,59.9 L36.3,58.9 L36.0,57.9 L35.8,56.9 L35.6,55.9 L35.4,54.9 L35.2,53.9 L35.1,52.9 L35.1,51.9 L35.0,50.9 L35.0,49.9 L35.0,48.9 L34.9,47.9 L33.8,46.9Z" class="vio"/>
<path d="M71.2,14.6 L71.2,15.6 L71.2,16.6 L71.2,17.6 L71.2,18.6 L71.2,19.6 L71.2,20.6 L71.2,21.6 L71.2,22.6 L71.2,23.6 L71.2,24.6 L71.2,25.6 L71.2,26.6 L71.2,27.6 L71.2,28.6 L71.2,29.6 L71.2,30.6 L71.2,31.6 L71.2,32.6 L71.2,33.6 L71.2,34.6 L71.2,35.6 L71.2,36.6 L71.2,37.6 L71.2,38.6 L71.2,39.6 L71.2,40.6 L71.0,41.6 L70.8,42.6 L70.5,43.6 L70.2,44.6 L70.0,45.6 L69.7,46.6 L69.5,47.6 L69.3,48.6 L69.1,49.6 L68.9,50.6 L68.8,51.6 L68.6,52.6 L68.4,53.6 L68.2,54.6 L68.1,55.6 L67.9,56.6 L67.7,57.6 L67.4,58.6 L67.2,59.6 L67.0,60.6 L66.7,61.6 L66.5,62.6 L66.3,63.6 L66.1,64.6 L65.9,65.6 L65.8,66.6 L65.7,67.6 L65.6,68.6 L65.5,69.6 L65.4,70.6 L65.3,71.6 L65.3,72.6 L65.2,73.6 L65.1,74.6 L65.1,75.6 L65.0,76.6 L65.0,77.6 L65.0,78.6 L65.0,79.6 L65.0,80.6 L65.1,81.6 L65.1,82.6 L65.2,83.6 L65.3,84.6 L65.4,85.6 L65.5,86.6 L65.7,87.6 L65.9,88.6 L66.2,89.6 L66.6,90.6 L67.1,91.6 L68.0,92.6 L71.2,93.5 L71.6,93.5 L74.8,92.6 L75.7,91.6 L76.2,90.6 L76.6,89.6 L76.9,88.6 L77.1,87.6 L77.3,86.6 L77.4,85.6 L77.5,84.6 L77.6,83.6 L77.7,82.6 L77.7,81.6 L77.8,80.6 L77.8,79.6 L77.8,78.6 L77.8,77.6 L77.8,76.6 L77.7,75.6 L77.7,74.6 L77.6,73.6 L77.5,72.6 L77.5,71.6 L77.4,70.6 L77.3,69.6 L77.2,68.6 L77.1,67.6 L77.0,66.6 L76.9,65.6 L76.7,64.6 L76.5,63.6 L76.3,62.6 L76.1,61.6 L75.8,60.6 L75.6,59.6 L75.4,58.6 L75.1,57.6 L74.9,56.6 L74.7,55.6 L74.6,54.6 L74.4,53.6 L74.2,52.6 L74.0,51.6 L73.9,50.6 L73.7,49.6 L73.5,48.6 L73.3,47.6 L73.1,46.6 L72.8,45.6 L72.6,44.6 L72.3,43.6 L72.0,42.6 L71.8,41.6 L71.6,40.6 L71.6,39.6 L71.6,38.6 L71.6,37.6 L71.6,36.6 L71.6,35.6 L71.6,34.6 L71.6,33.6 L71.6,32.6 L71.6,31.6 L71.6,30.6 L71.6,29.6 L71.6,28.6 L71.6,27.6 L71.6,26.6 L71.6,25.6 L71.6,24.6 L71.6,23.6 L71.6,22.6 L71.6,21.6 L71.6,20.6 L71.6,19.6 L71.6,18.6 L71.6,17.6 L71.6,16.6 L71.6,15.6 L71.6,14.6Z" class="vio"/>
<line x1="33.60" y1="47.40" x2="71.40" y2="37.09" class="pair"/>
<line x1="33.60" y1="56.79" x2="71.40" y2="15.10" class="pair"/>
<line x1="33.60" y1="62.58" x2="71.40" y2="62.93" class="pair"/>
<line x1="33.60" y1="65.40" x2="71.40" y2="65.10" class="pair"/>
<line x1="33.60" y1="67.46" x2="71.40" y2="68.45" class="pair"/>
<line x1="33.60" y1="69.00" x2="71.40" y2="57.40" class="pair"/>
<line x1="33.60" y1="70.42" x2="71.40" y2="52.67" class="pair"/>
<line x1="33.60" y1="71.70" x2="71.40" y2="75.75" class="pair"/>
<line x1="33.60" y1="72.73" x2="71.40" y2="74.37" class="pair"/>
<line x1="33.60" y1="73.76" x2="71.40" y2="77.13" class="pair"/>
<line x1="33.60" y1="74.66" x2="71.40" y2="71.61" class="pair"/>
<line x1="33.60" y1="75.56" x2="71.40" y2="82.65" class="pair"/>
<line x1="33.60" y1="76.33" x2="71.40" y2="84.03" class="pair"/>
<line x1="33.60" y1="77.10" x2="71.40" y2="66.87" class="pair"/>
<line x1="33.60" y1="77.87" x2="71.40" y2="78.51" class="pair"/>
<line x1="33.60" y1="78.64" x2="71.40" y2="72.99" class="pair"/>
<line x1="33.60" y1="79.54" x2="71.40" y2="60.56" class="pair"/>
<line x1="33.60" y1="80.57" x2="71.40" y2="88.77" class="pair"/>
<line x1="33.60" y1="81.59" x2="71.40" y2="81.27" class="pair"/>
<line x1="33.60" y1="82.75" x2="71.40" y2="70.03" class="pair"/>
<line x1="33.60" y1="84.04" x2="71.40" y2="79.89" class="pair"/>
<line x1="33.60" y1="85.58" x2="71.40" y2="93.00" class="pair"/>
<line x1="33.60" y1="87.51" x2="71.40" y2="91.13" class="pair"/>
<line x1="33.60" y1="90.98" x2="71.40" y2="87.19" class="pair"/>
<line x1="33.60" y1="97.80" x2="71.40" y2="85.61" class="pair"/>
<rect x="29.80" y="71.30" width="7.60" height="12.50" class="box"/>
<ellipse cx="33.60" cy="47.40" rx="0.8" ry="1.05" fill="#3a957f"/>
<ellipse cx="33.60" cy="56.79" rx="0.8" ry="1.05" fill="#3a957f"/>
<ellipse cx="33.60" cy="62.58" rx="0.8" ry="1.05" fill="#3a957f"/>
<ellipse cx="33.60" cy="65.40" rx="0.8" ry="1.05" fill="#3a957f"/>
<ellipse cx="33.60" cy="69.00" rx="0.8" ry="1.05" fill="#3a957f"/>
<ellipse cx="33.60" cy="71.70" rx="0.8" ry="1.05" fill="#3a957f"/>
<ellipse cx="33.60" cy="73.76" rx="0.8" ry="1.05" fill="#3a957f"/>
<ellipse cx="33.60" cy="77.10" rx="0.8" ry="1.05" fill="#3a957f"/>
<ellipse cx="33.60" cy="79.54" rx="0.8" ry="1.05" fill="#3a957f"/>
<ellipse cx="33.60" cy="82.75" rx="0.8" ry="1.05" fill="#3a957f"/>
<ellipse cx="33.60" cy="85.58" rx="0.8" ry="1.05" fill="#3a957f"/>
<ellipse cx="33.60" cy="90.98" rx="0.8" ry="1.05" fill="#3a957f"/>
<ellipse cx="33.60" cy="97.80" rx="0.8" ry="1.05" fill="#3a957f"/>
<rect x="66.60" y="62.80" width="9.60" height="18.20" class="box"/>
<ellipse cx="71.40" cy="15.10" rx="0.8" ry="1.05" fill="#e8975a"/>
<ellipse cx="71.40" cy="37.09" rx="0.8" ry="1.05" fill="#e8975a"/>
<ellipse cx="71.40" cy="52.67" rx="0.8" ry="1.05" fill="#e8975a"/>
<ellipse cx="71.40" cy="57.40" rx="0.8" ry="1.05" fill="#e8975a"/>
<ellipse cx="71.40" cy="60.56" rx="0.8" ry="1.05" fill="#e8975a"/>
<ellipse cx="71.40" cy="62.93" rx="0.8" ry="1.05" fill="#e8975a"/>
<ellipse cx="71.40" cy="65.10" rx="0.8" ry="1.05" fill="#e8975a"/>
<ellipse cx="71.40" cy="68.45" rx="0.8" ry="1.05" fill="#e8975a"/>
<ellipse cx="71.40" cy="71.61" rx="0.8" ry="1.05" fill="#e8975a"/>
<ellipse cx="71.40" cy="74.37" rx="0.8" ry="1.05" fill="#e8975a"/>
<ellipse cx="71.40" cy="77.13" rx="0.8" ry="1.05" fill="#e8975a"/>
<ellipse cx="71.40" cy="79.89" rx="0.8" ry="1.05" fill="#e8975a"/>
<ellipse cx="71.40" cy="82.65" rx="0.8" ry="1.05" fill="#e8975a"/>
<ellipse cx="71.40" cy="85.61" rx="0.8" ry="1.05" fill="#e8975a"/>
<ellipse cx="71.40" cy="88.77" rx="0.8" ry="1.05" fill="#e8975a"/>
<ellipse cx="71.40" cy="93.00" rx="0.8" ry="1.05" fill="#e8975a"/>
<line x1="33.60" y1="78.40" x2="71.40" y2="70.30" class="mline"/>
<circle cx="33.60" cy="78.40" r="1.9" fill="#8a0a0a"/>
<circle cx="71.40" cy="70.30" r="1.9" fill="#8a0a0a"/>
<rect x="39.10" y="76.90" width="18.2" height="3.2" class="lbox"/>
<rect x="41.40" y="78.00" width="4.2" height="1.0" class="lt1"/>
<rect x="48.10" y="77.85" width="7.8" height="1.25" class="lt2"/>
<rect x="75.60" y="68.80" width="18.2" height="3.2" class="lbox"/>
<rect x="77.90" y="69.90" width="4.2" height="1.0" class="lt1"/>
<rect x="84.60" y="69.75" width="7.8" height="1.25" class="lt2"/>
<line x1="33.60" y1="101.8" x2="33.60" y2="102.8" class="xt"/>
<rect x="30.80" y="103.6" width="5.6" height="1.3" class="xl"/>
<rect x="29.80" y="106.1" width="7.6" height="1.4" class="xl"/>
<line x1="71.40" y1="101.8" x2="71.40" y2="102.8" class="xt"/>
<rect x="68.60" y="103.6" width="5.6" height="1.3" class="xl"/>
<rect x="67.60" y="106.1" width="7.6" height="1.4" class="xl"/>
</g>
<g transform="translate(189,109)">
<line x1="13.2" y1="33.00" x2="93.5" y2="33.00" class="grid"/>
<rect x="8" y="32.25" width="4.4" height="1.5" class="tickl"/>
<line x1="13.2" y1="61.70" x2="93.5" y2="61.70" class="grid"/>
<rect x="8" y="60.95" width="4.4" height="1.5" class="tickl"/>
<line x1="13.2" y1="89.50" x2="93.5" y2="89.50" class="grid"/>
<rect x="8" y="88.75" width="4.4" height="1.5" class="tickl"/>
<line x1="33.90" y1="10" x2="33.90" y2="102.5" class="vgrid"/>
<line x1="71.40" y1="10" x2="71.40" y2="102.5" class="vgrid"/>
<text x="40.25" y="7.3" class="title">KI67 among CD4<tspan class="sup" dy="-1.9">+</tspan></text>
<text x="12.70" y="14.3" class="sub"><tspan font-style="italic">V</tspan><tspan class="subsc" dy="0.9">Wilcoxon</tspan><tspan dy="-0.9"> = 274.00, </tspan><tspan font-style="italic">p</tspan> = 0.40</text>
<rect x="3.4" y="54.4" width="2.3" height="4.7" class="ylab"/>
<path d="M33.8,50.2 L32.4,51.2 L32.4,52.2 L32.4,53.2 L32.4,54.2 L32.4,55.2 L32.4,56.2 L32.4,57.2 L32.3,58.2 L32.1,59.2 L31.6,60.2 L30.9,61.2 L30.1,62.2 L29.3,63.2 L28.6,64.2 L27.9,65.2 L27.3,66.2 L26.7,67.2 L26.3,68.2 L25.8,69.2 L25.5,70.2 L25.2,71.2 L24.9,72.2 L24.6,73.2 L24.5,74.2 L24.5,75.2 L24.6,76.2 L24.9,77.2 L25.3,78.2 L25.7,79.2 L26.2,80.2 L26.7,81.2 L27.2,82.2 L27.7,83.2 L28.3,84.2 L28.9,85.2 L29.5,86.2 L30.1,87.2 L30.5,88.2 L31.0,89.2 L31.5,90.2 L32.1,91.2 L33.8,92.2 L33.8,92.4 L34.0,92.4 L34.0,92.2 L35.7,91.2 L36.3,90.2 L36.8,89.2 L37.3,88.2 L37.7,87.2 L38.3,86.2 L38.9,85.2 L39.5,84.2 L40.1,83.2 L40.6,82.2 L41.1,81.2 L41.6,80.2 L42.1,79.2 L42.5,78.2 L42.9,77.2 L43.2,76.2 L43.3,75.2 L43.3,74.2 L43.2,73.2 L42.9,72.2 L42.6,71.2 L42.3,70.2 L42.0,69.2 L41.5,68.2 L41.1,67.2 L40.5,66.2 L39.9,65.2 L39.2,64.2 L38.5,63.2 L37.7,62.2 L36.9,61.2 L36.2,60.2 L35.7,59.2 L35.5,58.2 L35.4,57.2 L35.4,56.2 L35.4,55.2 L35.4,54.2 L35.4,53.2 L35.4,52.2 L35.4,51.2 L34.0,50.2Z" class="vio"/>
<path d="M71.2,14.6 L71.2,15.6 L71.2,16.6 L71.2,17.6 L71.2,18.6 L71.2,19.6 L71.2,20.6 L71.2,21.6 L71.2,22.6 L71.2,23.6 L71.2,24.6 L71.2,25.6 L71.2,26.6 L71.2,27.6 L71.2,28.6 L71.2,29.6 L71.2,30.6 L71.2,31.6 L71.2,32.6 L71.2,33.6 L71.2,34.6 L71.2,35.6 L71.2,36.6 L71.2,37.6 L71.2,38.6 L71.2,39.6 L71.2,40.6 L71.2,41.6 L71.2,42.6 L71.2,43.6 L71.2,44.6 L71.1,45.6 L71.0,46.6 L70.7,47.6 L70.4,48.6 L70.1,49.6 L69.8,50.6 L69.6,51.6 L69.4,52.6 L69.2,53.6 L69.0,54.6 L68.8,55.6 L68.7,56.6 L68.5,57.6 L68.3,58.6 L68.2,59.6 L68.0,60.6 L67.8,61.6 L67.6,62.6 L67.3,63.6 L67.1,64.6 L66.9,65.6 L66.7,66.6 L66.5,67.6 L66.3,68.6 L66.2,69.6 L66.1,70.6 L66.0,71.6 L66.0,72.6 L65.9,73.6 L65.8,74.6 L65.8,75.6 L65.7,76.6 L65.7,77.6 L65.7,78.6 L65.8,79.6 L65.8,80.6 L66.0,81.6 L66.1,82.6 L66.3,83.6 L66.6,84.6 L66.8,85.6 L67.0,86.6 L67.2,87.6 L67.5,88.6 L67.7,89.6 L67.9,90.6 L68.2,91.6 L68.4,92.6 L68.7,93.6 L69.1,94.6 L69.5,95.6 L70.0,96.6 L71.2,97.6 L71.2,98.0 L71.6,98.0 L71.6,97.6 L72.8,96.6 L73.3,95.6 L73.7,94.6 L74.1,93.6 L74.4,92.6 L74.6,91.6 L74.9,90.6 L75.1,89.6 L75.3,88.6 L75.6,87.6 L75.8,86.6 L76.0,85.6 L76.2,84.6 L76.5,83.6 L76.7,82.6 L76.8,81.6 L77.0,80.6 L77.0,79.6 L77.1,78.6 L77.1,77.6 L77.1,76.6 L77.0,75.6 L77.0,74.6 L76.9,73.6 L76.8,72.6 L76.8,71.6 L76.7,70.6 L76.6,69.6 L76.5,68.6 L76.3,67.6 L76.1,66.6 L75.9,65.6 L75.7,64.6 L75.5,63.6 L75.2,62.6 L75.0,61.6 L74.8,60.6 L74.6,59.6 L74.5,58.6 L74.3,57.6 L74.1,56.6 L74.0,55.6 L73.8,54.6 L73.6,53.6 L73.4,52.6 L73.2,51.6 L73.0,50.6 L72.7,49.6 L72.4,48.6 L72.1,47.6 L71.8,46.6 L71.7,45.6 L71.6,44.6 L71.6,43.6 L71.6,42.6 L71.6,41.6 L71.6,40.6 L71.6,39.6 L71.6,38.6 L71.6,37.6 L71.6,36.6 L71.6,35.6 L71.6,34.6 L71.6,33.6 L71.6,32.6 L71.6,31.6 L71.6,30.6 L71.6,29.6 L71.6,28.6 L71.6,27.6 L71.6,26.6 L71.6,25.6 L71.6,24.6 L71.6,23.6 L71.6,22.6 L71.6,21.6 L71.6,20.6 L71.6,19.6 L71.6,18.6 L71.6,17.6 L71.6,16.6 L71.6,15.6 L71.6,14.6Z" class="vio"/>
<line x1="33.90" y1="50.70" x2="71.40" y2="68.18" class="pair"/>
<line x1="33.90" y1="60.54" x2="71.40" y2="64.64" class="pair"/>
<line x1="33.90" y1="64.02" x2="71.40" y2="62.35" class="pair"/>
<line x1="33.90" y1="65.92" x2="71.40" y2="15.10" class="pair"/>
<line x1="33.90" y1="67.29" x2="71.40" y2="72.15" class="pair"/>
<line x1="33.90" y1="68.45" x2="71.40" y2="73.40" class="pair"/>
<line x1="33.90" y1="69.40" x2="71.40" y2="75.90" class="pair"/>
<line x1="33.90" y1="70.35" x2="71.40" y2="59.43" class="pair"/>
<line x1="33.90" y1="71.19" x2="71.40" y2="55.05" class="pair"/>
<line x1="33.90" y1="72.04" x2="71.40" y2="69.64" class="pair"/>
<line x1="33.90" y1="72.88" x2="71.40" y2="66.52" class="pair"/>
<line x1="33.90" y1="73.62" x2="71.40" y2="74.65" class="pair"/>
<line x1="33.90" y1="74.36" x2="71.40" y2="77.15" class="pair"/>
<line x1="33.90" y1="75.10" x2="71.40" y2="70.89" class="pair"/>
<line x1="33.90" y1="75.84" x2="71.40" y2="85.07" class="pair"/>
<line x1="33.90" y1="76.58" x2="71.40" y2="78.40" class="pair"/>
<line x1="33.90" y1="77.42" x2="71.40" y2="82.15" class="pair"/>
<line x1="33.90" y1="78.26" x2="71.40" y2="93.00" class="pair"/>
<line x1="33.90" y1="79.21" x2="71.40" y2="86.95" class="pair"/>
<line x1="33.90" y1="80.27" x2="71.40" y2="38.79" class="pair"/>
<line x1="33.90" y1="81.43" x2="71.40" y2="89.24" class="pair"/>
<line x1="33.90" y1="82.80" x2="71.40" y2="97.50" class="pair"/>
<line x1="33.90" y1="84.59" x2="71.40" y2="83.61" class="pair"/>
<line x1="33.90" y1="87.55" x2="71.40" y2="80.69" class="pair"/>
<line x1="33.90" y1="91.90" x2="71.40" y2="79.44" class="pair"/>
<rect x="30.00" y="69.80" width="7.80" height="9.60" class="box"/>
<ellipse cx="33.90" cy="50.70" rx="0.8" ry="1.05" fill="#3a957f"/>
<ellipse cx="33.90" cy="60.54" rx="0.8" ry="1.05" fill="#3a957f"/>
<ellipse cx="33.90" cy="64.02" rx="0.8" ry="1.05" fill="#3a957f"/>
<ellipse cx="33.90" cy="65.92" rx="0.8" ry="1.05" fill="#3a957f"/>
<ellipse cx="33.90" cy="68.45" rx="0.8" ry="1.05" fill="#3a957f"/>
<ellipse cx="33.90" cy="71.19" rx="0.8" ry="1.05" fill="#3a957f"/>
<ellipse cx="33.90" cy="73.62" rx="0.8" ry="1.05" fill="#3a957f"/>
<ellipse cx="33.90" cy="76.58" rx="0.8" ry="1.05" fill="#3a957f"/>
<ellipse cx="33.90" cy="80.27" rx="0.8" ry="1.05" fill="#3a957f"/>
<ellipse cx="33.90" cy="82.80" rx="0.8" ry="1.05" fill="#3a957f"/>
<ellipse cx="33.90" cy="87.55" rx="0.8" ry="1.05" fill="#3a957f"/>
<ellipse cx="33.90" cy="91.90" rx="0.8" ry="1.05" fill="#3a957f"/>
<rect x="67.40" y="67.40" width="8.00" height="18.10" class="box"/>
<ellipse cx="71.40" cy="15.10" rx="0.8" ry="1.05" fill="#e8975a"/>
<ellipse cx="71.40" cy="38.79" rx="0.8" ry="1.05" fill="#e8975a"/>
<ellipse cx="71.40" cy="55.05" rx="0.8" ry="1.05" fill="#e8975a"/>
<ellipse cx="71.40" cy="59.43" rx="0.8" ry="1.05" fill="#e8975a"/>
<ellipse cx="71.40" cy="62.35" rx="0.8" ry="1.05" fill="#e8975a"/>
<ellipse cx="71.40" cy="64.64" rx="0.8" ry="1.05" fill="#e8975a"/>
<ellipse cx="71.40" cy="68.18" rx="0.8" ry="1.05" fill="#e8975a"/>
<ellipse cx="71.40" cy="70.89" rx="0.8" ry="1.05" fill="#e8975a"/>
<ellipse cx="71.40" cy="74.65" rx="0.8" ry="1.05" fill="#e8975a"/>
<ellipse cx="71.40" cy="77.15" rx="0.8" ry="1.05" fill="#e8975a"/>
<ellipse cx="71.40" cy="80.69" rx="0.8" ry="1.05" fill="#e8975a"/>
<ellipse cx="71.40" cy="83.61" rx="0.8" ry="1.05" fill="#e8975a"/>
<ellipse cx="71.40" cy="86.95" rx="0.8" ry="1.05" fill="#e8975a"/>
<ellipse cx="71.40" cy="89.24" rx="0.8" ry="1.05" fill="#e8975a"/>
<ellipse cx="71.40" cy="93.00" rx="0.8" ry="1.05" fill="#e8975a"/>
<ellipse cx="71.40" cy="97.50" rx="0.8" ry="1.05" fill="#e8975a"/>
<line x1="33.90" y1="74.70" x2="71.40" y2="76.90" class="mline"/>
<circle cx="33.90" cy="74.70" r="1.9" fill="#8a0a0a"/>
<circle cx="71.40" cy="76.90" r="1.9" fill="#8a0a0a"/>
<rect x="39.40" y="73.20" width="18.2" height="3.2" class="lbox"/>
<rect x="41.70" y="74.30" width="4.2" height="1.0" class="lt1"/>
<rect x="48.40" y="74.15" width="7.8" height="1.25" class="lt2"/>
<rect x="75.60" y="75.40" width="18.2" height="3.2" class="lbox"/>
<rect x="77.90" y="76.50" width="4.2" height="1.0" class="lt1"/>
<rect x="84.60" y="76.35" width="7.8" height="1.25" class="lt2"/>
<line x1="33.90" y1="101.8" x2="33.90" y2="102.8" class="xt"/>
<rect x="31.10" y="103.6" width="5.6" height="1.3" class="xl"/>
<rect x="30.10" y="106.1" width="7.6" height="1.4" class="xl"/>
<line x1="71.40" y1="101.8" x2="71.40" y2="102.8" class="xt"/>
<rect x="68.60" y="103.6" width="5.6" height="1.3" class="xl"/>
<rect x="67.60" y="106.1" width="7.6" height="1.4" class="xl"/>
</g>
<g transform="translate(283,109)">
<line x1="13.2" y1="12.90" x2="93.5" y2="12.90" class="grid"/>
<rect x="8" y="12.15" width="4.4" height="1.5" class="tickl"/>
<line x1="13.2" y1="39.80" x2="93.5" y2="39.80" class="grid"/>
<rect x="8" y="39.05" width="4.4" height="1.5" class="tickl"/>
<line x1="13.2" y1="66.50" x2="93.5" y2="66.50" class="grid"/>
<rect x="8" y="65.75" width="4.4" height="1.5" class="tickl"/>
<line x1="13.2" y1="93.20" x2="93.5" y2="93.20" class="grid"/>
<rect x="8" y="92.45" width="4.4" height="1.5" class="tickl"/>
<line x1="34.60" y1="10" x2="34.60" y2="102.5" class="vgrid"/>
<line x1="71.90" y1="10" x2="71.90" y2="102.5" class="vgrid"/>
<text x="39.50" y="7.3" class="title">KI67 among CD8<tspan class="sup" dy="-1.9">+</tspan></text>
<text x="13.50" y="14.3" class="sub"><tspan font-style="italic">V</tspan><tspan class="subsc" dy="0.9">Wilcoxon</tspan><tspan dy="-0.9"> = 229.00, </tspan><tspan font-style="italic">p</tspan> = 0.95</text>
<rect x="3.4" y="54.4" width="2.3" height="4.7" class="ylab"/>
<path d="M34.5,58.3 L30.9,59.3 L30.0,60.3 L29.4,61.3 L28.9,62.3 L28.3,63.3 L27.7,64.3 L27.2,65.3 L26.8,66.3 L26.5,67.3 L26.2,68.3 L26.1,69.3 L25.9,70.3 L25.8,71.3 L25.6,72.3 L25.5,73.3 L25.5,74.3 L25.4,75.3 L25.4,76.3 L25.4,77.3 L25.5,78.3 L25.6,79.3 L25.7,80.3 L25.8,81.3 L26.0,82.3 L26.1,83.3 L26.4,84.3 L26.7,85.3 L27.2,86.3 L27.8,87.3 L28.6,88.3 L29.3,89.3 L30.8,90.3 L34.5,91.0 L34.8,91.0 L38.4,90.3 L39.9,89.3 L40.6,88.3 L41.4,87.3 L42.0,86.3 L42.5,85.3 L42.8,84.3 L43.1,83.3 L43.2,82.3 L43.4,81.3 L43.5,80.3 L43.6,79.3 L43.7,78.3 L43.8,77.3 L43.8,76.3 L43.8,75.3 L43.7,74.3 L43.7,73.3 L43.6,72.3 L43.4,71.3 L43.3,70.3 L43.1,69.3 L43.0,68.3 L42.7,67.3 L42.4,66.3 L42.0,65.3 L41.5,64.3 L40.9,63.3 L40.3,62.3 L39.8,61.3 L39.2,60.3 L38.3,59.3 L34.8,58.3Z" class="vio"/>
<path d="M71.8,15.1 L71.8,16.1 L71.8,17.1 L71.8,18.1 L71.8,19.1 L71.8,20.1 L71.8,21.1 L71.8,22.1 L71.8,23.1 L71.8,24.1 L71.8,25.1 L71.8,26.1 L71.8,27.1 L71.8,28.1 L71.8,29.1 L71.8,30.1 L71.8,31.1 L71.8,32.1 L71.8,33.1 L71.8,34.1 L71.8,35.1 L71.8,36.1 L71.8,37.1 L71.8,38.1 L71.8,39.1 L71.8,40.1 L71.8,41.1 L71.8,42.1 L71.8,43.1 L71.8,44.1 L71.8,45.1 L71.8,46.1 L71.8,47.1 L71.7,48.1 L71.7,49.1 L71.6,50.1 L71.3,51.1 L70.9,52.1 L70.4,53.1 L69.9,54.1 L69.4,55.1 L68.9,56.1 L68.4,57.1 L68.0,58.1 L67.5,59.1 L67.1,60.1 L66.6,61.1 L66.2,62.1 L65.8,63.1 L65.4,64.1 L65.1,65.1 L64.7,66.1 L64.4,67.1 L64.1,68.1 L63.8,69.1 L63.5,70.1 L63.2,71.1 L63.0,72.1 L62.9,73.1 L62.8,74.1 L62.9,75.1 L63.0,76.1 L63.2,77.1 L63.4,78.1 L63.7,79.1 L64.0,80.1 L64.3,81.1 L64.7,82.1 L65.0,83.1 L65.4,84.1 L65.9,85.1 L66.3,86.1 L66.9,87.1 L67.4,88.1 L68.0,89.1 L68.5,90.1 L69.0,91.1 L69.5,92.1 L69.9,93.1 L70.4,94.1 L70.8,95.1 L71.2,96.1 L71.5,97.1 L71.7,98.1 L71.8,99.1 L71.8,99.2 L72.1,99.2 L72.1,99.1 L72.1,98.1 L72.3,97.1 L72.6,96.1 L73.0,95.1 L73.4,94.1 L73.9,93.1 L74.3,92.1 L74.8,91.1 L75.3,90.1 L75.8,89.1 L76.4,88.1 L76.9,87.1 L77.5,86.1 L77.9,85.1 L78.4,84.1 L78.8,83.1 L79.1,82.1 L79.5,81.1 L79.8,80.1 L80.1,79.1 L80.4,78.1 L80.6,77.1 L80.8,76.1 L80.9,75.1 L81.0,74.1 L80.9,73.1 L80.8,72.1 L80.6,71.1 L80.3,70.1 L80.0,69.1 L79.7,68.1 L79.4,67.1 L79.1,66.1 L78.7,65.1 L78.4,64.1 L78.0,63.1 L77.6,62.1 L77.2,61.1 L76.7,60.1 L76.3,59.1 L75.8,58.1 L75.4,57.1 L74.9,56.1 L74.4,55.1 L73.9,54.1 L73.4,53.1 L72.9,52.1 L72.5,51.1 L72.2,50.1 L72.1,49.1 L72.1,48.1 L72.1,47.1 L72.1,46.1 L72.1,45.1 L72.1,44.1 L72.1,43.1 L72.1,42.1 L72.1,41.1 L72.1,40.1 L72.1,39.1 L72.1,38.1 L72.1,37.1 L72.1,36.1 L72.1,35.1 L72.1,34.1 L72.1,33.1 L72.1,32.1 L72.1,31.1 L72.1,30.1 L72.1,29.1 L72.1,28.1 L72.1,27.1 L72.1,26.1 L72.1,25.1 L72.1,24.1 L72.1,23.1 L72.1,22.1 L72.1,21.1 L72.1,20.1 L72.1,19.1 L72.1,18.1 L72.1,17.1 L72.1,16.1 L72.1,15.1Z" class="vio"/>
<line x1="34.60" y1="58.80" x2="71.90" y2="45.80" class="pair"/>
<line x1="34.60" y1="61.24" x2="71.90" y2="15.60" class="pair"/>
<line x1="34.60" y1="63.70" x2="71.90" y2="58.62" class="pair"/>
<line x1="34.60" y1="65.41" x2="71.90" y2="63.88" class="pair"/>
<line x1="34.60" y1="66.80" x2="71.90" y2="61.78" class="pair"/>
<line x1="34.60" y1="68.03" x2="71.90" y2="65.56" class="pair"/>
<line x1="34.60" y1="69.17" x2="71.90" y2="68.29" class="pair"/>
<line x1="34.60" y1="70.32" x2="71.90" y2="67.03" class="pair"/>
<line x1="34.60" y1="71.38" x2="71.90" y2="70.61" class="pair"/>
<line x1="34.60" y1="72.44" x2="71.90" y2="72.71" class="pair"/>
<line x1="34.60" y1="73.51" x2="71.90" y2="71.66" class="pair"/>
<line x1="34.60" y1="74.57" x2="71.90" y2="73.76" class="pair"/>
<line x1="34.60" y1="75.55" x2="71.90" y2="69.55" class="pair"/>
<line x1="34.60" y1="76.53" x2="71.90" y2="74.60" class="pair"/>
<line x1="34.60" y1="77.51" x2="71.90" y2="76.49" class="pair"/>
<line x1="34.60" y1="78.49" x2="71.90" y2="80.07" class="pair"/>
<line x1="34.60" y1="79.55" x2="71.90" y2="77.54" class="pair"/>
<line x1="34.60" y1="80.62" x2="71.90" y2="75.65" class="pair"/>
<line x1="34.60" y1="81.68" x2="71.90" y2="81.33" class="pair"/>
<line x1="34.60" y1="82.74" x2="71.90" y2="78.81" class="pair"/>
<line x1="34.60" y1="83.89" x2="71.90" y2="90.58" class="pair"/>
<line x1="34.60" y1="85.20" x2="71.90" y2="82.80" class="pair"/>
<line x1="34.60" y1="86.75" x2="71.90" y2="98.70" class="pair"/>
<line x1="34.60" y1="88.79" x2="71.90" y2="86.59" class="pair"/>
<line x1="34.60" y1="90.50" x2="71.90" y2="84.48" class="pair"/>
<rect x="30.50" y="68.60" width="8.20" height="15.10" class="box"/>
<ellipse cx="34.60" cy="58.80" rx="0.8" ry="1.05" fill="#3a957f"/>
<ellipse cx="34.60" cy="63.70" rx="0.8" ry="1.05" fill="#3a957f"/>
<ellipse cx="34.60" cy="65.41" rx="0.8" ry="1.05" fill="#3a957f"/>
<ellipse cx="34.60" cy="68.03" rx="0.8" ry="1.05" fill="#3a957f"/>
<ellipse cx="34.60" cy="71.38" rx="0.8" ry="1.05" fill="#3a957f"/>
<ellipse cx="34.60" cy="73.51" rx="0.8" ry="1.05" fill="#3a957f"/>
<ellipse cx="34.60" cy="76.53" rx="0.8" ry="1.05" fill="#3a957f"/>
<ellipse cx="34.60" cy="79.55" rx="0.8" ry="1.05" fill="#3a957f"/>
<ellipse cx="34.60" cy="82.74" rx="0.8" ry="1.05" fill="#3a957f"/>
<ellipse cx="34.60" cy="86.75" rx="0.8" ry="1.05" fill="#3a957f"/>
<ellipse cx="34.60" cy="88.79" rx="0.8" ry="1.05" fill="#3a957f"/>
<rect x="67.70" y="67.80" width="8.40" height="14.20" class="box"/>
<ellipse cx="71.90" cy="15.60" rx="0.8" ry="1.05" fill="#e8975a"/>
<ellipse cx="71.90" cy="45.80" rx="0.8" ry="1.05" fill="#e8975a"/>
<ellipse cx="71.90" cy="58.62" rx="0.8" ry="1.05" fill="#e8975a"/>
<ellipse cx="71.90" cy="61.78" rx="0.8" ry="1.05" fill="#e8975a"/>
<ellipse cx="71.90" cy="65.56" rx="0.8" ry="1.05" fill="#e8975a"/>
<ellipse cx="71.90" cy="68.29" rx="0.8" ry="1.05" fill="#e8975a"/>
<ellipse cx="71.90" cy="70.61" rx="0.8" ry="1.05" fill="#e8975a"/>
<ellipse cx="71.90" cy="73.76" rx="0.8" ry="1.05" fill="#e8975a"/>
<ellipse cx="71.90" cy="77.54" rx="0.8" ry="1.05" fill="#e8975a"/>
<ellipse cx="71.90" cy="80.07" rx="0.8" ry="1.05" fill="#e8975a"/>
<ellipse cx="71.90" cy="82.80" rx="0.8" ry="1.05" fill="#e8975a"/>
<ellipse cx="71.90" cy="86.59" rx="0.8" ry="1.05" fill="#e8975a"/>
<ellipse cx="71.90" cy="90.58" rx="0.8" ry="1.05" fill="#e8975a"/>
<ellipse cx="71.90" cy="98.70" rx="0.8" ry="1.05" fill="#e8975a"/>
<line x1="34.60" y1="76.00" x2="71.90" y2="74.60" class="mline"/>
<circle cx="34.60" cy="76.00" r="1.9" fill="#8a0a0a"/>
<circle cx="71.90" cy="74.60" r="1.9" fill="#8a0a0a"/>
<rect x="40.10" y="74.50" width="18.2" height="3.2" class="lbox"/>
<rect x="42.40" y="75.60" width="4.2" height="1.0" class="lt1"/>
<rect x="49.10" y="75.45" width="7.8" height="1.25" class="lt2"/>
<rect x="76.10" y="73.10" width="18.2" height="3.2" class="lbox"/>
<rect x="78.40" y="74.20" width="4.2" height="1.0" class="lt1"/>
<rect x="85.10" y="74.05" width="7.8" height="1.25" class="lt2"/>
<line x1="34.60" y1="101.8" x2="34.60" y2="102.8" class="xt"/>
<rect x="31.80" y="103.6" width="5.6" height="1.3" class="xl"/>
<rect x="30.80" y="106.1" width="7.6" height="1.4" class="xl"/>
<line x1="71.90" y1="101.8" x2="71.90" y2="102.8" class="xt"/>
<rect x="69.10" y="103.6" width="5.6" height="1.3" class="xl"/>
<rect x="68.10" y="106.1" width="7.6" height="1.4" class="xl"/>
</g>
<g transform="translate(0,219)">
<line x1="13.2" y1="27.20" x2="93.5" y2="27.20" class="grid"/>
<rect x="8" y="26.45" width="4.4" height="1.5" class="tickl"/>
<line x1="13.2" y1="55.60" x2="93.5" y2="55.60" class="grid"/>
<rect x="8" y="54.85" width="4.4" height="1.5" class="tickl"/>
<line x1="13.2" y1="83.50" x2="93.5" y2="83.50" class="grid"/>
<rect x="8" y="82.75" width="4.4" height="1.5" class="tickl"/>
<line x1="35.50" y1="10" x2="35.50" y2="102.5" class="vgrid"/>
<line x1="72.60" y1="10" x2="72.60" y2="102.5" class="vgrid"/>
<text x="41.90" y="7.3" class="title">PD1 among CD4<tspan class="sup" dy="-1.9">+</tspan></text>
<text x="13.10" y="14.3" class="sub"><tspan font-style="italic">V</tspan><tspan class="subsc" dy="0.9">Wilcoxon</tspan><tspan dy="-0.9"> = 370.00, </tspan><tspan font-weight="bold">p = 4.83e−03</tspan></text>
<rect x="3.4" y="54.4" width="2.3" height="4.7" class="ylab"/>
<path d="M35.4,17.6 L35.4,18.6 L35.4,19.6 L35.4,20.6 L35.4,21.6 L35.4,22.6 L35.4,23.6 L35.4,24.6 L35.4,25.6 L35.4,26.6 L35.4,27.6 L35.3,28.6 L35.3,29.6 L35.2,30.6 L35.0,31.6 L34.8,32.6 L34.5,33.6 L34.1,34.6 L33.8,35.6 L33.5,36.6 L33.2,37.6 L33.0,38.6 L32.9,39.6 L32.8,40.6 L32.7,41.6 L32.6,42.6 L32.5,43.6 L32.4,44.6 L32.3,45.6 L32.3,46.6 L32.2,47.6 L32.1,48.6 L31.9,49.6 L31.8,50.6 L31.6,51.6 L31.4,52.6 L31.1,53.6 L30.8,54.6 L30.5,55.6 L30.2,56.6 L29.9,57.6 L29.6,58.6 L29.2,59.6 L28.9,60.6 L28.6,61.6 L28.2,62.6 L27.8,63.6 L27.4,64.6 L27.0,65.6 L26.7,66.6 L26.5,67.6 L26.5,68.6 L26.7,69.6 L27.0,70.6 L27.5,71.6 L28.0,72.6 L28.6,73.6 L29.1,74.6 L29.6,75.6 L30.1,76.6 L30.4,77.6 L30.7,78.6 L30.9,79.6 L31.1,80.6 L31.3,81.6 L31.5,82.6 L31.7,83.6 L31.9,84.6 L32.1,85.6 L32.2,86.6 L32.4,87.6 L32.5,88.6 L32.6,89.6 L32.7,90.6 L32.8,91.6 L32.8,92.6 L32.9,93.6 L33.0,94.6 L33.1,95.6 L33.3,96.6 L33.5,97.6 L35.4,98.6 L35.4,98.8 L35.6,98.8 L35.6,98.6 L37.5,97.6 L37.7,96.6 L37.9,95.6 L38.0,94.6 L38.1,93.6 L38.2,92.6 L38.2,91.6 L38.3,90.6 L38.4,89.6 L38.5,88.6 L38.6,87.6 L38.8,86.6 L38.9,85.6 L39.1,84.6 L39.3,83.6 L39.5,82.6 L39.7,81.6 L39.9,80.6 L40.1,79.6 L40.3,78.6 L40.6,77.6 L40.9,76.6 L41.4,75.6 L41.9,74.6 L42.4,73.6 L43.0,72.6 L43.5,71.6 L44.0,70.6 L44.3,69.6 L44.5,68.6 L44.5,67.6 L44.3,66.6 L44.0,65.6 L43.6,64.6 L43.2,63.6 L42.8,62.6 L42.4,61.6 L42.1,60.6 L41.8,59.6 L41.4,58.6 L41.1,57.6 L40.8,56.6 L40.5,55.6 L40.2,54.6 L39.9,53.6 L39.6,52.6 L39.4,51.6 L39.2,50.6 L39.1,49.6 L38.9,48.6 L38.8,47.6 L38.7,46.6 L38.7,45.6 L38.6,44.6 L38.5,43.6 L38.4,42.6 L38.3,41.6 L38.2,40.6 L38.1,39.6 L38.0,38.6 L37.8,37.6 L37.5,36.6 L37.2,35.6 L36.9,34.6 L36.5,33.6 L36.2,32.6 L36.0,31.6 L35.8,30.6 L35.7,29.6 L35.7,28.6 L35.6,27.6 L35.6,26.6 L35.6,25.6 L35.6,24.6 L35.6,23.6 L35.6,22.6 L35.6,21.6 L35.6,20.6 L35.6,19.6 L35.6,18.6 L35.6,17.6Z" class="vio"/>
<path d="M72.4,35.1 L71.1,36.1 L71.0,37.1 L70.9,38.1 L70.9,39.1 L70.9,40.1 L70.8,41.1 L70.8,42.1 L70.8,43.1 L70.8,44.1 L70.8,45.1 L70.8,46.1 L70.8,47.1 L70.7,48.1 L70.7,49.1 L70.7,50.1 L70.7,51.1 L70.6,52.1 L70.6,53.1 L70.5,54.1 L70.4,55.1 L70.3,56.1 L70.2,57.1 L70.0,58.1 L69.8,59.1 L69.5,60.1 L69.1,61.1 L68.7,62.1 L68.2,63.1 L67.8,64.1 L67.3,65.1 L66.9,66.1 L66.5,67.1 L66.1,68.1 L65.8,69.1 L65.5,70.1 L65.1,71.1 L64.9,72.1 L64.6,73.1 L64.5,74.1 L64.5,75.1 L64.5,76.1 L64.6,77.1 L64.8,78.1 L65.1,79.1 L65.4,80.1 L65.8,81.1 L66.1,82.1 L66.5,83.1 L67.0,84.1 L67.5,85.1 L68.1,86.1 L68.7,87.1 L69.2,88.1 L69.7,89.1 L70.0,90.1 L70.2,91.1 L70.3,92.1 L70.5,93.1 L70.7,94.1 L72.4,95.1 L72.4,95.5 L72.8,95.5 L72.8,95.1 L74.5,94.1 L74.7,93.1 L74.9,92.1 L75.0,91.1 L75.2,90.1 L75.5,89.1 L76.0,88.1 L76.5,87.1 L77.1,86.1 L77.7,85.1 L78.2,84.1 L78.7,83.1 L79.1,82.1 L79.4,81.1 L79.8,80.1 L80.1,79.1 L80.4,78.1 L80.6,77.1 L80.7,76.1 L80.7,75.1 L80.7,74.1 L80.6,73.1 L80.3,72.1 L80.1,71.1 L79.7,70.1 L79.4,69.1 L79.1,68.1 L78.7,67.1 L78.3,66.1 L77.9,65.1 L77.4,64.1 L77.0,63.1 L76.5,62.1 L76.1,61.1 L75.7,60.1 L75.4,59.1 L75.2,58.1 L75.0,57.1 L74.9,56.1 L74.8,55.1 L74.7,54.1 L74.6,53.1 L74.6,52.1 L74.5,51.1 L74.5,50.1 L74.5,49.1 L74.5,48.1 L74.4,47.1 L74.4,46.1 L74.4,45.1 L74.4,44.1 L74.4,43.1 L74.4,42.1 L74.4,41.1 L74.3,40.1 L74.3,39.1 L74.3,38.1 L74.2,37.1 L74.1,36.1 L72.8,35.1Z" class="vio"/>
<line x1="35.50" y1="18.10" x2="72.60" y2="70.28" class="pair"/>
<line x1="35.50" y1="36.68" x2="72.60" y2="56.84" class="pair"/>
<line x1="35.50" y1="45.41" x2="72.60" y2="72.40" class="pair"/>
<line x1="35.50" y1="51.09" x2="72.60" y2="76.02" class="pair"/>
<line x1="35.50" y1="54.55" x2="72.60" y2="44.31" class="pair"/>
<line x1="35.50" y1="57.18" x2="72.60" y2="61.98" class="pair"/>
<line x1="35.50" y1="59.21" x2="72.60" y2="35.60" class="pair"/>
<line x1="35.50" y1="60.84" x2="72.60" y2="66.36" class="pair"/>
<line x1="35.50" y1="62.46" x2="72.60" y2="75.12" class="pair"/>
<line x1="35.50" y1="63.68" x2="72.60" y2="79.95" class="pair"/>
<line x1="35.50" y1="64.90" x2="72.60" y2="67.87" class="pair"/>
<line x1="35.50" y1="65.91" x2="72.60" y2="74.21" class="pair"/>
<line x1="35.50" y1="66.93" x2="72.60" y2="83.87" class="pair"/>
<line x1="35.50" y1="67.94" x2="72.60" y2="76.78" class="pair"/>
<line x1="35.50" y1="68.76" x2="72.60" y2="64.55" class="pair"/>
<line x1="35.50" y1="69.77" x2="72.60" y2="81.00" class="pair"/>
<line x1="35.50" y1="70.99" x2="72.60" y2="71.34" class="pair"/>
<line x1="35.50" y1="72.21" x2="72.60" y2="73.30" class="pair"/>
<line x1="35.50" y1="73.63" x2="72.60" y2="78.89" class="pair"/>
<line x1="35.50" y1="75.45" x2="72.60" y2="69.08" class="pair"/>
<line x1="35.50" y1="77.89" x2="72.60" y2="82.36" class="pair"/>
<line x1="35.50" y1="80.94" x2="72.60" y2="85.84" class="pair"/>
<line x1="35.50" y1="85.00" x2="72.60" y2="77.83" class="pair"/>
<line x1="35.50" y1="91.90" x2="72.60" y2="95.00" class="pair"/>
<line x1="35.50" y1="98.30" x2="72.60" y2="89.61" class="pair"/>
<rect x="31.00" y="55.60" width="9.00" height="18.20" class="box"/>
<ellipse cx="35.50" cy="18.10" rx="0.8" ry="1.05" fill="#3a957f"/>
<ellipse cx="35.50" cy="36.68" rx="0.8" ry="1.05" fill="#3a957f"/>
<ellipse cx="35.50" cy="45.41" rx="0.8" ry="1.05" fill="#3a957f"/>
<ellipse cx="35.50" cy="51.09" rx="0.8" ry="1.05" fill="#3a957f"/>
<ellipse cx="35.50" cy="54.55" rx="0.8" ry="1.05" fill="#3a957f"/>
<ellipse cx="35.50" cy="57.18" rx="0.8" ry="1.05" fill="#3a957f"/>
<ellipse cx="35.50" cy="59.21" rx="0.8" ry="1.05" fill="#3a957f"/>
<ellipse cx="35.50" cy="62.46" rx="0.8" ry="1.05" fill="#3a957f"/>
<ellipse cx="35.50" cy="64.90" rx="0.8" ry="1.05" fill="#3a957f"/>
<ellipse cx="35.50" cy="67.94" rx="0.8" ry="1.05" fill="#3a957f"/>
<ellipse cx="35.50" cy="70.99" rx="0.8" ry="1.05" fill="#3a957f"/>
<ellipse cx="35.50" cy="73.63" rx="0.8" ry="1.05" fill="#3a957f"/>
<ellipse cx="35.50" cy="77.89" rx="0.8" ry="1.05" fill="#3a957f"/>
<ellipse cx="35.50" cy="80.94" rx="0.8" ry="1.05" fill="#3a957f"/>
<ellipse cx="35.50" cy="85.00" rx="0.8" ry="1.05" fill="#3a957f"/>
<ellipse cx="35.50" cy="91.90" rx="0.8" ry="1.05" fill="#3a957f"/>
<ellipse cx="35.50" cy="98.30" rx="0.8" ry="1.05" fill="#3a957f"/>
<rect x="69.00" y="65.10" width="7.20" height="16.40" class="box"/>
<ellipse cx="72.60" cy="35.60" rx="0.8" ry="1.05" fill="#e8975a"/>
<ellipse cx="72.60" cy="44.31" rx="0.8" ry="1.05" fill="#e8975a"/>
<ellipse cx="72.60" cy="56.84" rx="0.8" ry="1.05" fill="#e8975a"/>
<ellipse cx="72.60" cy="61.98" rx="0.8" ry="1.05" fill="#e8975a"/>
<ellipse cx="72.60" cy="64.55" rx="0.8" ry="1.05" fill="#e8975a"/>
<ellipse cx="72.60" cy="67.87" rx="0.8" ry="1.05" fill="#e8975a"/>
<ellipse cx="72.60" cy="71.34" rx="0.8" ry="1.05" fill="#e8975a"/>
<ellipse cx="72.60" cy="74.21" rx="0.8" ry="1.05" fill="#e8975a"/>
<ellipse cx="72.60" cy="76.78" rx="0.8" ry="1.05" fill="#e8975a"/>
<ellipse cx="72.60" cy="79.95" rx="0.8" ry="1.05" fill="#e8975a"/>
<ellipse cx="72.60" cy="83.87" rx="0.8" ry="1.05" fill="#e8975a"/>
<ellipse cx="72.60" cy="85.84" rx="0.8" ry="1.05" fill="#e8975a"/>
<ellipse cx="72.60" cy="89.61" rx="0.8" ry="1.05" fill="#e8975a"/>
<ellipse cx="72.60" cy="95.00" rx="0.8" ry="1.05" fill="#e8975a"/>
<line x1="35.50" y1="67.40" x2="72.60" y2="75.50" class="mline"/>
<circle cx="35.50" cy="67.40" r="1.9" fill="#8a0a0a"/>
<circle cx="72.60" cy="75.50" r="1.9" fill="#8a0a0a"/>
<rect x="41.00" y="65.90" width="18.2" height="3.2" class="lbox"/>
<rect x="43.30" y="67.00" width="4.2" height="1.0" class="lt1"/>
<rect x="50.00" y="66.85" width="7.8" height="1.25" class="lt2"/>
<rect x="76.80" y="74.00" width="18.2" height="3.2" class="lbox"/>
<rect x="79.10" y="75.10" width="4.2" height="1.0" class="lt1"/>
<rect x="85.80" y="74.95" width="7.8" height="1.25" class="lt2"/>
<line x1="35.50" y1="101.8" x2="35.50" y2="102.8" class="xt"/>
<rect x="32.70" y="103.6" width="5.6" height="1.3" class="xl"/>
<rect x="31.70" y="106.1" width="7.6" height="1.4" class="xl"/>
<line x1="72.60" y1="101.8" x2="72.60" y2="102.8" class="xt"/>
<rect x="69.80" y="103.6" width="5.6" height="1.3" class="xl"/>
<rect x="68.80" y="106.1" width="7.6" height="1.4" class="xl"/>
</g>
<g transform="translate(95,219)">
<line x1="13.2" y1="17.00" x2="93.5" y2="17.00" class="grid"/>
<rect x="8" y="16.25" width="4.4" height="1.5" class="tickl"/>
<line x1="13.2" y1="35.80" x2="93.5" y2="35.80" class="grid"/>
<rect x="8" y="35.05" width="4.4" height="1.5" class="tickl"/>
<line x1="13.2" y1="54.50" x2="93.5" y2="54.50" class="grid"/>
<rect x="8" y="53.75" width="4.4" height="1.5" class="tickl"/>
<line x1="13.2" y1="73.30" x2="93.5" y2="73.30" class="grid"/>
<rect x="8" y="72.55" width="4.4" height="1.5" class="tickl"/>
<line x1="13.2" y1="92.40" x2="93.5" y2="92.40" class="grid"/>
<rect x="8" y="91.65" width="4.4" height="1.5" class="tickl"/>
<line x1="34.30" y1="10" x2="34.30" y2="102.5" class="vgrid"/>
<line x1="72.00" y1="10" x2="72.00" y2="102.5" class="vgrid"/>
<text x="37.50" y="7.3" class="title">PD1 among CD8<tspan class="sup" dy="-1.9">+</tspan></text>
<text x="11.30" y="14.3" class="sub"><tspan font-style="italic">V</tspan><tspan class="subsc" dy="0.9">Wilcoxon</tspan><tspan dy="-0.9"> = 347.00, </tspan><tspan font-weight="bold">p = 0.02</tspan></text>
<rect x="3.4" y="54.4" width="2.3" height="4.7" class="ylab"/>
<path d="M34.1,15.4 L34.1,16.4 L34.1,17.4 L34.1,18.4 L34.1,19.4 L34.1,20.4 L34.1,21.4 L34.1,22.4 L34.1,23.4 L34.1,24.4 L34.1,25.4 L34.1,26.4 L34.1,27.4 L34.1,28.4 L34.1,29.4 L34.1,30.4 L34.1,31.4 L34.1,32.4 L34.1,33.4 L34.1,34.4 L34.1,35.4 L34.1,36.4 L34.1,37.4 L34.1,38.4 L34.1,39.4 L34.1,40.4 L34.1,41.4 L34.1,42.4 L34.1,43.4 L34.1,44.4 L34.1,45.4 L34.0,46.4 L33.7,47.4 L33.4,48.4 L33.0,49.4 L32.6,50.4 L32.3,51.4 L32.0,52.4 L31.8,53.4 L31.6,54.4 L31.4,55.4 L31.2,56.4 L31.0,57.4 L30.9,58.4 L30.7,59.4 L30.6,60.4 L30.4,61.4 L30.2,62.4 L30.0,63.4 L29.8,64.4 L29.6,65.4 L29.4,66.4 L29.2,67.4 L29.0,68.4 L28.8,69.4 L28.6,70.4 L28.4,71.4 L28.2,72.4 L28.0,73.4 L27.8,74.4 L27.5,75.4 L27.2,76.4 L27.0,77.4 L26.7,78.4 L26.5,79.4 L26.4,80.4 L26.4,81.4 L26.4,82.4 L26.7,83.4 L27.0,84.4 L27.5,85.4 L28.0,86.4 L28.6,87.4 L29.2,88.4 L29.7,89.4 L30.2,90.4 L30.6,91.4 L30.8,92.4 L31.1,93.4 L31.4,94.4 L31.7,95.4 L32.2,96.4 L34.1,97.4 L34.1,97.6 L34.4,97.6 L34.4,97.4 L36.4,96.4 L36.9,95.4 L37.2,94.4 L37.5,93.4 L37.8,92.4 L38.0,91.4 L38.4,90.4 L38.9,89.4 L39.4,88.4 L40.0,87.4 L40.6,86.4 L41.1,85.4 L41.6,84.4 L41.9,83.4 L42.2,82.4 L42.2,81.4 L42.2,80.4 L42.1,79.4 L41.9,78.4 L41.6,77.4 L41.4,76.4 L41.1,75.4 L40.8,74.4 L40.6,73.4 L40.4,72.4 L40.2,71.4 L40.0,70.4 L39.8,69.4 L39.6,68.4 L39.4,67.4 L39.2,66.4 L39.0,65.4 L38.8,64.4 L38.6,63.4 L38.4,62.4 L38.2,61.4 L38.0,60.4 L37.9,59.4 L37.7,58.4 L37.6,57.4 L37.4,56.4 L37.2,55.4 L37.0,54.4 L36.8,53.4 L36.6,52.4 L36.3,51.4 L36.0,50.4 L35.6,49.4 L35.2,48.4 L34.9,47.4 L34.6,46.4 L34.5,45.4 L34.5,44.4 L34.4,43.4 L34.4,42.4 L34.4,41.4 L34.4,40.4 L34.4,39.4 L34.4,38.4 L34.4,37.4 L34.4,36.4 L34.4,35.4 L34.4,34.4 L34.4,33.4 L34.4,32.4 L34.4,31.4 L34.4,30.4 L34.4,29.4 L34.4,28.4 L34.4,27.4 L34.4,26.4 L34.4,25.4 L34.4,24.4 L34.4,23.4 L34.4,22.4 L34.4,21.4 L34.4,20.4 L34.4,19.4 L34.4,18.4 L34.4,17.4 L34.4,16.4 L34.4,15.4Z" class="vio"/>
<path d="M71.8,33.3 L70.5,34.3 L70.4,35.3 L70.4,36.3 L70.3,37.3 L70.3,38.3 L70.2,39.3 L70.2,40.3 L70.2,41.3 L70.2,42.3 L70.2,43.3 L70.2,44.3 L70.1,45.3 L70.1,46.3 L70.1,47.3 L70.1,48.3 L70.1,49.3 L70.1,50.3 L70.1,51.3 L70.0,52.3 L70.0,53.3 L70.0,54.3 L69.9,55.3 L69.9,56.3 L69.8,57.3 L69.8,58.3 L69.7,59.3 L69.7,60.3 L69.6,61.3 L69.5,62.3 L69.4,63.3 L69.2,64.3 L69.1,65.3 L68.9,66.3 L68.7,67.3 L68.4,68.3 L68.2,69.3 L67.9,70.3 L67.6,71.3 L67.3,72.3 L67.0,73.3 L66.7,74.3 L66.3,75.3 L65.9,76.3 L65.5,77.3 L65.1,78.3 L64.8,79.3 L64.5,80.3 L64.2,81.3 L63.9,82.3 L63.6,83.3 L63.4,84.3 L63.2,85.3 L63.0,86.3 L63.0,87.3 L63.0,88.3 L63.2,89.3 L63.5,90.3 L64.0,91.3 L64.5,92.3 L65.1,93.3 L65.7,94.3 L66.3,95.3 L66.8,96.3 L67.3,97.3 L68.1,98.3 L71.8,99.3 L71.8,99.6 L72.2,99.6 L72.2,99.3 L75.9,98.3 L76.7,97.3 L77.2,96.3 L77.7,95.3 L78.3,94.3 L78.9,93.3 L79.5,92.3 L80.0,91.3 L80.5,90.3 L80.8,89.3 L81.0,88.3 L81.0,87.3 L81.0,86.3 L80.8,85.3 L80.6,84.3 L80.4,83.3 L80.1,82.3 L79.8,81.3 L79.5,80.3 L79.2,79.3 L78.9,78.3 L78.5,77.3 L78.1,76.3 L77.7,75.3 L77.3,74.3 L77.0,73.3 L76.7,72.3 L76.4,71.3 L76.1,70.3 L75.8,69.3 L75.6,68.3 L75.3,67.3 L75.1,66.3 L74.9,65.3 L74.8,64.3 L74.6,63.3 L74.5,62.3 L74.4,61.3 L74.3,60.3 L74.3,59.3 L74.2,58.3 L74.2,57.3 L74.1,56.3 L74.1,55.3 L74.0,54.3 L74.0,53.3 L74.0,52.3 L73.9,51.3 L73.9,50.3 L73.9,49.3 L73.9,48.3 L73.9,47.3 L73.9,46.3 L73.9,45.3 L73.8,44.3 L73.8,43.3 L73.8,42.3 L73.8,41.3 L73.8,40.3 L73.8,39.3 L73.7,38.3 L73.7,37.3 L73.6,36.3 L73.6,35.3 L73.5,34.3 L72.2,33.3Z" class="vio"/>
<line x1="34.30" y1="15.90" x2="72.00" y2="67.28" class="pair"/>
<line x1="34.30" y1="39.03" x2="72.00" y2="83.85" class="pair"/>
<line x1="34.30" y1="55.68" x2="72.00" y2="77.89" class="pair"/>
<line x1="34.30" y1="60.40" x2="72.00" y2="79.38" class="pair"/>
<line x1="34.30" y1="63.69" x2="72.00" y2="82.86" class="pair"/>
<line x1="34.30" y1="66.16" x2="72.00" y2="86.67" class="pair"/>
<line x1="34.30" y1="68.42" x2="72.00" y2="59.49" class="pair"/>
<line x1="34.30" y1="70.27" x2="72.00" y2="74.24" class="pair"/>
<line x1="34.30" y1="71.91" x2="72.00" y2="85.84" class="pair"/>
<line x1="34.30" y1="73.35" x2="72.00" y2="88.49" class="pair"/>
<line x1="34.30" y1="74.79" x2="72.00" y2="94.63" class="pair"/>
<line x1="34.30" y1="76.02" x2="72.00" y2="96.95" class="pair"/>
<line x1="34.30" y1="77.26" x2="72.00" y2="84.85" class="pair"/>
<line x1="34.30" y1="78.28" x2="72.00" y2="33.80" class="pair"/>
<line x1="34.30" y1="79.31" x2="72.00" y2="91.64" class="pair"/>
<line x1="34.30" y1="80.34" x2="72.00" y2="92.97" class="pair"/>
<line x1="34.30" y1="81.16" x2="72.00" y2="87.50" class="pair"/>
<line x1="34.30" y1="82.19" x2="72.00" y2="44.57" class="pair"/>
<line x1="34.30" y1="83.22" x2="72.00" y2="80.54" class="pair"/>
<line x1="34.30" y1="84.24" x2="72.00" y2="71.42" class="pair"/>
<line x1="34.30" y1="85.68" x2="72.00" y2="76.23" class="pair"/>
<line x1="34.30" y1="87.12" x2="72.00" y2="81.70" class="pair"/>
<line x1="34.30" y1="89.38" x2="72.00" y2="89.32" class="pair"/>
<line x1="34.30" y1="93.08" x2="72.00" y2="90.32" class="pair"/>
<line x1="34.30" y1="97.10" x2="72.00" y2="99.10" class="pair"/>
<rect x="30.10" y="64.70" width="8.40" height="18.20" class="box"/>
<ellipse cx="34.30" cy="15.90" rx="0.8" ry="1.05" fill="#3a957f"/>
<ellipse cx="34.30" cy="39.03" rx="0.8" ry="1.05" fill="#3a957f"/>
<ellipse cx="34.30" cy="55.68" rx="0.8" ry="1.05" fill="#3a957f"/>
<ellipse cx="34.30" cy="60.40" rx="0.8" ry="1.05" fill="#3a957f"/>
<ellipse cx="34.30" cy="63.69" rx="0.8" ry="1.05" fill="#3a957f"/>
<ellipse cx="34.30" cy="66.16" rx="0.8" ry="1.05" fill="#3a957f"/>
<ellipse cx="34.30" cy="68.42" rx="0.8" ry="1.05" fill="#3a957f"/>
<ellipse cx="34.30" cy="71.91" rx="0.8" ry="1.05" fill="#3a957f"/>
<ellipse cx="34.30" cy="74.79" rx="0.8" ry="1.05" fill="#3a957f"/>
<ellipse cx="34.30" cy="77.26" rx="0.8" ry="1.05" fill="#3a957f"/>
<ellipse cx="34.30" cy="80.34" rx="0.8" ry="1.05" fill="#3a957f"/>
<ellipse cx="34.30" cy="83.22" rx="0.8" ry="1.05" fill="#3a957f"/>
<ellipse cx="34.30" cy="85.68" rx="0.8" ry="1.05" fill="#3a957f"/>
<ellipse cx="34.30" cy="89.38" rx="0.8" ry="1.05" fill="#3a957f"/>
<ellipse cx="34.30" cy="93.08" rx="0.8" ry="1.05" fill="#3a957f"/>
<ellipse cx="34.30" cy="97.10" rx="0.8" ry="1.05" fill="#3a957f"/>
<rect x="68.40" y="73.30" width="7.20" height="17.20" class="box"/>
<ellipse cx="72.00" cy="33.80" rx="0.8" ry="1.05" fill="#e8975a"/>
<ellipse cx="72.00" cy="44.57" rx="0.8" ry="1.05" fill="#e8975a"/>
<ellipse cx="72.00" cy="59.49" rx="0.8" ry="1.05" fill="#e8975a"/>
<ellipse cx="72.00" cy="67.28" rx="0.8" ry="1.05" fill="#e8975a"/>
<ellipse cx="72.00" cy="71.42" rx="0.8" ry="1.05" fill="#e8975a"/>
<ellipse cx="72.00" cy="74.24" rx="0.8" ry="1.05" fill="#e8975a"/>
<ellipse cx="72.00" cy="77.89" rx="0.8" ry="1.05" fill="#e8975a"/>
<ellipse cx="72.00" cy="80.54" rx="0.8" ry="1.05" fill="#e8975a"/>
<ellipse cx="72.00" cy="82.86" rx="0.8" ry="1.05" fill="#e8975a"/>
<ellipse cx="72.00" cy="85.84" rx="0.8" ry="1.05" fill="#e8975a"/>
<ellipse cx="72.00" cy="89.32" rx="0.8" ry="1.05" fill="#e8975a"/>
<ellipse cx="72.00" cy="91.64" rx="0.8" ry="1.05" fill="#e8975a"/>
<ellipse cx="72.00" cy="94.63" rx="0.8" ry="1.05" fill="#e8975a"/>
<ellipse cx="72.00" cy="99.10" rx="0.8" ry="1.05" fill="#e8975a"/>
<line x1="34.30" y1="79.00" x2="72.00" y2="84.20" class="mline"/>
<circle cx="34.30" cy="79.00" r="1.9" fill="#8a0a0a"/>
<circle cx="72.00" cy="84.20" r="1.9" fill="#8a0a0a"/>
<rect x="39.80" y="77.50" width="18.2" height="3.2" class="lbox"/>
<rect x="42.10" y="78.60" width="4.2" height="1.0" class="lt1"/>
<rect x="48.80" y="78.45" width="7.8" height="1.25" class="lt2"/>
<rect x="76.20" y="82.70" width="18.2" height="3.2" class="lbox"/>
<rect x="78.50" y="83.80" width="4.2" height="1.0" class="lt1"/>
<rect x="85.20" y="83.65" width="7.8" height="1.25" class="lt2"/>
<line x1="34.30" y1="101.8" x2="34.30" y2="102.8" class="xt"/>
<rect x="31.50" y="103.6" width="5.6" height="1.3" class="xl"/>
<rect x="30.50" y="106.1" width="7.6" height="1.4" class="xl"/>
<line x1="72.00" y1="101.8" x2="72.00" y2="102.8" class="xt"/>
<rect x="69.20" y="103.6" width="5.6" height="1.3" class="xl"/>
<rect x="68.20" y="106.1" width="7.6" height="1.4" class="xl"/>
</g>
<g transform="translate(189,219)">
<line x1="13.2" y1="32.90" x2="93.5" y2="32.90" class="grid"/>
<rect x="8" y="32.15" width="4.4" height="1.5" class="tickl"/>
<line x1="13.2" y1="60.10" x2="93.5" y2="60.10" class="grid"/>
<rect x="8" y="59.35" width="4.4" height="1.5" class="tickl"/>
<line x1="13.2" y1="86.30" x2="93.5" y2="86.30" class="grid"/>
<rect x="8" y="85.55" width="4.4" height="1.5" class="tickl"/>
<line x1="34.50" y1="10" x2="34.50" y2="102.5" class="vgrid"/>
<line x1="72.10" y1="10" x2="72.10" y2="102.5" class="vgrid"/>
<text x="39.85" y="7.3" class="title">TBET among CD4<tspan class="sup" dy="-1.9">+</tspan></text>
<text x="13.30" y="14.3" class="sub"><tspan font-style="italic">V</tspan><tspan class="subsc" dy="0.9">Wilcoxon</tspan><tspan dy="-0.9"> = 180.00, </tspan><tspan font-style="italic">p</tspan> = 0.28</text>
<rect x="3.4" y="54.4" width="2.3" height="4.7" class="ylab"/>
<path d="M34.4,14.0 L34.4,15.0 L34.4,16.0 L34.4,17.0 L34.4,18.0 L34.4,19.0 L34.4,20.0 L34.4,21.0 L34.4,22.0 L34.4,23.0 L34.4,24.0 L34.4,25.0 L34.4,26.0 L34.4,27.0 L34.4,28.0 L34.4,29.0 L34.4,30.0 L34.4,31.0 L34.4,32.0 L34.4,33.0 L34.4,34.0 L34.4,35.0 L34.4,36.0 L34.4,37.0 L34.4,38.0 L34.4,39.0 L34.4,40.0 L34.4,41.0 L34.4,42.0 L34.4,43.0 L34.4,44.0 L34.4,45.0 L34.4,46.0 L34.4,47.0 L34.4,48.0 L34.4,49.0 L34.4,50.0 L34.4,51.0 L34.4,52.0 L34.4,53.0 L34.3,54.0 L34.2,55.0 L33.9,56.0 L33.4,57.0 L32.8,58.0 L32.2,59.0 L31.7,60.0 L31.1,61.0 L30.6,62.0 L30.0,63.0 L29.5,64.0 L29.0,65.0 L28.5,66.0 L28.0,67.0 L27.5,68.0 L27.0,69.0 L26.5,70.0 L26.1,71.0 L25.7,72.0 L25.5,73.0 L25.5,74.0 L25.7,75.0 L26.0,76.0 L26.5,77.0 L27.0,78.0 L27.7,79.0 L28.3,80.0 L28.9,81.0 L29.4,82.0 L30.0,83.0 L30.5,84.0 L31.0,85.0 L31.5,86.0 L32.0,87.0 L32.5,88.0 L33.0,89.0 L33.5,90.0 L34.0,91.0 L34.2,92.0 L34.3,93.0 L34.4,94.0 L34.4,95.0 L34.4,96.0 L34.4,97.0 L34.4,98.0 L34.4,99.0 L34.4,99.2 L34.6,99.2 L34.6,99.0 L34.6,98.0 L34.6,97.0 L34.6,96.0 L34.6,95.0 L34.6,94.0 L34.7,93.0 L34.8,92.0 L35.0,91.0 L35.5,90.0 L36.0,89.0 L36.5,88.0 L37.0,87.0 L37.5,86.0 L38.0,85.0 L38.5,84.0 L39.0,83.0 L39.6,82.0 L40.1,81.0 L40.7,80.0 L41.3,79.0 L42.0,78.0 L42.5,77.0 L43.0,76.0 L43.3,75.0 L43.5,74.0 L43.5,73.0 L43.3,72.0 L42.9,71.0 L42.5,70.0 L42.0,69.0 L41.5,68.0 L41.0,67.0 L40.5,66.0 L40.0,65.0 L39.5,64.0 L39.0,63.0 L38.4,62.0 L37.9,61.0 L37.3,60.0 L36.8,59.0 L36.2,58.0 L35.6,57.0 L35.1,56.0 L34.8,55.0 L34.7,54.0 L34.6,53.0 L34.6,52.0 L34.6,51.0 L34.6,50.0 L34.6,49.0 L34.6,48.0 L34.6,47.0 L34.6,46.0 L34.6,45.0 L34.6,44.0 L34.6,43.0 L34.6,42.0 L34.6,41.0 L34.6,40.0 L34.6,39.0 L34.6,38.0 L34.6,37.0 L34.6,36.0 L34.6,35.0 L34.6,34.0 L34.6,33.0 L34.6,32.0 L34.6,31.0 L34.6,30.0 L34.6,29.0 L34.6,28.0 L34.6,27.0 L34.6,26.0 L34.6,25.0 L34.6,24.0 L34.6,23.0 L34.6,22.0 L34.6,21.0 L34.6,20.0 L34.6,19.0 L34.6,18.0 L34.6,17.0 L34.6,16.0 L34.6,15.0 L34.6,14.0Z" class="vio"/>
<path d="M71.9,45.2 L70.5,46.2 L70.4,47.2 L70.3,48.2 L70.3,49.2 L70.2,50.2 L70.1,51.2 L70.0,52.2 L69.9,53.2 L69.7,54.2 L69.5,55.2 L69.4,56.2 L69.2,57.2 L69.0,58.2 L68.8,59.2 L68.6,60.2 L68.4,61.2 L68.2,62.2 L68.0,63.2 L67.8,64.2 L67.6,65.2 L67.4,66.2 L67.2,67.2 L67.0,68.2 L66.7,69.2 L66.5,70.2 L66.3,71.2 L66.1,72.2 L65.9,73.2 L65.8,74.2 L65.7,75.2 L65.7,76.2 L65.8,77.2 L65.9,78.2 L66.0,79.2 L66.2,80.2 L66.4,81.2 L66.6,82.2 L66.8,83.2 L67.1,84.2 L67.4,85.2 L67.7,86.2 L68.0,87.2 L68.4,88.2 L68.8,89.2 L69.2,90.2 L69.5,91.2 L69.8,92.2 L71.9,92.9 L72.2,92.9 L74.4,92.2 L74.7,91.2 L75.0,90.2 L75.4,89.2 L75.8,88.2 L76.2,87.2 L76.5,86.2 L76.8,85.2 L77.1,84.2 L77.4,83.2 L77.6,82.2 L77.8,81.2 L78.0,80.2 L78.2,79.2 L78.3,78.2 L78.4,77.2 L78.5,76.2 L78.5,75.2 L78.4,74.2 L78.3,73.2 L78.1,72.2 L77.9,71.2 L77.7,70.2 L77.5,69.2 L77.2,68.2 L77.0,67.2 L76.8,66.2 L76.6,65.2 L76.4,64.2 L76.2,63.2 L76.0,62.2 L75.8,61.2 L75.6,60.2 L75.4,59.2 L75.2,58.2 L75.0,57.2 L74.8,56.2 L74.7,55.2 L74.5,54.2 L74.3,53.2 L74.2,52.2 L74.1,51.2 L74.0,50.2 L73.9,49.2 L73.9,48.2 L73.8,47.2 L73.7,46.2 L72.2,45.2Z" class="vio"/>
<line x1="34.50" y1="14.50" x2="72.10" y2="60.46" class="pair"/>
<line x1="34.50" y1="35.30" x2="72.10" y2="45.70" class="pair"/>
<line x1="34.50" y1="60.65" x2="72.10" y2="51.28" class="pair"/>
<line x1="34.50" y1="63.63" x2="72.10" y2="57.01" class="pair"/>
<line x1="34.50" y1="65.33" x2="72.10" y2="62.97" class="pair"/>
<line x1="34.50" y1="66.82" x2="72.10" y2="68.33" class="pair"/>
<line x1="34.50" y1="67.89" x2="72.10" y2="73.34" class="pair"/>
<line x1="34.50" y1="68.95" x2="72.10" y2="70.96" class="pair"/>
<line x1="34.50" y1="70.02" x2="72.10" y2="76.32" class="pair"/>
<line x1="34.50" y1="70.87" x2="72.10" y2="69.77" class="pair"/>
<line x1="34.50" y1="71.51" x2="72.10" y2="65.00" class="pair"/>
<line x1="34.50" y1="72.36" x2="72.10" y2="78.47" class="pair"/>
<line x1="34.50" y1="73.00" x2="72.10" y2="74.42" class="pair"/>
<line x1="34.50" y1="73.64" x2="72.10" y2="75.37" class="pair"/>
<line x1="34.50" y1="74.28" x2="72.10" y2="72.15" class="pair"/>
<line x1="34.50" y1="74.92" x2="72.10" y2="85.03" class="pair"/>
<line x1="34.50" y1="75.77" x2="72.10" y2="82.05" class="pair"/>
<line x1="34.50" y1="76.62" x2="72.10" y2="79.54" class="pair"/>
<line x1="34.50" y1="77.47" x2="72.10" y2="80.74" class="pair"/>
<line x1="34.50" y1="78.54" x2="72.10" y2="83.48" class="pair"/>
<line x1="34.50" y1="79.60" x2="72.10" y2="86.94" class="pair"/>
<line x1="34.50" y1="81.09" x2="72.10" y2="77.40" class="pair"/>
<line x1="34.50" y1="83.01" x2="72.10" y2="89.92" class="pair"/>
<line x1="34.50" y1="86.63" x2="72.10" y2="92.40" class="pair"/>
<line x1="34.50" y1="98.70" x2="72.10" y2="66.78" class="pair"/>
<rect x="30.30" y="69.90" width="8.40" height="11.80" class="box"/>
<ellipse cx="34.50" cy="14.50" rx="0.8" ry="1.05" fill="#3a957f"/>
<ellipse cx="34.50" cy="35.30" rx="0.8" ry="1.05" fill="#3a957f"/>
<ellipse cx="34.50" cy="60.65" rx="0.8" ry="1.05" fill="#3a957f"/>
<ellipse cx="34.50" cy="63.63" rx="0.8" ry="1.05" fill="#3a957f"/>
<ellipse cx="34.50" cy="65.33" rx="0.8" ry="1.05" fill="#3a957f"/>
<ellipse cx="34.50" cy="67.89" rx="0.8" ry="1.05" fill="#3a957f"/>
<ellipse cx="34.50" cy="70.87" rx="0.8" ry="1.05" fill="#3a957f"/>
<ellipse cx="34.50" cy="73.64" rx="0.8" ry="1.05" fill="#3a957f"/>
<ellipse cx="34.50" cy="76.62" rx="0.8" ry="1.05" fill="#3a957f"/>
<ellipse cx="34.50" cy="79.60" rx="0.8" ry="1.05" fill="#3a957f"/>
<ellipse cx="34.50" cy="83.01" rx="0.8" ry="1.05" fill="#3a957f"/>
<ellipse cx="34.50" cy="86.63" rx="0.8" ry="1.05" fill="#3a957f"/>
<ellipse cx="34.50" cy="98.70" rx="0.8" ry="1.05" fill="#3a957f"/>
<rect x="68.10" y="67.00" width="8.00" height="17.00" class="box"/>
<ellipse cx="72.10" cy="45.70" rx="0.8" ry="1.05" fill="#e8975a"/>
<ellipse cx="72.10" cy="51.28" rx="0.8" ry="1.05" fill="#e8975a"/>
<ellipse cx="72.10" cy="57.01" rx="0.8" ry="1.05" fill="#e8975a"/>
<ellipse cx="72.10" cy="60.46" rx="0.8" ry="1.05" fill="#e8975a"/>
<ellipse cx="72.10" cy="62.97" rx="0.8" ry="1.05" fill="#e8975a"/>
<ellipse cx="72.10" cy="65.00" rx="0.8" ry="1.05" fill="#e8975a"/>
<ellipse cx="72.10" cy="68.33" rx="0.8" ry="1.05" fill="#e8975a"/>
<ellipse cx="72.10" cy="70.96" rx="0.8" ry="1.05" fill="#e8975a"/>
<ellipse cx="72.10" cy="74.42" rx="0.8" ry="1.05" fill="#e8975a"/>
<ellipse cx="72.10" cy="77.40" rx="0.8" ry="1.05" fill="#e8975a"/>
<ellipse cx="72.10" cy="79.54" rx="0.8" ry="1.05" fill="#e8975a"/>
<ellipse cx="72.10" cy="83.48" rx="0.8" ry="1.05" fill="#e8975a"/>
<ellipse cx="72.10" cy="86.94" rx="0.8" ry="1.05" fill="#e8975a"/>
<ellipse cx="72.10" cy="89.92" rx="0.8" ry="1.05" fill="#e8975a"/>
<ellipse cx="72.10" cy="92.40" rx="0.8" ry="1.05" fill="#e8975a"/>
<line x1="34.50" y1="76.50" x2="72.10" y2="73.70" class="mline"/>
<circle cx="34.50" cy="76.50" r="1.9" fill="#8a0a0a"/>
<circle cx="72.10" cy="73.70" r="1.9" fill="#8a0a0a"/>
<rect x="40.00" y="75.00" width="18.2" height="3.2" class="lbox"/>
<rect x="42.30" y="76.10" width="4.2" height="1.0" class="lt1"/>
<rect x="49.00" y="75.95" width="7.8" height="1.25" class="lt2"/>
<rect x="76.30" y="72.20" width="18.2" height="3.2" class="lbox"/>
<rect x="78.60" y="73.30" width="4.2" height="1.0" class="lt1"/>
<rect x="85.30" y="73.15" width="7.8" height="1.25" class="lt2"/>
<line x1="34.50" y1="101.8" x2="34.50" y2="102.8" class="xt"/>
<rect x="31.70" y="103.6" width="5.6" height="1.3" class="xl"/>
<rect x="30.70" y="106.1" width="7.6" height="1.4" class="xl"/>
<line x1="72.10" y1="101.8" x2="72.10" y2="102.8" class="xt"/>
<rect x="69.30" y="103.6" width="5.6" height="1.3" class="xl"/>
<rect x="68.30" y="106.1" width="7.6" height="1.4" class="xl"/>
</g>
<g transform="translate(283,219)">
<line x1="13.2" y1="12.90" x2="93.5" y2="12.90" class="grid"/>
<rect x="8" y="12.15" width="4.4" height="1.5" class="tickl"/>
<line x1="13.2" y1="29.00" x2="93.5" y2="29.00" class="grid"/>
<rect x="8" y="28.25" width="4.4" height="1.5" class="tickl"/>
<line x1="13.2" y1="45.40" x2="93.5" y2="45.40" class="grid"/>
<rect x="8" y="44.65" width="4.4" height="1.5" class="tickl"/>
<line x1="13.2" y1="61.70" x2="93.5" y2="61.70" class="grid"/>
<rect x="8" y="60.95" width="4.4" height="1.5" class="tickl"/>
<line x1="13.2" y1="78.30" x2="93.5" y2="78.30" class="grid"/>
<rect x="8" y="77.55" width="4.4" height="1.5" class="tickl"/>
<line x1="13.2" y1="94.90" x2="93.5" y2="94.90" class="grid"/>
<rect x="8" y="94.15" width="4.4" height="1.5" class="tickl"/>
<line x1="35.30" y1="10" x2="35.30" y2="102.5" class="vgrid"/>
<line x1="72.30" y1="10" x2="72.30" y2="102.5" class="vgrid"/>
<text x="40.40" y="7.3" class="title">TBET among CD8<tspan class="sup" dy="-1.9">+</tspan></text>
<text x="14.30" y="14.3" class="sub"><tspan font-style="italic">V</tspan><tspan class="subsc" dy="0.9">Wilcoxon</tspan><tspan dy="-0.9"> = 190.00, </tspan><tspan font-style="italic">p</tspan> = 0.39</text>
<rect x="3.4" y="54.4" width="2.3" height="4.7" class="ylab"/>
<path d="M35.1,14.0 L33.6,15.0 L33.5,16.0 L33.5,17.0 L33.5,18.0 L33.4,19.0 L33.4,20.0 L33.4,21.0 L33.3,22.0 L33.3,23.0 L33.2,24.0 L33.1,25.0 L32.9,26.0 L32.8,27.0 L32.6,28.0 L32.4,29.0 L32.2,30.0 L32.1,31.0 L31.9,32.0 L31.7,33.0 L31.5,34.0 L31.3,35.0 L31.1,36.0 L30.9,37.0 L30.6,38.0 L30.4,39.0 L30.2,40.0 L30.0,41.0 L29.7,42.0 L29.5,43.0 L29.2,44.0 L29.0,45.0 L28.8,46.0 L28.5,47.0 L28.3,48.0 L28.2,49.0 L28.0,50.0 L27.8,51.0 L27.7,52.0 L27.5,53.0 L27.3,54.0 L27.2,55.0 L27.0,56.0 L26.9,57.0 L26.8,58.0 L26.7,59.0 L26.6,60.0 L26.5,61.0 L26.4,62.0 L26.4,63.0 L26.4,64.0 L26.5,65.0 L26.5,66.0 L26.6,67.0 L26.8,68.0 L26.9,69.0 L27.1,70.0 L27.3,71.0 L27.5,72.0 L27.7,73.0 L28.0,74.0 L28.2,75.0 L28.4,76.0 L28.7,77.0 L28.9,78.0 L29.2,79.0 L29.5,80.0 L29.9,81.0 L30.2,82.0 L30.6,83.0 L31.0,84.0 L31.4,85.0 L31.8,86.0 L32.1,87.0 L32.4,88.0 L32.7,89.0 L33.0,90.0 L33.3,91.0 L33.6,92.0 L33.8,93.0 L34.1,94.0 L34.3,95.0 L34.5,96.0 L34.8,97.0 L34.9,98.0 L35.1,98.8 L35.4,98.8 L35.7,98.0 L35.8,97.0 L36.1,96.0 L36.3,95.0 L36.5,94.0 L36.8,93.0 L37.0,92.0 L37.3,91.0 L37.6,90.0 L37.9,89.0 L38.2,88.0 L38.5,87.0 L38.8,86.0 L39.2,85.0 L39.6,84.0 L40.0,83.0 L40.4,82.0 L40.7,81.0 L41.1,80.0 L41.4,79.0 L41.7,78.0 L41.9,77.0 L42.2,76.0 L42.4,75.0 L42.6,74.0 L42.9,73.0 L43.1,72.0 L43.3,71.0 L43.5,70.0 L43.7,69.0 L43.8,68.0 L44.0,67.0 L44.1,66.0 L44.1,65.0 L44.2,64.0 L44.2,63.0 L44.2,62.0 L44.1,61.0 L44.0,60.0 L43.9,59.0 L43.8,58.0 L43.7,57.0 L43.6,56.0 L43.4,55.0 L43.3,54.0 L43.1,53.0 L42.9,52.0 L42.8,51.0 L42.6,50.0 L42.4,49.0 L42.3,48.0 L42.1,47.0 L41.8,46.0 L41.6,45.0 L41.4,44.0 L41.1,43.0 L40.9,42.0 L40.6,41.0 L40.4,40.0 L40.2,39.0 L40.0,38.0 L39.7,37.0 L39.5,36.0 L39.3,35.0 L39.1,34.0 L38.9,33.0 L38.7,32.0 L38.5,31.0 L38.4,30.0 L38.2,29.0 L38.0,28.0 L37.8,27.0 L37.7,26.0 L37.5,25.0 L37.4,24.0 L37.3,23.0 L37.3,22.0 L37.2,21.0 L37.2,20.0 L37.2,19.0 L37.1,18.0 L37.1,17.0 L37.1,16.0 L37.0,15.0 L35.4,14.0Z" class="vio"/>
<path d="M72.1,20.4 L69.9,21.4 L69.9,22.4 L69.8,23.4 L69.8,24.4 L69.8,25.4 L69.7,26.4 L69.7,27.4 L69.7,28.4 L69.7,29.4 L69.7,30.4 L69.6,31.4 L69.5,32.4 L69.5,33.4 L69.3,34.4 L69.2,35.4 L69.1,36.4 L68.9,37.4 L68.7,38.4 L68.5,39.4 L68.3,40.4 L68.1,41.4 L67.9,42.4 L67.7,43.4 L67.5,44.4 L67.3,45.4 L67.1,46.4 L66.8,47.4 L66.5,48.4 L66.3,49.4 L66.0,50.4 L65.7,51.4 L65.3,52.4 L65.1,53.4 L64.8,54.4 L64.5,55.4 L64.3,56.4 L64.1,57.4 L64.0,58.4 L63.9,59.4 L63.8,60.4 L63.7,61.4 L63.6,62.4 L63.6,63.4 L63.5,64.4 L63.5,65.4 L63.4,66.4 L63.4,67.4 L63.4,68.4 L63.5,69.4 L63.7,70.4 L64.0,71.4 L64.3,72.4 L64.7,73.4 L65.1,74.4 L65.5,75.4 L65.9,76.4 L66.2,77.4 L66.5,78.4 L66.8,79.4 L67.0,80.4 L67.4,81.4 L67.9,82.4 L68.7,83.4 L72.1,84.0 L72.5,84.0 L75.9,83.4 L76.7,82.4 L77.2,81.4 L77.6,80.4 L77.8,79.4 L78.1,78.4 L78.4,77.4 L78.7,76.4 L79.1,75.4 L79.5,74.4 L79.9,73.4 L80.3,72.4 L80.6,71.4 L80.9,70.4 L81.1,69.4 L81.2,68.4 L81.2,67.4 L81.2,66.4 L81.1,65.4 L81.1,64.4 L81.0,63.4 L81.0,62.4 L80.9,61.4 L80.8,60.4 L80.7,59.4 L80.6,58.4 L80.5,57.4 L80.3,56.4 L80.1,55.4 L79.8,54.4 L79.5,53.4 L79.3,52.4 L78.9,51.4 L78.6,50.4 L78.3,49.4 L78.1,48.4 L77.8,47.4 L77.5,46.4 L77.3,45.4 L77.1,44.4 L76.9,43.4 L76.7,42.4 L76.5,41.4 L76.3,40.4 L76.1,39.4 L75.9,38.4 L75.7,37.4 L75.5,36.4 L75.4,35.4 L75.3,34.4 L75.1,33.4 L75.1,32.4 L75.0,31.4 L74.9,30.4 L74.9,29.4 L74.9,28.4 L74.9,27.4 L74.9,26.4 L74.8,25.4 L74.8,24.4 L74.8,23.4 L74.7,22.4 L74.7,21.4 L72.5,20.4Z" class="vio"/>
<line x1="35.30" y1="14.50" x2="72.30" y2="28.03" class="pair"/>
<line x1="35.30" y1="26.93" x2="72.30" y2="43.30" class="pair"/>
<line x1="35.30" y1="35.84" x2="72.30" y2="47.11" class="pair"/>
<line x1="35.30" y1="40.71" x2="72.30" y2="20.90" class="pair"/>
<line x1="35.30" y1="44.32" x2="72.30" y2="37.89" class="pair"/>
<line x1="35.30" y1="47.07" x2="72.30" y2="49.97" class="pair"/>
<line x1="35.30" y1="49.40" x2="72.30" y2="52.36" class="pair"/>
<line x1="35.30" y1="51.52" x2="72.30" y2="63.33" class="pair"/>
<line x1="35.30" y1="53.64" x2="72.30" y2="59.20" class="pair"/>
<line x1="35.30" y1="55.55" x2="72.30" y2="65.87" class="pair"/>
<line x1="35.30" y1="57.25" x2="72.30" y2="67.31" class="pair"/>
<line x1="35.30" y1="58.94" x2="72.30" y2="71.44" class="pair"/>
<line x1="35.30" y1="60.64" x2="72.30" y2="61.90" class="pair"/>
<line x1="35.30" y1="62.34" x2="72.30" y2="57.77" class="pair"/>
<line x1="35.30" y1="63.82" x2="72.30" y2="83.50" class="pair"/>
<line x1="35.30" y1="65.30" x2="72.30" y2="54.27" class="pair"/>
<line x1="35.30" y1="67.00" x2="72.30" y2="56.02" class="pair"/>
<line x1="35.30" y1="68.70" x2="72.30" y2="73.03" class="pair"/>
<line x1="35.30" y1="70.60" x2="72.30" y2="80.82" class="pair"/>
<line x1="35.30" y1="72.72" x2="72.30" y2="75.10" class="pair"/>
<line x1="35.30" y1="74.84" x2="72.30" y2="64.60" class="pair"/>
<line x1="35.30" y1="77.39" x2="72.30" y2="69.85" class="pair"/>
<line x1="35.30" y1="80.57" x2="72.30" y2="68.58" class="pair"/>
<line x1="35.30" y1="86.08" x2="72.30" y2="77.48" class="pair"/>
<line x1="35.30" y1="98.30" x2="72.30" y2="60.63" class="pair"/>
<rect x="30.90" y="54.50" width="8.80" height="22.70" class="box"/>
<ellipse cx="35.30" cy="14.50" rx="0.8" ry="1.05" fill="#3a957f"/>
<ellipse cx="35.30" cy="26.93" rx="0.8" ry="1.05" fill="#3a957f"/>
<ellipse cx="35.30" cy="35.84" rx="0.8" ry="1.05" fill="#3a957f"/>
<ellipse cx="35.30" cy="40.71" rx="0.8" ry="1.05" fill="#3a957f"/>
<ellipse cx="35.30" cy="44.32" rx="0.8" ry="1.05" fill="#3a957f"/>
<ellipse cx="35.30" cy="47.07" rx="0.8" ry="1.05" fill="#3a957f"/>
<ellipse cx="35.30" cy="51.52" rx="0.8" ry="1.05" fill="#3a957f"/>
<ellipse cx="35.30" cy="53.64" rx="0.8" ry="1.05" fill="#3a957f"/>
<ellipse cx="35.30" cy="55.55" rx="0.8" ry="1.05" fill="#3a957f"/>
<ellipse cx="35.30" cy="58.94" rx="0.8" ry="1.05" fill="#3a957f"/>
<ellipse cx="35.30" cy="62.34" rx="0.8" ry="1.05" fill="#3a957f"/>
<ellipse cx="35.30" cy="65.30" rx="0.8" ry="1.05" fill="#3a957f"/>
<ellipse cx="35.30" cy="68.70" rx="0.8" ry="1.05" fill="#3a957f"/>
<ellipse cx="35.30" cy="70.60" rx="0.8" ry="1.05" fill="#3a957f"/>
<ellipse cx="35.30" cy="74.84" rx="0.8" ry="1.05" fill="#3a957f"/>
<ellipse cx="35.30" cy="77.39" rx="0.8" ry="1.05" fill="#3a957f"/>
<ellipse cx="35.30" cy="80.57" rx="0.8" ry="1.05" fill="#3a957f"/>
<ellipse cx="35.30" cy="86.08" rx="0.8" ry="1.05" fill="#3a957f"/>
<ellipse cx="35.30" cy="98.30" rx="0.8" ry="1.05" fill="#3a957f"/>
<rect x="68.10" y="47.60" width="8.40" height="28.40" class="box"/>
<ellipse cx="72.30" cy="20.90" rx="0.8" ry="1.05" fill="#e8975a"/>
<ellipse cx="72.30" cy="28.03" rx="0.8" ry="1.05" fill="#e8975a"/>
<ellipse cx="72.30" cy="37.89" rx="0.8" ry="1.05" fill="#e8975a"/>
<ellipse cx="72.30" cy="43.30" rx="0.8" ry="1.05" fill="#e8975a"/>
<ellipse cx="72.30" cy="47.11" rx="0.8" ry="1.05" fill="#e8975a"/>
<ellipse cx="72.30" cy="49.97" rx="0.8" ry="1.05" fill="#e8975a"/>
<ellipse cx="72.30" cy="54.27" rx="0.8" ry="1.05" fill="#e8975a"/>
<ellipse cx="72.30" cy="56.02" rx="0.8" ry="1.05" fill="#e8975a"/>
<ellipse cx="72.30" cy="59.20" rx="0.8" ry="1.05" fill="#e8975a"/>
<ellipse cx="72.30" cy="61.90" rx="0.8" ry="1.05" fill="#e8975a"/>
<ellipse cx="72.30" cy="64.60" rx="0.8" ry="1.05" fill="#e8975a"/>
<ellipse cx="72.30" cy="68.58" rx="0.8" ry="1.05" fill="#e8975a"/>
<ellipse cx="72.30" cy="71.44" rx="0.8" ry="1.05" fill="#e8975a"/>
<ellipse cx="72.30" cy="75.10" rx="0.8" ry="1.05" fill="#e8975a"/>
<ellipse cx="72.30" cy="77.48" rx="0.8" ry="1.05" fill="#e8975a"/>
<ellipse cx="72.30" cy="80.82" rx="0.8" ry="1.05" fill="#e8975a"/>
<ellipse cx="72.30" cy="83.50" rx="0.8" ry="1.05" fill="#e8975a"/>
<line x1="35.30" y1="67.60" x2="72.30" y2="62.90" class="mline"/>
<circle cx="35.30" cy="67.60" r="1.9" fill="#8a0a0a"/>
<circle cx="72.30" cy="62.90" r="1.9" fill="#8a0a0a"/>
<rect x="40.80" y="66.10" width="18.2" height="3.2" class="lbox"/>
<rect x="43.10" y="67.20" width="4.2" height="1.0" class="lt1"/>
<rect x="49.80" y="67.05" width="7.8" height="1.25" class="lt2"/>
<rect x="76.50" y="61.40" width="18.2" height="3.2" class="lbox"/>
<rect x="78.80" y="62.50" width="4.2" height="1.0" class="lt1"/>
<rect x="85.50" y="62.35" width="7.8" height="1.25" class="lt2"/>
<line x1="35.30" y1="101.8" x2="35.30" y2="102.8" class="xt"/>
<rect x="32.50" y="103.6" width="5.6" height="1.3" class="xl"/>
<rect x="31.50" y="106.1" width="7.6" height="1.4" class="xl"/>
<line x1="72.30" y1="101.8" x2="72.30" y2="102.8" class="xt"/>
<rect x="69.50" y="103.6" width="5.6" height="1.3" class="xl"/>
<rect x="68.50" y="106.1" width="7.6" height="1.4" class="xl"/>
</g>
<g transform="translate(0,329)">
<line x1="13.2" y1="34.20" x2="93.5" y2="34.20" class="grid"/>
<rect x="8" y="33.45" width="4.4" height="1.5" class="tickl"/>
<line x1="13.2" y1="59.20" x2="93.5" y2="59.20" class="grid"/>
<rect x="8" y="58.45" width="4.4" height="1.5" class="tickl"/>
<line x1="13.2" y1="84.40" x2="93.5" y2="84.40" class="grid"/>
<rect x="8" y="83.65" width="4.4" height="1.5" class="tickl"/>
<line x1="35.60" y1="10" x2="35.60" y2="102.5" class="vgrid"/>
<line x1="72.90" y1="10" x2="72.90" y2="102.5" class="vgrid"/>
<text x="39.60" y="7.3" class="title">TIGIT among CD4<tspan class="sup" dy="-1.9">+</tspan></text>
<text x="14.60" y="14.3" class="sub"><tspan font-style="italic">V</tspan><tspan class="subsc" dy="0.9">Wilcoxon</tspan><tspan dy="-0.9"> = 173.00, </tspan><tspan font-style="italic">p</tspan> = 0.22</text>
<rect x="3.4" y="54.4" width="2.3" height="4.7" class="ylab"/>
<path d="M35.5,27.4 L34.2,28.4 L34.1,29.4 L34.1,30.4 L34.1,31.4 L34.1,32.4 L34.1,33.4 L34.1,34.4 L34.1,35.4 L34.1,36.4 L34.0,37.4 L34.0,38.4 L34.0,39.4 L34.0,40.4 L33.9,41.4 L33.9,42.4 L33.8,43.4 L33.7,44.4 L33.7,45.4 L33.6,46.4 L33.5,47.4 L33.5,48.4 L33.4,49.4 L33.3,50.4 L33.2,51.4 L33.1,52.4 L33.0,53.4 L32.8,54.4 L32.6,55.4 L32.4,56.4 L32.0,57.4 L31.7,58.4 L31.3,59.4 L30.8,60.4 L30.4,61.4 L30.0,62.4 L29.7,63.4 L29.3,64.4 L29.0,65.4 L28.8,66.4 L28.5,67.4 L28.3,68.4 L28.1,69.4 L27.9,70.4 L27.7,71.4 L27.6,72.4 L27.5,73.4 L27.4,74.4 L27.5,75.4 L27.7,76.4 L27.9,77.4 L28.3,78.4 L28.7,79.4 L29.2,80.4 L29.6,81.4 L30.1,82.4 L30.5,83.4 L30.9,84.4 L31.2,85.4 L31.6,86.4 L32.0,87.4 L32.4,88.4 L32.8,89.4 L33.1,90.4 L33.5,91.4 L33.9,92.4 L34.3,93.4 L34.7,94.4 L35.0,95.4 L35.3,96.4 L35.4,97.4 L35.5,98.4 L35.5,98.5 L35.8,98.5 L35.8,98.4 L35.8,97.4 L35.9,96.4 L36.2,95.4 L36.5,94.4 L36.9,93.4 L37.3,92.4 L37.7,91.4 L38.1,90.4 L38.4,89.4 L38.8,88.4 L39.2,87.4 L39.6,86.4 L40.0,85.4 L40.3,84.4 L40.7,83.4 L41.1,82.4 L41.6,81.4 L42.0,80.4 L42.5,79.4 L42.9,78.4 L43.3,77.4 L43.5,76.4 L43.7,75.4 L43.8,74.4 L43.7,73.4 L43.6,72.4 L43.5,71.4 L43.3,70.4 L43.1,69.4 L42.9,68.4 L42.7,67.4 L42.4,66.4 L42.2,65.4 L41.9,64.4 L41.5,63.4 L41.2,62.4 L40.8,61.4 L40.4,60.4 L39.9,59.4 L39.5,58.4 L39.2,57.4 L38.8,56.4 L38.6,55.4 L38.4,54.4 L38.2,53.4 L38.1,52.4 L38.0,51.4 L37.9,50.4 L37.8,49.4 L37.7,48.4 L37.7,47.4 L37.6,46.4 L37.5,45.4 L37.5,44.4 L37.4,43.4 L37.3,42.4 L37.3,41.4 L37.2,40.4 L37.2,39.4 L37.2,38.4 L37.2,37.4 L37.1,36.4 L37.1,35.4 L37.1,34.4 L37.1,33.4 L37.1,32.4 L37.1,31.4 L37.1,30.4 L37.1,29.4 L37.0,28.4 L35.8,27.4Z" class="vio"/>
<path d="M72.8,14.4 L72.8,15.4 L72.8,16.4 L72.8,17.4 L72.8,18.4 L72.8,19.4 L72.8,20.4 L72.8,21.4 L72.8,22.4 L72.8,23.4 L72.8,24.4 L72.8,25.4 L72.8,26.4 L72.8,27.4 L72.8,28.4 L72.8,29.4 L72.8,30.4 L72.8,31.4 L72.8,32.4 L72.8,33.4 L72.8,34.4 L72.8,35.4 L72.8,36.4 L72.8,37.4 L72.8,38.4 L72.8,39.4 L72.8,40.4 L72.7,41.4 L72.7,42.4 L72.7,43.4 L72.5,44.4 L72.2,45.4 L71.8,46.4 L71.5,47.4 L71.1,48.4 L70.7,49.4 L70.3,50.4 L70.0,51.4 L69.7,52.4 L69.4,53.4 L69.1,54.4 L68.7,55.4 L68.4,56.4 L68.1,57.4 L67.8,58.4 L67.4,59.4 L67.1,60.4 L66.7,61.4 L66.3,62.4 L65.9,63.4 L65.6,64.4 L65.3,65.4 L65.1,66.4 L65.0,67.4 L64.9,68.4 L65.0,69.4 L65.1,70.4 L65.2,71.4 L65.3,72.4 L65.5,73.4 L65.6,74.4 L65.8,75.4 L66.0,76.4 L66.2,77.4 L66.5,78.4 L66.8,79.4 L67.2,80.4 L67.6,81.4 L68.0,82.4 L68.5,83.4 L68.9,84.4 L69.3,85.4 L69.7,86.4 L70.1,87.4 L70.5,88.4 L70.9,89.4 L71.4,90.4 L71.8,91.4 L72.1,92.4 L72.4,93.4 L72.6,94.4 L72.7,95.4 L72.7,96.4 L72.8,96.9 L73.1,96.9 L73.1,96.4 L73.1,95.4 L73.2,94.4 L73.4,93.4 L73.7,92.4 L74.0,91.4 L74.4,90.4 L74.9,89.4 L75.3,88.4 L75.7,87.4 L76.1,86.4 L76.5,85.4 L76.9,84.4 L77.3,83.4 L77.8,82.4 L78.2,81.4 L78.6,80.4 L79.0,79.4 L79.3,78.4 L79.6,77.4 L79.8,76.4 L80.0,75.4 L80.2,74.4 L80.3,73.4 L80.5,72.4 L80.6,71.4 L80.7,70.4 L80.8,69.4 L80.9,68.4 L80.8,67.4 L80.7,66.4 L80.5,65.4 L80.2,64.4 L79.9,63.4 L79.5,62.4 L79.1,61.4 L78.7,60.4 L78.4,59.4 L78.0,58.4 L77.7,57.4 L77.4,56.4 L77.1,55.4 L76.7,54.4 L76.4,53.4 L76.1,52.4 L75.8,51.4 L75.5,50.4 L75.1,49.4 L74.7,48.4 L74.3,47.4 L74.0,46.4 L73.6,45.4 L73.3,44.4 L73.1,43.4 L73.1,42.4 L73.1,41.4 L73.1,40.4 L73.1,39.4 L73.1,38.4 L73.1,37.4 L73.1,36.4 L73.1,35.4 L73.1,34.4 L73.1,33.4 L73.1,32.4 L73.1,31.4 L73.1,30.4 L73.1,29.4 L73.1,28.4 L73.1,27.4 L73.1,26.4 L73.1,25.4 L73.1,24.4 L73.1,23.4 L73.1,22.4 L73.1,21.4 L73.1,20.4 L73.1,19.4 L73.1,18.4 L73.1,17.4 L73.1,16.4 L73.1,15.4 L73.1,14.4Z" class="vio"/>
<line x1="35.60" y1="27.90" x2="72.90" y2="64.11" class="pair"/>
<line x1="35.60" y1="39.49" x2="72.90" y2="68.44" class="pair"/>
<line x1="35.60" y1="52.46" x2="72.90" y2="39.98" class="pair"/>
<line x1="35.60" y1="58.15" x2="72.90" y2="71.53" class="pair"/>
<line x1="35.60" y1="60.99" x2="72.90" y2="62.66" class="pair"/>
<line x1="35.60" y1="62.95" x2="72.90" y2="53.38" class="pair"/>
<line x1="35.60" y1="64.73" x2="72.90" y2="73.80" class="pair"/>
<line x1="35.60" y1="65.97" x2="72.90" y2="69.47" class="pair"/>
<line x1="35.60" y1="67.39" x2="72.90" y2="77.72" class="pair"/>
<line x1="35.60" y1="68.64" x2="72.90" y2="70.50" class="pair"/>
<line x1="35.60" y1="69.70" x2="72.90" y2="66.38" class="pair"/>
<line x1="35.60" y1="70.95" x2="72.90" y2="14.90" class="pair"/>
<line x1="35.60" y1="72.02" x2="72.90" y2="76.28" class="pair"/>
<line x1="35.60" y1="72.90" x2="72.90" y2="72.77" class="pair"/>
<line x1="35.60" y1="73.97" x2="72.90" y2="67.41" class="pair"/>
<line x1="35.60" y1="74.86" x2="72.90" y2="56.89" class="pair"/>
<line x1="35.60" y1="75.75" x2="72.90" y2="88.65" class="pair"/>
<line x1="35.60" y1="76.81" x2="72.90" y2="75.04" class="pair"/>
<line x1="35.60" y1="78.06" x2="72.90" y2="59.16" class="pair"/>
<line x1="35.60" y1="79.48" x2="72.90" y2="96.40" class="pair"/>
<line x1="35.60" y1="80.90" x2="72.90" y2="65.34" class="pair"/>
<line x1="35.60" y1="82.86" x2="72.90" y2="83.70" class="pair"/>
<line x1="35.60" y1="85.35" x2="72.90" y2="79.16" class="pair"/>
<line x1="35.60" y1="89.79" x2="72.90" y2="61.22" class="pair"/>
<line x1="35.60" y1="98.00" x2="72.90" y2="81.23" class="pair"/>
<rect x="32.00" y="64.40" width="7.20" height="17.10" class="box"/>
<ellipse cx="35.60" cy="27.90" rx="0.8" ry="1.05" fill="#3a957f"/>
<ellipse cx="35.60" cy="39.49" rx="0.8" ry="1.05" fill="#3a957f"/>
<ellipse cx="35.60" cy="52.46" rx="0.8" ry="1.05" fill="#3a957f"/>
<ellipse cx="35.60" cy="58.15" rx="0.8" ry="1.05" fill="#3a957f"/>
<ellipse cx="35.60" cy="60.99" rx="0.8" ry="1.05" fill="#3a957f"/>
<ellipse cx="35.60" cy="62.95" rx="0.8" ry="1.05" fill="#3a957f"/>
<ellipse cx="35.60" cy="64.73" rx="0.8" ry="1.05" fill="#3a957f"/>
<ellipse cx="35.60" cy="68.64" rx="0.8" ry="1.05" fill="#3a957f"/>
<ellipse cx="35.60" cy="70.95" rx="0.8" ry="1.05" fill="#3a957f"/>
<ellipse cx="35.60" cy="73.97" rx="0.8" ry="1.05" fill="#3a957f"/>
<ellipse cx="35.60" cy="76.81" rx="0.8" ry="1.05" fill="#3a957f"/>
<ellipse cx="35.60" cy="80.90" rx="0.8" ry="1.05" fill="#3a957f"/>
<ellipse cx="35.60" cy="82.86" rx="0.8" ry="1.05" fill="#3a957f"/>
<ellipse cx="35.60" cy="89.79" rx="0.8" ry="1.05" fill="#3a957f"/>
<ellipse cx="35.60" cy="98.00" rx="0.8" ry="1.05" fill="#3a957f"/>
<rect x="69.00" y="59.90" width="7.80" height="17.00" class="box"/>
<ellipse cx="72.90" cy="14.90" rx="0.8" ry="1.05" fill="#e8975a"/>
<ellipse cx="72.90" cy="39.98" rx="0.8" ry="1.05" fill="#e8975a"/>
<ellipse cx="72.90" cy="53.38" rx="0.8" ry="1.05" fill="#e8975a"/>
<ellipse cx="72.90" cy="56.89" rx="0.8" ry="1.05" fill="#e8975a"/>
<ellipse cx="72.90" cy="59.16" rx="0.8" ry="1.05" fill="#e8975a"/>
<ellipse cx="72.90" cy="62.66" rx="0.8" ry="1.05" fill="#e8975a"/>
<ellipse cx="72.90" cy="65.34" rx="0.8" ry="1.05" fill="#e8975a"/>
<ellipse cx="72.90" cy="68.44" rx="0.8" ry="1.05" fill="#e8975a"/>
<ellipse cx="72.90" cy="70.50" rx="0.8" ry="1.05" fill="#e8975a"/>
<ellipse cx="72.90" cy="73.80" rx="0.8" ry="1.05" fill="#e8975a"/>
<ellipse cx="72.90" cy="77.72" rx="0.8" ry="1.05" fill="#e8975a"/>
<ellipse cx="72.90" cy="81.23" rx="0.8" ry="1.05" fill="#e8975a"/>
<ellipse cx="72.90" cy="83.70" rx="0.8" ry="1.05" fill="#e8975a"/>
<ellipse cx="72.90" cy="88.65" rx="0.8" ry="1.05" fill="#e8975a"/>
<ellipse cx="72.90" cy="96.40" rx="0.8" ry="1.05" fill="#e8975a"/>
<line x1="35.60" y1="72.80" x2="72.90" y2="69.60" class="mline"/>
<circle cx="35.60" cy="72.80" r="1.9" fill="#8a0a0a"/>
<circle cx="72.90" cy="69.60" r="1.9" fill="#8a0a0a"/>
<rect x="41.10" y="71.30" width="18.2" height="3.2" class="lbox"/>
<rect x="43.40" y="72.40" width="4.2" height="1.0" class="lt1"/>
<rect x="50.10" y="72.25" width="7.8" height="1.25" class="lt2"/>
<rect x="77.10" y="68.10" width="18.2" height="3.2" class="lbox"/>
<rect x="79.40" y="69.20" width="4.2" height="1.0" class="lt1"/>
<rect x="86.10" y="69.05" width="7.8" height="1.25" class="lt2"/>
<line x1="35.60" y1="101.8" x2="35.60" y2="102.8" class="xt"/>
<rect x="32.80" y="103.6" width="5.6" height="1.3" class="xl"/>
<rect x="31.80" y="106.1" width="7.6" height="1.4" class="xl"/>
<line x1="72.90" y1="101.8" x2="72.90" y2="102.8" class="xt"/>
<rect x="70.10" y="103.6" width="5.6" height="1.3" class="xl"/>
<rect x="69.10" y="106.1" width="7.6" height="1.4" class="xl"/>
</g>
<g transform="translate(95,329)">
<line x1="13.2" y1="40.10" x2="93.5" y2="40.10" class="grid"/>
<rect x="8" y="39.35" width="4.4" height="1.5" class="tickl"/>
<line x1="13.2" y1="76.90" x2="93.5" y2="76.90" class="grid"/>
<rect x="8" y="76.15" width="4.4" height="1.5" class="tickl"/>
<line x1="34.40" y1="10" x2="34.40" y2="102.5" class="vgrid"/>
<line x1="71.90" y1="10" x2="71.90" y2="102.5" class="vgrid"/>
<text x="40.00" y="7.3" class="title">TIGIT among CD8<tspan class="sup" dy="-1.9">+</tspan></text>
<text x="12.50" y="14.3" class="sub"><tspan font-style="italic">V</tspan><tspan class="subsc" dy="0.9">Wilcoxon</tspan><tspan dy="-0.9"> = 162.00, </tspan><tspan font-style="italic">p</tspan> = 0.15</text>
<rect x="3.4" y="54.4" width="2.3" height="4.7" class="ylab"/>
<path d="M34.2,21.2 L32.9,22.2 L32.9,23.2 L32.9,24.2 L32.9,25.2 L32.9,26.2 L32.9,27.2 L32.9,28.2 L32.9,29.2 L32.9,30.2 L32.9,31.2 L32.9,32.2 L32.9,33.2 L32.9,34.2 L32.9,35.2 L32.9,36.2 L32.9,37.2 L32.9,38.2 L32.9,39.2 L32.9,40.2 L32.9,41.2 L32.9,42.2 L32.9,43.2 L32.8,44.2 L32.8,45.2 L32.7,46.2 L32.6,47.2 L32.4,48.2 L32.3,49.2 L32.1,50.2 L32.0,51.2 L31.9,52.2 L31.7,53.2 L31.5,54.2 L31.4,55.2 L31.2,56.2 L31.0,57.2 L30.8,58.2 L30.5,59.2 L30.3,60.2 L30.1,61.2 L29.9,62.2 L29.7,63.2 L29.5,64.2 L29.3,65.2 L29.0,66.2 L28.8,67.2 L28.6,68.2 L28.3,69.2 L28.0,70.2 L27.8,71.2 L27.5,72.2 L27.3,73.2 L27.0,74.2 L26.8,75.2 L26.7,76.2 L26.5,77.2 L26.5,78.2 L26.4,79.2 L26.4,80.2 L26.5,81.2 L26.5,82.2 L26.6,83.2 L26.8,84.2 L26.9,85.2 L27.0,86.2 L27.2,87.2 L27.4,88.2 L27.7,89.2 L28.1,90.2 L28.7,91.2 L29.3,92.2 L29.9,93.2 L30.5,94.2 L30.9,95.2 L31.3,96.2 L31.7,97.2 L34.2,98.2 L34.2,98.5 L34.5,98.5 L34.5,98.2 L37.1,97.2 L37.5,96.2 L37.9,95.2 L38.3,94.2 L38.9,93.2 L39.5,92.2 L40.1,91.2 L40.7,90.2 L41.1,89.2 L41.4,88.2 L41.6,87.2 L41.8,86.2 L41.9,85.2 L42.0,84.2 L42.2,83.2 L42.3,82.2 L42.3,81.2 L42.4,80.2 L42.4,79.2 L42.3,78.2 L42.3,77.2 L42.1,76.2 L42.0,75.2 L41.8,74.2 L41.5,73.2 L41.3,72.2 L41.0,71.2 L40.8,70.2 L40.5,69.2 L40.2,68.2 L40.0,67.2 L39.8,66.2 L39.5,65.2 L39.3,64.2 L39.1,63.2 L38.9,62.2 L38.7,61.2 L38.5,60.2 L38.3,59.2 L38.0,58.2 L37.8,57.2 L37.6,56.2 L37.4,55.2 L37.3,54.2 L37.1,53.2 L36.9,52.2 L36.8,51.2 L36.7,50.2 L36.5,49.2 L36.4,48.2 L36.2,47.2 L36.1,46.2 L36.0,45.2 L36.0,44.2 L35.9,43.2 L35.9,42.2 L35.9,41.2 L35.9,40.2 L35.9,39.2 L35.9,38.2 L35.9,37.2 L35.9,36.2 L35.9,35.2 L35.9,34.2 L35.9,33.2 L35.9,32.2 L35.9,31.2 L35.9,30.2 L35.9,29.2 L35.9,28.2 L35.9,27.2 L35.9,26.2 L35.9,25.2 L35.9,24.2 L35.9,23.2 L35.9,22.2 L34.5,21.2Z" class="vio"/>
<path d="M71.8,14.4 L71.7,15.4 L71.7,16.4 L71.7,17.4 L71.6,18.4 L71.5,19.4 L71.4,20.4 L71.3,21.4 L71.2,22.4 L71.0,23.4 L70.9,24.4 L70.7,25.4 L70.6,26.4 L70.5,27.4 L70.3,28.4 L70.2,29.4 L70.1,30.4 L70.0,31.4 L70.0,32.4 L69.9,33.4 L69.9,34.4 L69.9,35.4 L69.8,36.4 L69.8,37.4 L69.8,38.4 L69.8,39.4 L69.8,40.4 L69.8,41.4 L69.8,42.4 L69.8,43.4 L69.7,44.4 L69.7,45.4 L69.7,46.4 L69.7,47.4 L69.7,48.4 L69.7,49.4 L69.6,50.4 L69.6,51.4 L69.6,52.4 L69.5,53.4 L69.4,54.4 L69.2,55.4 L69.0,56.4 L68.8,57.4 L68.6,58.4 L68.3,59.4 L68.1,60.4 L67.9,61.4 L67.6,62.4 L67.4,63.4 L67.1,64.4 L66.9,65.4 L66.6,66.4 L66.3,67.4 L66.0,68.4 L65.8,69.4 L65.5,70.4 L65.2,71.4 L64.9,72.4 L64.7,73.4 L64.4,74.4 L64.2,75.4 L64.0,76.4 L63.8,77.4 L63.5,78.4 L63.3,79.4 L63.1,80.4 L63.0,81.4 L62.9,82.4 L62.9,83.4 L63.0,84.4 L63.2,85.4 L63.6,86.4 L64.1,87.4 L64.8,88.4 L65.4,89.4 L66.2,90.4 L66.8,91.4 L71.8,92.4 L71.8,92.8 L72.1,92.8 L72.1,92.4 L77.0,91.4 L77.6,90.4 L78.4,89.4 L79.0,88.4 L79.7,87.4 L80.2,86.4 L80.6,85.4 L80.8,84.4 L80.9,83.4 L80.9,82.4 L80.8,81.4 L80.7,80.4 L80.5,79.4 L80.3,78.4 L80.0,77.4 L79.8,76.4 L79.6,75.4 L79.4,74.4 L79.1,73.4 L78.9,72.4 L78.6,71.4 L78.3,70.4 L78.0,69.4 L77.8,68.4 L77.5,67.4 L77.2,66.4 L76.9,65.4 L76.7,64.4 L76.4,63.4 L76.2,62.4 L75.9,61.4 L75.7,60.4 L75.5,59.4 L75.2,58.4 L75.0,57.4 L74.8,56.4 L74.6,55.4 L74.4,54.4 L74.3,53.4 L74.2,52.4 L74.2,51.4 L74.2,50.4 L74.1,49.4 L74.1,48.4 L74.1,47.4 L74.1,46.4 L74.1,45.4 L74.1,44.4 L74.0,43.4 L74.0,42.4 L74.0,41.4 L74.0,40.4 L74.0,39.4 L74.0,38.4 L74.0,37.4 L74.0,36.4 L73.9,35.4 L73.9,34.4 L73.9,33.4 L73.8,32.4 L73.8,31.4 L73.7,30.4 L73.6,29.4 L73.5,28.4 L73.3,27.4 L73.2,26.4 L73.1,25.4 L72.9,24.4 L72.8,23.4 L72.6,22.4 L72.5,21.4 L72.4,20.4 L72.3,19.4 L72.2,18.4 L72.1,17.4 L72.1,16.4 L72.1,15.4 L72.1,14.4Z" class="vio"/>
<line x1="34.40" y1="21.70" x2="71.90" y2="14.90" class="pair"/>
<line x1="34.40" y1="35.31" x2="71.90" y2="56.93" class="pair"/>
<line x1="34.40" y1="53.28" x2="71.90" y2="65.36" class="pair"/>
<line x1="34.40" y1="59.08" x2="71.90" y2="30.67" class="pair"/>
<line x1="34.40" y1="62.94" x2="71.90" y2="46.35" class="pair"/>
<line x1="34.40" y1="65.65" x2="71.90" y2="70.06" class="pair"/>
<line x1="34.40" y1="67.97" x2="71.90" y2="73.40" class="pair"/>
<line x1="34.40" y1="70.09" x2="71.90" y2="71.83" class="pair"/>
<line x1="34.40" y1="71.83" x2="71.90" y2="67.91" class="pair"/>
<line x1="34.40" y1="73.38" x2="71.90" y2="76.14" class="pair"/>
<line x1="34.40" y1="74.92" x2="71.90" y2="62.03" class="pair"/>
<line x1="34.40" y1="76.28" x2="71.90" y2="77.32" class="pair"/>
<line x1="34.40" y1="77.63" x2="71.90" y2="74.77" class="pair"/>
<line x1="34.40" y1="78.79" x2="71.90" y2="80.65" class="pair"/>
<line x1="34.40" y1="79.95" x2="71.90" y2="78.49" class="pair"/>
<line x1="34.40" y1="81.11" x2="71.90" y2="83.78" class="pair"/>
<line x1="34.40" y1="82.27" x2="71.90" y2="84.76" class="pair"/>
<line x1="34.40" y1="83.62" x2="71.90" y2="79.67" class="pair"/>
<line x1="34.40" y1="84.97" x2="71.90" y2="85.74" class="pair"/>
<line x1="34.40" y1="86.33" x2="71.90" y2="82.80" class="pair"/>
<line x1="34.40" y1="87.68" x2="71.90" y2="87.12" class="pair"/>
<line x1="34.40" y1="89.22" x2="71.90" y2="92.30" class="pair"/>
<line x1="34.40" y1="91.16" x2="71.90" y2="81.82" class="pair"/>
<line x1="34.40" y1="94.44" x2="71.90" y2="88.68" class="pair"/>
<line x1="34.40" y1="98.00" x2="71.90" y2="90.64" class="pair"/>
<rect x="30.20" y="59.90" width="8.40" height="23.80" class="box"/>
<ellipse cx="34.40" cy="21.70" rx="0.8" ry="1.05" fill="#3a957f"/>
<ellipse cx="34.40" cy="35.31" rx="0.8" ry="1.05" fill="#3a957f"/>
<ellipse cx="34.40" cy="53.28" rx="0.8" ry="1.05" fill="#3a957f"/>
<ellipse cx="34.40" cy="59.08" rx="0.8" ry="1.05" fill="#3a957f"/>
<ellipse cx="34.40" cy="62.94" rx="0.8" ry="1.05" fill="#3a957f"/>
<ellipse cx="34.40" cy="65.65" rx="0.8" ry="1.05" fill="#3a957f"/>
<ellipse cx="34.40" cy="67.97" rx="0.8" ry="1.05" fill="#3a957f"/>
<ellipse cx="34.40" cy="71.83" rx="0.8" ry="1.05" fill="#3a957f"/>
<ellipse cx="34.40" cy="74.92" rx="0.8" ry="1.05" fill="#3a957f"/>
<ellipse cx="34.40" cy="77.63" rx="0.8" ry="1.05" fill="#3a957f"/>
<ellipse cx="34.40" cy="79.95" rx="0.8" ry="1.05" fill="#3a957f"/>
<ellipse cx="34.40" cy="83.62" rx="0.8" ry="1.05" fill="#3a957f"/>
<ellipse cx="34.40" cy="86.33" rx="0.8" ry="1.05" fill="#3a957f"/>
<ellipse cx="34.40" cy="89.22" rx="0.8" ry="1.05" fill="#3a957f"/>
<ellipse cx="34.40" cy="94.44" rx="0.8" ry="1.05" fill="#3a957f"/>
<ellipse cx="34.40" cy="98.00" rx="0.8" ry="1.05" fill="#3a957f"/>
<rect x="67.40" y="59.90" width="9.00" height="31.80" class="box"/>
<ellipse cx="71.90" cy="14.90" rx="0.8" ry="1.05" fill="#e8975a"/>
<ellipse cx="71.90" cy="30.67" rx="0.8" ry="1.05" fill="#e8975a"/>
<ellipse cx="71.90" cy="46.35" rx="0.8" ry="1.05" fill="#e8975a"/>
<ellipse cx="71.90" cy="56.93" rx="0.8" ry="1.05" fill="#e8975a"/>
<ellipse cx="71.90" cy="62.03" rx="0.8" ry="1.05" fill="#e8975a"/>
<ellipse cx="71.90" cy="65.36" rx="0.8" ry="1.05" fill="#e8975a"/>
<ellipse cx="71.90" cy="67.91" rx="0.8" ry="1.05" fill="#e8975a"/>
<ellipse cx="71.90" cy="71.83" rx="0.8" ry="1.05" fill="#e8975a"/>
<ellipse cx="71.90" cy="74.77" rx="0.8" ry="1.05" fill="#e8975a"/>
<ellipse cx="71.90" cy="77.32" rx="0.8" ry="1.05" fill="#e8975a"/>
<ellipse cx="71.90" cy="79.67" rx="0.8" ry="1.05" fill="#e8975a"/>
<ellipse cx="71.90" cy="82.80" rx="0.8" ry="1.05" fill="#e8975a"/>
<ellipse cx="71.90" cy="85.74" rx="0.8" ry="1.05" fill="#e8975a"/>
<ellipse cx="71.90" cy="88.68" rx="0.8" ry="1.05" fill="#e8975a"/>
<ellipse cx="71.90" cy="92.30" rx="0.8" ry="1.05" fill="#e8975a"/>
<line x1="34.40" y1="80.00" x2="71.90" y2="75.80" class="mline"/>
<circle cx="34.40" cy="80.00" r="1.9" fill="#8a0a0a"/>
<circle cx="71.90" cy="75.80" r="1.9" fill="#8a0a0a"/>
<rect x="39.90" y="78.50" width="18.2" height="3.2" class="lbox"/>
<rect x="42.20" y="79.60" width="4.2" height="1.0" class="lt1"/>
<rect x="48.90" y="79.45" width="7.8" height="1.25" class="lt2"/>
<rect x="76.10" y="74.30" width="18.2" height="3.2" class="lbox"/>
<rect x="78.40" y="75.40" width="4.2" height="1.0" class="lt1"/>
<rect x="85.10" y="75.25" width="7.8" height="1.25" class="lt2"/>
<line x1="34.40" y1="101.8" x2="34.40" y2="102.8" class="xt"/>
<rect x="31.60" y="103.6" width="5.6" height="1.3" class="xl"/>
<rect x="30.60" y="106.1" width="7.6" height="1.4" class="xl"/>
<line x1="71.90" y1="101.8" x2="71.90" y2="102.8" class="xt"/>
<rect x="69.10" y="103.6" width="5.6" height="1.3" class="xl"/>
<rect x="68.10" y="106.1" width="7.6" height="1.4" class="xl"/>
</g>
<g transform="translate(189,329)">
<line x1="13.2" y1="20.50" x2="93.5" y2="20.50" class="grid"/>
<rect x="8" y="19.75" width="4.4" height="1.5" class="tickl"/>
<line x1="13.2" y1="46.20" x2="93.5" y2="46.20" class="grid"/>
<rect x="8" y="45.45" width="4.4" height="1.5" class="tickl"/>
<line x1="13.2" y1="71.90" x2="93.5" y2="71.90" class="grid"/>
<rect x="8" y="71.15" width="4.4" height="1.5" class="tickl"/>
<line x1="13.2" y1="97.70" x2="93.5" y2="97.70" class="grid"/>
<rect x="8" y="96.95" width="4.4" height="1.5" class="tickl"/>
<line x1="34.40" y1="10" x2="34.40" y2="102.5" class="vgrid"/>
<line x1="71.90" y1="10" x2="71.90" y2="102.5" class="vgrid"/>
<text x="40.00" y="7.3" class="title">TIM3 among CD4<tspan class="sup" dy="-1.9">+</tspan></text>
<text x="13.30" y="14.3" class="sub"><tspan font-style="italic">V</tspan><tspan class="subsc" dy="0.9">Wilcoxon</tspan><tspan dy="-0.9"> = 254.00, </tspan><tspan font-style="italic">p</tspan> = 0.67</text>
<rect x="3.4" y="54.4" width="2.3" height="4.7" class="ylab"/>
<path d="M34.2,14.4 L34.0,15.4 L33.8,16.4 L33.6,17.4 L33.4,18.4 L33.2,19.4 L33.0,20.4 L32.8,21.4 L32.6,22.4 L32.4,23.4 L32.2,24.4 L32.0,25.4 L31.7,26.4 L31.5,27.4 L31.3,28.4 L31.1,29.4 L30.9,30.4 L30.7,31.4 L30.5,32.4 L30.4,33.4 L30.2,34.4 L30.0,35.4 L29.9,36.4 L29.7,37.4 L29.6,38.4 L29.5,39.4 L29.3,40.4 L29.2,41.4 L29.1,42.4 L29.0,43.4 L28.8,44.4 L28.7,45.4 L28.5,46.4 L28.4,47.4 L28.2,48.4 L28.1,49.4 L27.9,50.4 L27.7,51.4 L27.5,52.4 L27.3,53.4 L27.1,54.4 L26.9,55.4 L26.8,56.4 L26.6,57.4 L26.4,58.4 L26.3,59.4 L26.2,60.4 L26.1,61.4 L26.0,62.4 L25.9,63.4 L25.8,64.4 L25.7,65.4 L25.7,66.4 L25.6,67.4 L25.6,68.4 L25.7,69.4 L25.8,70.4 L25.9,71.4 L26.1,72.4 L26.3,73.4 L26.5,74.4 L26.7,75.4 L26.9,76.4 L27.2,77.4 L27.6,78.4 L27.9,79.4 L28.4,80.4 L28.8,81.4 L29.2,82.4 L29.6,83.4 L30.0,84.4 L30.4,85.4 L30.8,86.4 L31.2,87.4 L31.6,88.4 L32.0,89.4 L32.4,90.4 L32.8,91.4 L33.2,92.4 L33.7,93.4 L34.2,94.4 L34.2,94.5 L34.5,94.5 L34.5,94.4 L35.1,93.4 L35.6,92.4 L36.0,91.4 L36.4,90.4 L36.8,89.4 L37.2,88.4 L37.6,87.4 L38.0,86.4 L38.4,85.4 L38.8,84.4 L39.2,83.4 L39.6,82.4 L40.0,81.4 L40.4,80.4 L40.9,79.4 L41.2,78.4 L41.6,77.4 L41.9,76.4 L42.1,75.4 L42.3,74.4 L42.5,73.4 L42.7,72.4 L42.9,71.4 L43.0,70.4 L43.1,69.4 L43.2,68.4 L43.2,67.4 L43.1,66.4 L43.1,65.4 L43.0,64.4 L42.9,63.4 L42.8,62.4 L42.7,61.4 L42.6,60.4 L42.5,59.4 L42.4,58.4 L42.2,57.4 L42.0,56.4 L41.9,55.4 L41.7,54.4 L41.5,53.4 L41.3,52.4 L41.1,51.4 L40.9,50.4 L40.7,49.4 L40.6,48.4 L40.4,47.4 L40.3,46.4 L40.1,45.4 L40.0,44.4 L39.8,43.4 L39.7,42.4 L39.6,41.4 L39.5,40.4 L39.3,39.4 L39.2,38.4 L39.1,37.4 L38.9,36.4 L38.8,35.4 L38.6,34.4 L38.4,33.4 L38.3,32.4 L38.1,31.4 L37.9,30.4 L37.7,29.4 L37.5,28.4 L37.3,27.4 L37.1,26.4 L36.8,25.4 L36.6,24.4 L36.4,23.4 L36.2,22.4 L36.0,21.4 L35.8,20.4 L35.6,19.4 L35.4,18.4 L35.2,17.4 L35.0,16.4 L34.8,15.4 L34.5,14.4Z" class="vio"/>
<path d="M71.8,14.4 L69.9,15.4 L69.8,16.4 L69.8,17.4 L69.7,18.4 L69.7,19.4 L69.7,20.4 L69.7,21.4 L69.7,22.4 L69.6,23.4 L69.6,24.4 L69.6,25.4 L69.5,26.4 L69.4,27.4 L69.4,28.4 L69.3,29.4 L69.2,30.4 L69.1,31.4 L69.0,32.4 L68.9,33.4 L68.8,34.4 L68.6,35.4 L68.5,36.4 L68.4,37.4 L68.3,38.4 L68.1,39.4 L68.0,40.4 L67.9,41.4 L67.7,42.4 L67.6,43.4 L67.4,44.4 L67.2,45.4 L67.0,46.4 L66.8,47.4 L66.6,48.4 L66.4,49.4 L66.2,50.4 L66.0,51.4 L65.8,52.4 L65.6,53.4 L65.5,54.4 L65.3,55.4 L65.1,56.4 L64.9,57.4 L64.8,58.4 L64.6,59.4 L64.4,60.4 L64.2,61.4 L64.0,62.4 L63.9,63.4 L63.7,64.4 L63.6,65.4 L63.6,66.4 L63.5,67.4 L63.5,68.4 L63.6,69.4 L63.6,70.4 L63.7,71.4 L63.9,72.4 L64.0,73.4 L64.2,74.4 L64.4,75.4 L64.6,76.4 L64.7,77.4 L64.9,78.4 L65.1,79.4 L65.4,80.4 L65.6,81.4 L65.9,82.4 L66.1,83.4 L66.4,84.4 L66.8,85.4 L67.1,86.4 L67.4,87.4 L67.8,88.4 L68.1,89.4 L68.5,90.4 L68.8,91.4 L69.2,92.4 L69.6,93.4 L70.0,94.4 L70.4,95.4 L70.8,96.4 L71.2,97.4 L71.8,98.4 L71.8,98.5 L72.1,98.5 L72.1,98.4 L72.6,97.4 L73.0,96.4 L73.4,95.4 L73.8,94.4 L74.2,93.4 L74.6,92.4 L75.0,91.4 L75.3,90.4 L75.7,89.4 L76.0,88.4 L76.4,87.4 L76.7,86.4 L77.0,85.4 L77.4,84.4 L77.7,83.4 L77.9,82.4 L78.2,81.4 L78.4,80.4 L78.7,79.4 L78.9,78.4 L79.1,77.4 L79.2,76.4 L79.4,75.4 L79.6,74.4 L79.8,73.4 L79.9,72.4 L80.1,71.4 L80.2,70.4 L80.2,69.4 L80.3,68.4 L80.3,67.4 L80.2,66.4 L80.2,65.4 L80.1,64.4 L79.9,63.4 L79.8,62.4 L79.6,61.4 L79.4,60.4 L79.2,59.4 L79.0,58.4 L78.9,57.4 L78.7,56.4 L78.5,55.4 L78.3,54.4 L78.2,53.4 L78.0,52.4 L77.8,51.4 L77.6,50.4 L77.4,49.4 L77.2,48.4 L77.0,47.4 L76.8,46.4 L76.6,45.4 L76.4,44.4 L76.2,43.4 L76.1,42.4 L75.9,41.4 L75.8,40.4 L75.7,39.4 L75.5,38.4 L75.4,37.4 L75.3,36.4 L75.2,35.4 L75.0,34.4 L74.9,33.4 L74.8,32.4 L74.7,31.4 L74.6,30.4 L74.5,29.4 L74.4,28.4 L74.4,27.4 L74.3,26.4 L74.2,25.4 L74.2,24.4 L74.2,23.4 L74.1,22.4 L74.1,21.4 L74.1,20.4 L74.1,19.4 L74.1,18.4 L74.0,17.4 L74.0,16.4 L73.9,15.4 L72.1,14.4Z" class="vio"/>
<line x1="34.40" y1="14.90" x2="71.90" y2="35.85" class="pair"/>
<line x1="34.40" y1="28.82" x2="71.90" y2="50.35" class="pair"/>
<line x1="34.40" y1="36.03" x2="71.90" y2="42.57" class="pair"/>
<line x1="34.40" y1="40.83" x2="71.90" y2="53.30" class="pair"/>
<line x1="34.40" y1="44.64" x2="71.90" y2="68.22" class="pair"/>
<line x1="34.40" y1="48.04" x2="71.90" y2="66.75" class="pair"/>
<line x1="34.40" y1="50.85" x2="71.90" y2="69.91" class="pair"/>
<line x1="34.40" y1="53.25" x2="71.90" y2="63.60" class="pair"/>
<line x1="34.40" y1="55.45" x2="71.90" y2="24.49" class="pair"/>
<line x1="34.40" y1="57.45" x2="71.90" y2="76.84" class="pair"/>
<line x1="34.40" y1="59.26" x2="71.90" y2="84.62" class="pair"/>
<line x1="34.40" y1="61.06" x2="71.90" y2="65.28" class="pair"/>
<line x1="34.40" y1="62.66" x2="71.90" y2="61.71" class="pair"/>
<line x1="34.40" y1="64.26" x2="71.90" y2="71.38" class="pair"/>
<line x1="34.40" y1="65.86" x2="71.90" y2="89.46" class="pair"/>
<line x1="34.40" y1="67.47" x2="71.90" y2="57.92" class="pair"/>
<line x1="34.40" y1="68.87" x2="71.90" y2="46.99" class="pair"/>
<line x1="34.40" y1="70.47" x2="71.90" y2="98.00" class="pair"/>
<line x1="34.40" y1="72.07" x2="71.90" y2="55.82" class="pair"/>
<line x1="34.40" y1="73.87" x2="71.90" y2="74.95" class="pair"/>
<line x1="34.40" y1="75.88" x2="71.90" y2="73.06" class="pair"/>
<line x1="34.40" y1="78.08" x2="71.90" y2="78.95" class="pair"/>
<line x1="34.40" y1="80.88" x2="71.90" y2="81.47" class="pair"/>
<line x1="34.40" y1="85.49" x2="71.90" y2="14.90" class="pair"/>
<line x1="34.40" y1="94.00" x2="71.90" y2="60.02" class="pair"/>
<rect x="30.50" y="46.10" width="7.80" height="28.40" class="box"/>
<ellipse cx="34.40" cy="14.90" rx="0.8" ry="1.05" fill="#3a957f"/>
<ellipse cx="34.40" cy="28.82" rx="0.8" ry="1.05" fill="#3a957f"/>
<ellipse cx="34.40" cy="36.03" rx="0.8" ry="1.05" fill="#3a957f"/>
<ellipse cx="34.40" cy="40.83" rx="0.8" ry="1.05" fill="#3a957f"/>
<ellipse cx="34.40" cy="44.64" rx="0.8" ry="1.05" fill="#3a957f"/>
<ellipse cx="34.40" cy="48.04" rx="0.8" ry="1.05" fill="#3a957f"/>
<ellipse cx="34.40" cy="50.85" rx="0.8" ry="1.05" fill="#3a957f"/>
<ellipse cx="34.40" cy="53.25" rx="0.8" ry="1.05" fill="#3a957f"/>
<ellipse cx="34.40" cy="57.45" rx="0.8" ry="1.05" fill="#3a957f"/>
<ellipse cx="34.40" cy="59.26" rx="0.8" ry="1.05" fill="#3a957f"/>
<ellipse cx="34.40" cy="62.66" rx="0.8" ry="1.05" fill="#3a957f"/>
<ellipse cx="34.40" cy="65.86" rx="0.8" ry="1.05" fill="#3a957f"/>
<ellipse cx="34.40" cy="68.87" rx="0.8" ry="1.05" fill="#3a957f"/>
<ellipse cx="34.40" cy="72.07" rx="0.8" ry="1.05" fill="#3a957f"/>
<ellipse cx="34.40" cy="73.87" rx="0.8" ry="1.05" fill="#3a957f"/>
<ellipse cx="34.40" cy="78.08" rx="0.8" ry="1.05" fill="#3a957f"/>
<ellipse cx="34.40" cy="80.88" rx="0.8" ry="1.05" fill="#3a957f"/>
<ellipse cx="34.40" cy="85.49" rx="0.8" ry="1.05" fill="#3a957f"/>
<ellipse cx="34.40" cy="94.00" rx="0.8" ry="1.05" fill="#3a957f"/>
<rect x="67.70" y="46.10" width="8.40" height="31.80" class="box"/>
<ellipse cx="71.90" cy="14.90" rx="0.8" ry="1.05" fill="#e8975a"/>
<ellipse cx="71.90" cy="24.49" rx="0.8" ry="1.05" fill="#e8975a"/>
<ellipse cx="71.90" cy="35.85" rx="0.8" ry="1.05" fill="#e8975a"/>
<ellipse cx="71.90" cy="42.57" rx="0.8" ry="1.05" fill="#e8975a"/>
<ellipse cx="71.90" cy="46.99" rx="0.8" ry="1.05" fill="#e8975a"/>
<ellipse cx="71.90" cy="50.35" rx="0.8" ry="1.05" fill="#e8975a"/>
<ellipse cx="71.90" cy="53.30" rx="0.8" ry="1.05" fill="#e8975a"/>
<ellipse cx="71.90" cy="55.82" rx="0.8" ry="1.05" fill="#e8975a"/>
<ellipse cx="71.90" cy="60.02" rx="0.8" ry="1.05" fill="#e8975a"/>
<ellipse cx="71.90" cy="61.71" rx="0.8" ry="1.05" fill="#e8975a"/>
<ellipse cx="71.90" cy="65.28" rx="0.8" ry="1.05" fill="#e8975a"/>
<ellipse cx="71.90" cy="68.22" rx="0.8" ry="1.05" fill="#e8975a"/>
<ellipse cx="71.90" cy="71.38" rx="0.8" ry="1.05" fill="#e8975a"/>
<ellipse cx="71.90" cy="74.95" rx="0.8" ry="1.05" fill="#e8975a"/>
<ellipse cx="71.90" cy="76.84" rx="0.8" ry="1.05" fill="#e8975a"/>
<ellipse cx="71.90" cy="81.47" rx="0.8" ry="1.05" fill="#e8975a"/>
<ellipse cx="71.90" cy="84.62" rx="0.8" ry="1.05" fill="#e8975a"/>
<ellipse cx="71.90" cy="89.46" rx="0.8" ry="1.05" fill="#e8975a"/>
<ellipse cx="71.90" cy="98.00" rx="0.8" ry="1.05" fill="#e8975a"/>
<line x1="34.40" y1="65.90" x2="71.90" y2="66.50" class="mline"/>
<circle cx="34.40" cy="65.90" r="1.9" fill="#8a0a0a"/>
<circle cx="71.90" cy="66.50" r="1.9" fill="#8a0a0a"/>
<rect x="39.90" y="64.40" width="18.2" height="3.2" class="lbox"/>
<rect x="42.20" y="65.50" width="4.2" height="1.0" class="lt1"/>
<rect x="48.90" y="65.35" width="7.8" height="1.25" class="lt2"/>
<rect x="76.10" y="65.00" width="18.2" height="3.2" class="lbox"/>
<rect x="78.40" y="66.10" width="4.2" height="1.0" class="lt1"/>
<rect x="85.10" y="65.95" width="7.8" height="1.25" class="lt2"/>
<line x1="34.40" y1="101.8" x2="34.40" y2="102.8" class="xt"/>
<rect x="31.60" y="103.6" width="5.6" height="1.3" class="xl"/>
<rect x="30.60" y="106.1" width="7.6" height="1.4" class="xl"/>
<line x1="71.90" y1="101.8" x2="71.90" y2="102.8" class="xt"/>
<rect x="69.10" y="103.6" width="5.6" height="1.3" class="xl"/>
<rect x="68.10" y="106.1" width="7.6" height="1.4" class="xl"/>
</g>
<g transform="translate(283,329)">
<line x1="13.2" y1="24.00" x2="93.5" y2="24.00" class="grid"/>
<rect x="8" y="23.25" width="4.4" height="1.5" class="tickl"/>
<line x1="13.2" y1="40.50" x2="93.5" y2="40.50" class="grid"/>
<rect x="8" y="39.75" width="4.4" height="1.5" class="tickl"/>
<line x1="13.2" y1="57.60" x2="93.5" y2="57.60" class="grid"/>
<rect x="8" y="56.85" width="4.4" height="1.5" class="tickl"/>
<line x1="13.2" y1="74.20" x2="93.5" y2="74.20" class="grid"/>
<rect x="8" y="73.45" width="4.4" height="1.5" class="tickl"/>
<line x1="13.2" y1="91.00" x2="93.5" y2="91.00" class="grid"/>
<rect x="8" y="90.25" width="4.4" height="1.5" class="tickl"/>
<line x1="36.00" y1="10" x2="36.00" y2="102.5" class="vgrid"/>
<line x1="73.40" y1="10" x2="73.40" y2="102.5" class="vgrid"/>
<text x="40.60" y="7.3" class="title">TIM3 among CD8<tspan class="sup" dy="-1.9">+</tspan></text>
<text x="14.30" y="14.3" class="sub"><tspan font-style="italic">V</tspan><tspan class="subsc" dy="0.9">Wilcoxon</tspan><tspan dy="-0.9"> = 252.00, </tspan><tspan font-style="italic">p</tspan> = 0.70</text>
<rect x="3.4" y="54.4" width="2.3" height="4.7" class="ylab"/>
<path d="M35.9,14.4 L35.6,15.4 L35.5,16.4 L35.3,17.4 L35.0,18.4 L34.8,19.4 L34.6,20.4 L34.4,21.4 L34.2,22.4 L34.0,23.4 L33.7,24.4 L33.5,25.4 L33.3,26.4 L33.0,27.4 L32.8,28.4 L32.6,29.4 L32.3,30.4 L32.0,31.4 L31.8,32.4 L31.5,33.4 L31.3,34.4 L31.0,35.4 L30.8,36.4 L30.5,37.4 L30.3,38.4 L30.0,39.4 L29.7,40.4 L29.4,41.4 L29.1,42.4 L28.7,43.4 L28.4,44.4 L28.1,45.4 L27.8,46.4 L27.5,47.4 L27.3,48.4 L27.1,49.4 L27.0,50.4 L26.9,51.4 L26.9,52.4 L26.9,53.4 L27.0,54.4 L27.1,55.4 L27.1,56.4 L27.2,57.4 L27.3,58.4 L27.5,59.4 L27.6,60.4 L27.7,61.4 L27.9,62.4 L28.0,63.4 L28.2,64.4 L28.4,65.4 L28.6,66.4 L28.8,67.4 L29.1,68.4 L29.4,69.4 L29.7,70.4 L29.9,71.4 L30.2,72.4 L30.5,73.4 L30.8,74.4 L31.1,75.4 L31.4,76.4 L31.6,77.4 L31.8,78.4 L32.1,79.4 L32.3,80.4 L32.5,81.4 L32.7,82.4 L32.9,83.4 L33.2,84.4 L33.4,85.4 L33.7,86.4 L33.9,87.4 L34.3,88.4 L34.6,89.4 L35.0,90.4 L35.4,91.4 L35.9,92.4 L36.1,92.4 L36.6,91.4 L37.0,90.4 L37.4,89.4 L37.7,88.4 L38.1,87.4 L38.3,86.4 L38.6,85.4 L38.8,84.4 L39.1,83.4 L39.3,82.4 L39.5,81.4 L39.7,80.4 L39.9,79.4 L40.2,78.4 L40.4,77.4 L40.6,76.4 L40.9,75.4 L41.2,74.4 L41.5,73.4 L41.8,72.4 L42.1,71.4 L42.3,70.4 L42.6,69.4 L42.9,68.4 L43.2,67.4 L43.4,66.4 L43.6,65.4 L43.8,64.4 L44.0,63.4 L44.1,62.4 L44.3,61.4 L44.4,60.4 L44.5,59.4 L44.7,58.4 L44.8,57.4 L44.9,56.4 L44.9,55.4 L45.0,54.4 L45.1,53.4 L45.1,52.4 L45.1,51.4 L45.0,50.4 L44.9,49.4 L44.7,48.4 L44.5,47.4 L44.2,46.4 L43.9,45.4 L43.6,44.4 L43.3,43.4 L42.9,42.4 L42.6,41.4 L42.3,40.4 L42.0,39.4 L41.7,38.4 L41.5,37.4 L41.2,36.4 L41.0,35.4 L40.7,34.4 L40.5,33.4 L40.2,32.4 L40.0,31.4 L39.7,30.4 L39.4,29.4 L39.2,28.4 L39.0,27.4 L38.7,26.4 L38.5,25.4 L38.3,24.4 L38.0,23.4 L37.8,22.4 L37.6,21.4 L37.4,20.4 L37.2,19.4 L37.0,18.4 L36.7,17.4 L36.5,16.4 L36.4,15.4 L36.1,14.4Z" class="vio"/>
<path d="M73.2,22.4 L71.1,23.4 L70.7,24.4 L70.6,25.4 L70.4,26.4 L70.3,27.4 L70.1,28.4 L69.9,29.4 L69.7,30.4 L69.5,31.4 L69.2,32.4 L68.9,33.4 L68.7,34.4 L68.4,35.4 L68.2,36.4 L67.9,37.4 L67.7,38.4 L67.5,39.4 L67.3,40.4 L67.2,41.4 L67.0,42.4 L67.0,43.4 L66.9,44.4 L66.8,45.4 L66.8,46.4 L66.7,47.4 L66.6,48.4 L66.6,49.4 L66.5,50.4 L66.5,51.4 L66.5,52.4 L66.4,53.4 L66.4,54.4 L66.4,55.4 L66.4,56.4 L66.4,57.4 L66.5,58.4 L66.5,59.4 L66.6,60.4 L66.7,61.4 L66.8,62.4 L66.9,63.4 L67.0,64.4 L67.1,65.4 L67.2,66.4 L67.4,67.4 L67.5,68.4 L67.6,69.4 L67.7,70.4 L67.9,71.4 L68.0,72.4 L68.2,73.4 L68.3,74.4 L68.5,75.4 L68.7,76.4 L68.8,77.4 L69.0,78.4 L69.2,79.4 L69.4,80.4 L69.6,81.4 L69.8,82.4 L69.9,83.4 L70.1,84.4 L70.3,85.4 L70.5,86.4 L70.7,87.4 L70.9,88.4 L71.1,89.4 L71.3,90.4 L71.5,91.4 L71.7,92.4 L71.9,93.4 L72.1,94.4 L72.3,95.4 L72.5,96.4 L72.8,97.4 L73.0,98.4 L73.2,99.4 L73.2,99.6 L73.6,99.6 L73.6,99.4 L73.8,98.4 L74.0,97.4 L74.3,96.4 L74.5,95.4 L74.7,94.4 L74.9,93.4 L75.1,92.4 L75.3,91.4 L75.5,90.4 L75.7,89.4 L75.9,88.4 L76.1,87.4 L76.3,86.4 L76.5,85.4 L76.7,84.4 L76.9,83.4 L77.0,82.4 L77.2,81.4 L77.4,80.4 L77.6,79.4 L77.8,78.4 L78.0,77.4 L78.1,76.4 L78.3,75.4 L78.5,74.4 L78.6,73.4 L78.8,72.4 L78.9,71.4 L79.1,70.4 L79.2,69.4 L79.3,68.4 L79.4,67.4 L79.6,66.4 L79.7,65.4 L79.8,64.4 L79.9,63.4 L80.0,62.4 L80.1,61.4 L80.2,60.4 L80.3,59.4 L80.3,58.4 L80.4,57.4 L80.4,56.4 L80.4,55.4 L80.4,54.4 L80.4,53.4 L80.3,52.4 L80.3,51.4 L80.3,50.4 L80.2,49.4 L80.2,48.4 L80.1,47.4 L80.0,46.4 L80.0,45.4 L79.9,44.4 L79.8,43.4 L79.8,42.4 L79.6,41.4 L79.5,40.4 L79.3,39.4 L79.1,38.4 L78.9,37.4 L78.6,36.4 L78.4,35.4 L78.1,34.4 L77.9,33.4 L77.6,32.4 L77.3,31.4 L77.1,30.4 L76.9,29.4 L76.7,28.4 L76.5,27.4 L76.4,26.4 L76.2,25.4 L76.1,24.4 L75.7,23.4 L73.6,22.4Z" class="vio"/>
<line x1="36.00" y1="14.90" x2="73.40" y2="48.26" class="pair"/>
<line x1="36.00" y1="28.25" x2="73.40" y2="37.26" class="pair"/>
<line x1="36.00" y1="34.68" x2="73.40" y2="50.19" class="pair"/>
<line x1="36.00" y1="38.58" x2="73.40" y2="28.19" class="pair"/>
<line x1="36.00" y1="41.31" x2="73.40" y2="44.40" class="pair"/>
<line x1="36.00" y1="43.84" x2="73.40" y2="39.96" class="pair"/>
<line x1="36.00" y1="45.80" x2="73.40" y2="46.33" class="pair"/>
<line x1="36.00" y1="47.55" x2="73.40" y2="69.88" class="pair"/>
<line x1="36.00" y1="49.30" x2="73.40" y2="22.90" class="pair"/>
<line x1="36.00" y1="50.87" x2="73.40" y2="59.07" class="pair"/>
<line x1="36.00" y1="52.23" x2="73.40" y2="53.86" class="pair"/>
<line x1="36.00" y1="53.59" x2="73.40" y2="55.60" class="pair"/>
<line x1="36.00" y1="54.96" x2="73.40" y2="80.11" class="pair"/>
<line x1="36.00" y1="56.52" x2="73.40" y2="61.00" class="pair"/>
<line x1="36.00" y1="57.88" x2="73.40" y2="63.12" class="pair"/>
<line x1="36.00" y1="59.64" x2="73.40" y2="33.79" class="pair"/>
<line x1="36.00" y1="61.20" x2="73.40" y2="51.93" class="pair"/>
<line x1="36.00" y1="62.76" x2="73.40" y2="86.86" class="pair"/>
<line x1="36.00" y1="64.71" x2="73.40" y2="99.10" class="pair"/>
<line x1="36.00" y1="66.66" x2="73.40" y2="65.25" class="pair"/>
<line x1="36.00" y1="69.00" x2="73.40" y2="67.37" class="pair"/>
<line x1="36.00" y1="71.92" x2="73.40" y2="72.58" class="pair"/>
<line x1="36.00" y1="75.63" x2="73.40" y2="42.28" class="pair"/>
<line x1="36.00" y1="81.87" x2="73.40" y2="75.86" class="pair"/>
<line x1="36.00" y1="91.90" x2="73.40" y2="57.33" class="pair"/>
<rect x="31.90" y="46.20" width="8.20" height="21.60" class="box"/>
<ellipse cx="36.00" cy="14.90" rx="0.8" ry="1.05" fill="#3a957f"/>
<ellipse cx="36.00" cy="28.25" rx="0.8" ry="1.05" fill="#3a957f"/>
<ellipse cx="36.00" cy="34.68" rx="0.8" ry="1.05" fill="#3a957f"/>
<ellipse cx="36.00" cy="38.58" rx="0.8" ry="1.05" fill="#3a957f"/>
<ellipse cx="36.00" cy="41.31" rx="0.8" ry="1.05" fill="#3a957f"/>
<ellipse cx="36.00" cy="43.84" rx="0.8" ry="1.05" fill="#3a957f"/>
<ellipse cx="36.00" cy="47.55" rx="0.8" ry="1.05" fill="#3a957f"/>
<ellipse cx="36.00" cy="50.87" rx="0.8" ry="1.05" fill="#3a957f"/>
<ellipse cx="36.00" cy="53.59" rx="0.8" ry="1.05" fill="#3a957f"/>
<ellipse cx="36.00" cy="56.52" rx="0.8" ry="1.05" fill="#3a957f"/>
<ellipse cx="36.00" cy="59.64" rx="0.8" ry="1.05" fill="#3a957f"/>
<ellipse cx="36.00" cy="62.76" rx="0.8" ry="1.05" fill="#3a957f"/>
<ellipse cx="36.00" cy="64.71" rx="0.8" ry="1.05" fill="#3a957f"/>
<ellipse cx="36.00" cy="69.00" rx="0.8" ry="1.05" fill="#3a957f"/>
<ellipse cx="36.00" cy="71.92" rx="0.8" ry="1.05" fill="#3a957f"/>
<ellipse cx="36.00" cy="75.63" rx="0.8" ry="1.05" fill="#3a957f"/>
<ellipse cx="36.00" cy="81.87" rx="0.8" ry="1.05" fill="#3a957f"/>
<ellipse cx="36.00" cy="91.90" rx="0.8" ry="1.05" fill="#3a957f"/>
<rect x="69.20" y="44.10" width="8.40" height="31.80" class="box"/>
<ellipse cx="73.40" cy="22.90" rx="0.8" ry="1.05" fill="#e8975a"/>
<ellipse cx="73.40" cy="28.19" rx="0.8" ry="1.05" fill="#e8975a"/>
<ellipse cx="73.40" cy="33.79" rx="0.8" ry="1.05" fill="#e8975a"/>
<ellipse cx="73.40" cy="37.26" rx="0.8" ry="1.05" fill="#e8975a"/>
<ellipse cx="73.40" cy="39.96" rx="0.8" ry="1.05" fill="#e8975a"/>
<ellipse cx="73.40" cy="42.28" rx="0.8" ry="1.05" fill="#e8975a"/>
<ellipse cx="73.40" cy="44.40" rx="0.8" ry="1.05" fill="#e8975a"/>
<ellipse cx="73.40" cy="48.26" rx="0.8" ry="1.05" fill="#e8975a"/>
<ellipse cx="73.40" cy="50.19" rx="0.8" ry="1.05" fill="#e8975a"/>
<ellipse cx="73.40" cy="53.86" rx="0.8" ry="1.05" fill="#e8975a"/>
<ellipse cx="73.40" cy="55.60" rx="0.8" ry="1.05" fill="#e8975a"/>
<ellipse cx="73.40" cy="59.07" rx="0.8" ry="1.05" fill="#e8975a"/>
<ellipse cx="73.40" cy="63.12" rx="0.8" ry="1.05" fill="#e8975a"/>
<ellipse cx="73.40" cy="65.25" rx="0.8" ry="1.05" fill="#e8975a"/>
<ellipse cx="73.40" cy="69.88" rx="0.8" ry="1.05" fill="#e8975a"/>
<ellipse cx="73.40" cy="72.58" rx="0.8" ry="1.05" fill="#e8975a"/>
<ellipse cx="73.40" cy="75.86" rx="0.8" ry="1.05" fill="#e8975a"/>
<ellipse cx="73.40" cy="80.11" rx="0.8" ry="1.05" fill="#e8975a"/>
<ellipse cx="73.40" cy="86.86" rx="0.8" ry="1.05" fill="#e8975a"/>
<ellipse cx="73.40" cy="99.10" rx="0.8" ry="1.05" fill="#e8975a"/>
<line x1="36.00" y1="55.30" x2="73.40" y2="52.00" class="mline"/>
<circle cx="36.00" cy="55.30" r="1.9" fill="#8a0a0a"/>
<circle cx="73.40" cy="52.00" r="1.9" fill="#8a0a0a"/>
<rect x="41.50" y="53.80" width="18.2" height="3.2" class="lbox"/>
<rect x="43.80" y="54.90" width="4.2" height="1.0" class="lt1"/>
<rect x="50.50" y="54.75" width="7.8" height="1.25" class="lt2"/>
<rect x="77.60" y="50.50" width="18.2" height="3.2" class="lbox"/>
<rect x="79.90" y="51.60" width="4.2" height="1.0" class="lt1"/>
<rect x="86.60" y="51.45" width="7.8" height="1.25" class="lt2"/>
<line x1="36.00" y1="101.8" x2="36.00" y2="102.8" class="xt"/>
<rect x="33.20" y="103.6" width="5.6" height="1.3" class="xl"/>
<rect x="32.20" y="106.1" width="7.6" height="1.4" class="xl"/>
<line x1="73.40" y1="101.8" x2="73.40" y2="102.8" class="xt"/>
<rect x="70.60" y="103.6" width="5.6" height="1.3" class="xl"/>
<rect x="69.60" y="106.1" width="7.6" height="1.4" class="xl"/>
</g>
<line x1="95.5" y1="0" x2="95.5" y2="440" class="sep"/>
<line x1="189.5" y1="0" x2="189.5" y2="440" class="sep"/>
<line x1="283.5" y1="0" x2="283.5" y2="440" class="sep"/>
<line x1="0" y1="109.5" x2="381" y2="109.5" class="sep"/>
<line x1="0" y1="219.5" x2="381" y2="219.5" class="sep"/>
<line x1="0" y1="329.5" x2="381" y2="329.5" class="sep"/>
<path d="M95.5,109.6 H189.6 V329.2 H1.3 V219.5 H95.5 Z M95.5,109.6 V329.2 M1.3,219.5 H189.6" class="frame"/>
</svg></body></html>
